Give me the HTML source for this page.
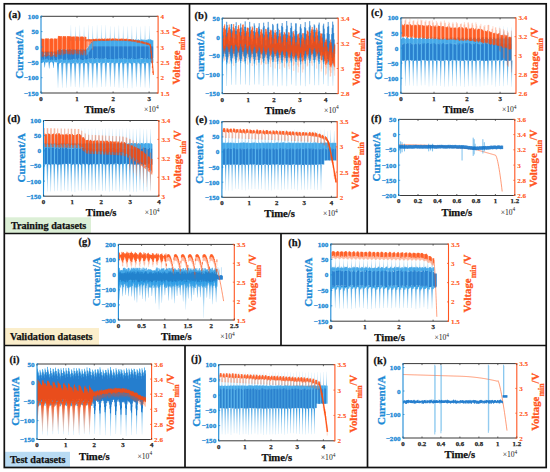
<!DOCTYPE html>
<html><head><meta charset="utf-8"><style>
html,body{margin:0;padding:0;background:#fff;width:550px;height:472px;overflow:hidden;position:relative}
svg text{font-family:'Liberation Serif', serif}
</style></head><body>
<svg width="550" height="472" viewBox="0 0 550 472" style="position:absolute;left:0;top:0;font-family:'Liberation Serif', serif"><rect width="550" height="472" fill="#fff"/><rect x="5" y="217.3" width="86" height="16.5" fill="#dcefd6"/><rect x="5" y="328" width="94" height="17" fill="#fbeecb"/><rect x="5" y="451.8" width="65" height="15.5" fill="#b9dbf3"/><text x="10.9" y="228.6" font-size="10.2" fill="#111" stroke="#111" stroke-width="0.25" text-anchor="start" font-weight="bold" >Training datasets</text><text x="10.0" y="339.6" font-size="10.2" fill="#111" stroke="#111" stroke-width="0.25" text-anchor="start" font-weight="bold" >Validation datasets</text><text x="10.0" y="462.9" font-size="10.2" fill="#111" stroke="#111" stroke-width="0.25" text-anchor="start" font-weight="bold" >Test datasets</text><linearGradient id="g1" gradientUnits="userSpaceOnUse" x1="0" y1="62.3" x2="0" y2="87.5"><stop offset="0" stop-color="#2f98e0" stop-opacity="0.95"/><stop offset="1" stop-color="#b0dcf6" stop-opacity="0.7"/></linearGradient><linearGradient id="g2" gradientUnits="userSpaceOnUse" x1="0" y1="40.8" x2="0" y2="26.1"><stop offset="0" stop-color="#6ab8ea" stop-opacity="0.8"/><stop offset="1" stop-color="#c5e5f8" stop-opacity="0.6"/></linearGradient><clipPath id="c1"><rect x="41.0" y="16.3" width="117.1" height="76.7"/></clipPath><g clip-path="url(#c1)" fill="none"><path d="M39.66,62.01L41.26,62.01L40.66,68.04L40.26,68.04ZM43.88,62.01L45.48,62.01L44.88,67.59L44.48,67.59ZM48.42,62.01L50.02,62.01L49.42,68.46L49.02,68.46ZM52.66,62.01L54.26,62.01L53.66,68.01L53.26,68.01ZM56.92,62.93L59.12,62.93L58.22,87.83L57.82,87.83ZM61.16,62.93L63.36,62.93L62.46,87.82L62.06,87.82ZM65.48,62.93L67.68,62.93L66.78,87.74L66.38,87.74ZM69.82,62.93L72.02,62.93L71.12,86.81L70.72,86.81ZM74.07,62.93L76.27,62.93L75.37,87.06L74.97,87.06ZM78.55,62.93L80.75,62.93L79.85,87.62L79.45,87.62ZM82.79,62.93L84.99,62.93L84.09,87.55L83.69,87.55ZM87.18,62.93L89.38,62.93L88.48,87.22L88.08,87.22ZM91.55,62.93L93.75,62.93L92.85,87.72L92.45,87.72ZM95.90,62.93L98.10,62.93L97.20,87.44L96.80,87.44ZM100.29,62.93L102.49,62.93L101.59,86.92L101.19,86.92ZM104.73,62.93L106.93,62.93L106.03,86.66L105.63,86.66ZM109.22,62.93L111.42,62.93L110.52,86.69L110.12,86.69ZM113.54,62.93L115.74,62.93L114.84,86.88L114.44,86.88ZM117.92,62.93L120.12,62.93L119.22,87.65L118.82,87.65ZM122.18,62.93L124.38,62.93L123.48,88.00L123.08,88.00ZM126.60,62.93L128.80,62.93L127.90,88.17L127.50,88.17ZM130.97,62.93L133.17,62.93L132.27,88.32L131.87,88.32ZM135.29,62.93L137.49,62.93L136.59,86.86L136.19,86.86ZM139.59,62.93L141.79,62.93L140.89,87.24L140.49,87.24ZM143.96,62.93L146.16,62.93L145.26,87.61L144.86,87.61ZM148.33,62.93L150.53,62.93L149.63,88.35L149.23,88.35Z" fill="url(#g1)"/><path d="M70.37,40.84L71.37,40.84L71.07,25.20L70.67,25.20ZM74.94,40.84L75.94,40.84L75.64,26.66L75.24,26.66ZM79.29,40.84L80.29,40.84L79.99,25.53L79.59,25.53ZM83.55,40.84L84.55,40.84L84.25,26.74L83.85,26.74ZM87.94,40.84L88.94,40.84L88.64,25.36L88.24,25.36ZM92.19,40.84L93.19,40.84L92.89,26.11L92.49,26.11ZM96.62,40.84L97.62,40.84L97.32,25.33L96.92,25.33ZM100.87,40.84L101.87,40.84L101.57,25.26L101.17,25.26ZM105.20,40.84L106.20,40.84L105.90,25.24L105.50,25.24ZM109.73,40.84L110.73,40.84L110.43,26.32L110.03,26.32ZM113.97,40.84L114.97,40.84L114.67,26.74L114.27,26.74ZM118.32,40.84L119.32,40.84L119.02,25.48L118.62,25.48ZM122.74,40.84L123.74,40.84L123.44,26.30L123.04,26.30ZM127.26,40.84L128.26,40.84L127.96,26.58L127.56,26.58ZM131.36,40.84L132.36,40.84L132.06,26.00L131.66,26.00ZM135.87,40.84L136.87,40.84L136.57,26.82L136.17,26.82ZM140.24,40.84L141.24,40.84L140.94,26.47L140.54,26.47ZM144.56,40.84L145.56,40.84L145.26,25.83L144.86,25.83ZM148.86,40.84L149.86,40.84L149.56,25.90L149.16,25.90Z" fill="url(#g2)"/><path d="M40.42,54.96V62.01M44.42,54.96V62.01M44.92,54.96V62.01M48.92,54.96V62.01M49.42,54.96V62.01M53.42,54.96V62.01M53.92,54.96V62.01M57.42,50.05V62.93M57.92,50.05V62.93M61.92,50.05V62.93M62.42,50.05V62.93M66.42,50.05V62.93M66.92,50.05V62.93M70.92,50.05V62.93M74.92,50.05V62.93M75.42,50.05V62.93M79.42,50.05V62.93M79.92,50.05V62.93M83.92,50.05V62.93M84.42,50.05V62.93M87.92,47.49V62.93M88.42,46.80V62.93M92.42,41.36V62.93M92.92,40.67V62.93M96.92,40.23V62.93M97.42,40.23V62.93M101.42,40.23V62.93M105.42,40.23V62.93M105.92,40.23V62.93M109.92,40.23V62.93M110.42,40.23V62.93M114.42,40.23V62.93M114.92,40.23V62.93M118.42,40.23V62.93M118.92,40.23V62.93M122.92,40.23V62.93M123.42,40.23V62.93M127.42,40.23V62.93M127.92,40.23V62.93M131.92,40.23V62.93M132.42,40.23V62.93M135.92,40.23V62.93M136.42,40.23V62.93M140.42,40.23V62.93M140.92,40.23V62.93M144.92,40.23V62.93M145.42,40.23V62.93M148.92,40.23V62.93M149.42,40.23V62.93" stroke="#4cb2ee" stroke-width="0.75"/><path d="M39.92,59.25V62.44M40.92,59.25V62.56M41.42,59.25V62.52M41.92,59.25V61.86M42.42,59.25V62.57M42.92,59.25V62.25M43.42,59.25V62.17M43.92,59.25V61.79M45.42,59.25V62.26M45.92,59.25V61.98M46.42,59.25V62.48M46.92,59.25V62.58M47.42,59.25V62.24M47.92,59.25V61.60M48.42,59.25V61.77M49.92,59.25V62.15M50.42,59.25V62.48M50.92,59.25V62.15M51.42,59.25V61.54M51.92,59.25V62.19M52.42,59.25V62.34M52.92,59.25V62.62M54.42,59.25V61.78M54.92,59.25V61.52M55.42,59.25V62.14M55.92,59.25V62.37M56.42,59.25V62.44M56.92,59.25V61.87M58.42,59.25V63.40M58.92,59.25V63.44M59.42,59.25V63.35M59.92,59.25V62.88M60.42,59.25V62.69M60.92,59.25V62.89M61.42,59.25V62.34M62.92,59.25V63.27M63.42,59.25V63.20M63.92,59.25V62.40M64.42,59.25V63.27M64.92,59.25V62.52M65.42,59.25V62.74M65.92,59.25V63.33M67.42,59.25V63.06M67.92,59.25V63.39M68.42,59.25V62.53M68.92,59.25V63.39M69.42,59.25V62.40M69.92,59.25V63.24M70.42,59.25V63.03M71.42,59.25V62.83M71.92,59.25V62.89M72.42,59.25V63.54M72.92,59.25V62.86M73.42,59.25V63.42M73.92,59.25V62.92M74.42,59.25V62.80M75.92,59.25V62.89M76.42,59.25V62.39M76.92,59.25V63.38M77.42,59.25V63.46M77.92,59.25V62.67M78.42,59.25V63.28M78.92,59.25V62.53M80.42,59.25V63.31M80.92,59.25V63.01M81.42,59.25V63.47M81.92,59.25V63.22M82.42,59.25V63.03M82.92,59.25V62.42M83.42,59.25V62.70M84.92,59.25V62.56M85.42,59.25V62.99M85.92,59.25V63.39M86.42,49.64V55.67M86.42,58.64V63.30M86.92,48.22V54.98M86.92,58.64V62.93M87.42,48.45V54.30M87.42,58.64V63.53M88.92,46.20V52.26M88.92,58.64V62.40M89.42,45.22V51.58M89.42,58.64V62.52M89.92,44.22V50.90M89.92,58.64V63.13M90.42,43.61V50.22M90.42,58.64V63.12M90.92,43.62V49.53M90.92,58.64V63.23M91.42,41.99V48.85M91.42,58.64V62.72M91.92,41.98V48.17M91.92,58.64V63.35M93.42,39.36V46.37M93.42,58.64V62.88M93.92,40.16V46.37M93.92,58.64V63.55M94.42,39.92V46.37M94.42,58.64V62.93M94.92,40.43V46.37M94.92,58.64V63.50M95.42,40.25V46.37M95.42,58.64V62.90M95.92,39.66V46.37M95.92,58.64V63.07M96.42,40.35V46.37M96.42,58.64V62.76M97.92,39.44V46.37M97.92,58.64V62.65M98.42,39.89V46.37M98.42,58.64V62.52M98.92,39.82V46.37M98.92,58.64V62.71M99.42,40.50V46.37M99.42,58.64V63.10M99.92,39.85V46.37M99.92,58.64V62.78M100.42,40.53V46.37M100.42,58.64V62.63M100.92,39.73V46.37M100.92,58.64V62.64M101.92,40.21V46.37M101.92,58.64V63.30M102.42,39.93V46.37M102.42,58.64V62.96M102.92,39.78V46.37M102.92,58.64V63.45M103.42,39.63V46.37M103.42,58.64V62.85M103.92,40.21V46.37M103.92,58.64V62.70M104.42,39.90V46.37M104.42,58.64V62.97M104.92,40.29V46.37M104.92,58.64V62.40M106.42,39.53V46.37M106.42,58.64V63.00M106.92,39.38V46.37M106.92,58.64V62.83M107.42,39.37V46.37M107.42,58.64V62.54M107.92,39.67V46.37M107.92,58.64V62.45M108.42,40.53V46.37M108.42,58.64V62.99M108.92,40.12V46.37M108.92,58.64V62.52M109.42,39.51V46.37M109.42,58.64V62.41M110.92,40.18V46.37M110.92,58.64V63.07M111.42,40.09V46.37M111.42,58.64V63.21M111.92,39.51V46.37M111.92,58.64V62.40M112.42,39.91V46.37M112.42,58.64V63.09M112.92,39.54V46.37M112.92,58.64V62.43M113.42,39.65V46.37M113.42,58.64V62.65M113.92,39.75V46.37M113.92,58.64V63.49M115.42,39.96V46.37M115.42,58.64V63.18M115.92,40.22V46.37M115.92,58.64V63.18M116.42,40.33V46.37M116.42,58.64V63.29M116.92,40.27V46.37M116.92,58.64V62.32M117.42,40.30V46.37M117.42,58.64V63.13M117.92,40.22V46.37M117.92,58.64V62.46M119.42,40.03V46.37M119.42,58.64V63.08M119.92,40.20V46.37M119.92,58.64V63.39M120.42,39.48V46.37M120.42,58.64V63.21M120.92,39.99V46.37M120.92,58.64V62.51M121.42,40.50V46.37M121.42,58.64V62.45M121.92,40.54V46.37M121.92,58.64V62.41M122.42,39.34V46.37M122.42,58.64V63.41M123.92,39.70V46.37M123.92,58.64V62.66M124.42,39.98V46.37M124.42,58.64V63.50M124.92,39.41V46.37M124.92,58.64V63.17M125.42,39.76V46.37M125.42,58.64V63.41M125.92,39.82V46.37M125.92,58.64V63.27M126.42,40.17V46.37M126.42,58.64V62.37M126.92,39.95V46.37M126.92,58.64V63.24M128.42,40.16V46.37M128.42,58.64V62.94M128.92,40.22V46.37M128.92,58.64V62.41M129.42,40.12V46.37M129.42,58.64V62.71M129.92,39.63V46.37M129.92,58.64V63.30M130.42,39.53V46.37M130.42,58.64V63.28M130.92,39.37V46.37M130.92,58.64V63.32M131.42,39.72V46.37M131.42,58.64V63.37M132.92,39.34V46.37M132.92,58.64V63.48M133.42,39.43V46.37M133.42,58.64V62.65M133.92,40.13V46.37M133.92,58.64V62.40M134.42,39.72V46.37M134.42,58.64V63.09M134.92,40.53V46.37M134.92,58.64V63.12M135.42,39.35V46.37M135.42,58.64V63.11M136.92,40.01V46.37M136.92,58.64V62.97M137.42,40.30V46.37M137.42,58.64V62.45M137.92,39.54V46.37M137.92,58.64V63.50M138.42,39.41V46.37M138.42,58.64V62.63M138.92,40.20V46.37M138.92,58.64V62.79M139.42,40.15V46.37M139.42,58.64V63.54M139.92,39.76V46.37M139.92,58.64V63.52M141.42,39.36V46.37M141.42,58.64V63.07M141.92,39.93V46.37M141.92,58.64V63.32M142.42,39.53V46.37M142.42,58.64V62.80M142.92,40.09V46.37M142.92,58.64V63.45M143.42,40.23V46.37M143.42,58.64V63.51M143.92,39.33V46.37M143.92,58.64V62.33M144.42,40.42V46.37M144.42,58.64V62.68M145.92,40.03V46.37M145.92,58.64V62.72M146.42,39.72V46.37M146.42,58.64V62.52M146.92,40.08V46.37M146.92,58.64V63.30M147.42,40.35V46.37M147.42,58.64V62.84M147.92,39.32V46.37M147.92,58.64V63.26M148.42,39.32V46.37M148.42,58.64V62.96M149.92,39.42V46.37M149.92,58.64V63.19M150.42,39.34V46.37M150.42,58.64V62.41M150.92,39.99V46.37M150.92,58.64V62.59M151.42,39.81V46.37M151.42,58.64V63.28M151.92,40.29V46.37M151.92,58.64V62.81M152.42,40.52V46.37M152.42,58.64V62.71M152.92,40.29V46.37M152.92,58.64V62.87" stroke="#2e9de6" stroke-width="0.75"/><path d="M39.92,51.58V59.47M40.92,51.58V59.42M41.42,51.58V59.78M41.92,51.58V59.59M42.42,51.58V58.67M42.92,51.58V59.72M43.42,51.58V59.08M43.92,51.58V59.61M45.42,51.58V59.31M45.92,51.58V59.16M46.42,51.58V58.66M46.92,51.58V59.27M47.42,51.58V58.79M47.92,51.58V59.31M48.42,51.58V59.79M49.92,51.58V59.52M50.42,51.58V59.66M50.92,51.58V59.56M51.42,51.58V59.19M51.92,51.58V59.36M52.42,51.58V59.65M52.92,51.58V59.54M54.42,51.58V58.70M54.92,51.58V59.80M55.42,51.58V59.38M55.92,51.58V59.78M56.42,51.58V59.87M56.92,51.58V58.79M58.42,49.43V59.42M58.92,49.43V59.27M59.42,49.43V58.85M59.92,49.43V59.69M60.42,49.43V58.81M60.92,49.43V58.92M61.42,49.43V58.87M62.92,49.43V58.96M63.42,49.43V59.83M63.92,49.43V59.32M64.42,49.43V59.60M64.92,49.43V58.76M65.42,49.43V59.76M65.92,49.43V59.28M67.42,49.43V58.67M67.92,49.43V59.66M68.42,49.43V59.69M68.92,49.43V59.19M69.42,49.43V59.22M69.92,49.43V59.61M70.42,49.43V59.55M71.42,49.43V59.30M71.92,49.43V59.25M72.42,49.43V59.64M72.92,49.43V58.98M73.42,49.43V58.90M73.92,49.43V58.92M74.42,49.43V59.32M75.92,49.43V59.31M76.42,49.43V58.79M76.92,49.43V58.83M77.42,49.43V59.57M77.92,49.43V59.68M78.42,49.43V58.68M78.92,49.43V58.65M80.42,49.43V59.45M80.92,49.43V59.19M81.42,49.43V59.24M81.92,49.43V59.74M82.42,49.43V59.71M82.92,49.43V59.68M83.42,49.43V59.80M84.92,49.43V59.09M85.42,49.43V58.81M85.92,49.43V59.54M86.42,55.67V59.19M86.92,54.98V58.90M87.42,54.30V58.94M88.92,52.26V58.67M89.42,51.58V58.64M89.92,50.90V58.05M90.42,50.22V58.76M90.92,49.53V58.34M91.42,48.85V58.18M91.92,48.17V58.69M93.42,46.37V58.06M93.92,46.37V58.81M94.42,46.37V59.01M94.92,46.37V58.76M95.42,46.37V58.53M95.92,46.37V58.17M96.42,46.37V58.36M97.92,46.37V58.48M98.42,46.37V58.63M98.92,46.37V58.16M99.42,46.37V59.09M99.92,46.37V58.48M100.42,46.37V58.27M100.92,46.37V59.17M101.92,46.37V58.36M102.42,46.37V58.78M102.92,46.37V58.46M103.42,46.37V58.88M103.92,46.37V58.43M104.42,46.37V58.68M104.92,46.37V58.05M106.42,46.37V58.06M106.92,46.37V58.99M107.42,46.37V59.09M107.92,46.37V58.97M108.42,46.37V58.65M108.92,46.37V58.86M109.42,46.37V59.10M110.92,46.37V58.80M111.42,46.37V58.73M111.92,46.37V58.90M112.42,46.37V59.02M112.92,46.37V58.48M113.42,46.37V59.19M113.92,46.37V58.90M115.42,46.37V58.83M115.92,46.37V58.45M116.42,46.37V59.05M116.92,46.37V58.14M117.42,46.37V59.14M117.92,46.37V58.55M119.42,46.37V58.61M119.92,46.37V58.06M120.42,46.37V58.99M120.92,46.37V58.08M121.42,46.37V58.38M121.92,46.37V58.77M122.42,46.37V58.95M123.92,46.37V58.10M124.42,46.37V58.58M124.92,46.37V58.46M125.42,46.37V58.39M125.92,46.37V58.78M126.42,46.37V58.69M126.92,46.37V58.96M128.42,46.37V59.23M128.92,46.37V58.43M129.42,46.37V58.74M129.92,46.37V58.63M130.42,46.37V58.97M130.92,46.37V58.64M131.42,46.37V58.09M132.92,46.37V59.08M133.42,46.37V58.17M133.92,46.37V59.02M134.42,46.37V58.79M134.92,46.37V58.91M135.42,46.37V59.00M136.92,46.37V59.19M137.42,46.37V58.80M137.92,46.37V58.31M138.42,46.37V58.94M138.92,46.37V58.08M139.42,46.37V58.91M139.92,46.37V58.09M141.42,46.37V58.08M141.92,46.37V58.11M142.42,46.37V58.30M142.92,46.37V58.29M143.42,46.37V59.17M143.92,46.37V58.17M144.42,46.37V58.64M145.92,46.37V58.49M146.42,46.37V59.10M146.92,46.37V58.35M147.42,46.37V58.17M147.92,46.37V58.63M148.42,46.37V59.13M149.92,46.37V59.20M150.42,46.37V58.54M150.92,46.37V58.93M151.42,46.37V58.49M151.92,46.37V58.94M152.42,46.37V58.85M152.92,46.37V58.28" stroke="#0f70c8" stroke-width="0.75"/><path d="M40.42,39.31V53.12M44.42,39.31V53.12M44.92,39.31V53.12M48.92,39.31V53.12M49.42,39.31V53.12M53.42,39.31V53.12M53.92,39.31V53.12M57.42,37.78V50.05M57.92,37.78V50.05M61.92,37.78V50.05M62.42,37.78V50.05M66.42,37.78V50.05M66.92,37.78V50.05M70.92,37.78V50.05M74.92,37.78V50.05M75.42,37.78V50.05M79.42,37.78V50.05M79.92,37.78V50.05M83.92,37.78V50.05M84.42,37.78V50.05M87.92,39.31V41.76M87.92,39.31V50.05M88.42,39.29V41.74M88.42,39.29V50.05M92.42,39.14V41.59M92.42,39.14V50.05M92.92,39.12V41.57M92.92,39.12V50.05M96.92,38.98V41.44M97.42,38.97V41.42M101.42,38.85V41.31M105.42,38.76V41.22M105.92,38.76V41.21M109.92,38.71V41.16M110.42,38.70V41.16M114.42,38.70V41.15M114.92,38.70V41.15M118.42,38.73V41.18M118.92,38.74V41.19M122.92,38.81V41.26M123.42,38.82V41.27M127.42,39.01V41.46M127.92,39.04V41.50M131.92,39.48V41.94M132.42,39.55V42.01M135.92,40.13V42.59M136.42,40.23V42.69M140.42,41.04V43.49M140.92,41.14V43.60M144.92,42.10V44.56M145.42,42.24V44.69M148.92,43.26V45.72M149.42,43.42V45.88" stroke="#ff4a0a" stroke-width="0.55" opacity="0.4"/><path d="M39.92,53.12V56.12M40.92,53.12V56.31M41.42,53.12V56.88M41.92,53.12V56.37M42.42,53.12V56.84M42.92,53.12V56.03M43.42,53.12V56.99M43.92,53.12V56.03M45.42,53.12V56.66M45.92,53.12V56.57M46.42,53.12V56.82M46.92,53.12V56.05M47.42,53.12V56.04M47.92,53.12V55.88M48.42,53.12V55.59M49.92,53.12V56.25M50.42,53.12V56.87M50.92,53.12V56.28M51.42,53.12V56.59M51.92,53.12V56.83M52.42,53.12V56.02M52.92,53.12V56.06M54.42,53.12V55.86M54.92,53.12V55.64M55.42,53.12V56.99M55.92,53.12V57.01M56.42,53.12V57.06M56.92,53.12V56.46M58.42,50.05V54.43M58.92,50.05V54.92M59.42,50.05V54.27M59.92,50.05V53.17M60.42,50.05V55.16M60.92,50.05V55.02M61.42,50.05V53.56M62.92,50.05V55.50M63.42,50.05V53.22M63.92,50.05V54.68M64.42,50.05V54.04M64.92,50.05V53.61M65.42,50.05V53.73M65.92,50.05V53.60M67.42,50.05V53.79M67.92,50.05V53.59M68.42,50.05V54.71M68.92,50.05V53.98M69.42,50.05V53.54M69.92,50.05V54.13M70.42,50.05V54.70M71.42,50.05V53.32M71.92,50.05V54.49M72.42,50.05V54.41M72.92,50.05V54.21M73.42,50.05V54.89M73.92,50.05V53.33M74.42,50.05V53.87M75.92,50.05V53.85M76.42,50.05V53.26M76.92,50.05V55.39M77.42,50.05V53.37M77.92,50.05V53.40M78.42,50.05V54.37M78.92,50.05V54.30M80.42,50.05V55.52M80.92,50.05V54.04M81.42,50.05V53.19M81.92,50.05V54.91M82.42,50.05V54.94M82.92,50.05V55.35M83.42,50.05V53.27M84.92,50.05V55.41M85.42,50.05V53.30M85.92,50.05V55.30M86.42,41.15V48.13M86.92,41.15V47.61M87.42,41.15V47.10M88.92,41.11V45.55M89.42,41.09V45.03M89.92,41.07V44.51M90.42,41.05V43.98M90.92,41.03V43.45M91.42,41.02V42.91M91.92,41.00V42.38" stroke="#ff4a0a" stroke-width="0.75" opacity="0.55"/><path d="M39.92,38.96V52.75M40.92,38.98V53.10M41.42,38.50V53.30M41.92,38.65V52.02M42.42,38.83V52.24M42.92,38.89V52.34M43.42,38.96V53.00M43.92,38.81V53.29M45.42,38.57V52.39M45.92,38.56V52.20M46.42,38.54V53.32M46.92,38.53V52.70M47.42,38.64V52.64M47.92,38.71V52.02M48.42,38.39V52.75M49.92,38.99V52.70M50.42,38.53V54.20M50.92,38.95V52.20M51.42,38.47V52.33M51.92,38.42V52.17M52.42,38.71V53.77M52.92,38.78V53.31M54.42,38.62V53.08M54.92,38.47V52.43M55.42,38.61V54.09M55.92,38.79V53.94M56.42,38.78V54.09M56.92,38.85V53.98M58.42,35.92V49.19M58.92,36.34V51.02M59.42,35.98V51.22M59.92,36.25V51.21M60.42,36.36V50.63M60.92,36.39V49.36M61.42,36.11V49.18M62.92,36.43V50.00M63.42,36.23V50.64M63.92,36.08V48.85M64.42,36.55V50.79M64.92,36.29V50.10M65.42,36.22V49.04M65.92,36.51V49.34M67.42,36.17V50.29M67.92,36.21V50.90M68.42,36.37V48.87M68.92,36.19V51.24M69.42,36.27V50.21M69.92,36.67V50.56M70.42,36.27V50.95M71.42,36.59V49.06M71.92,36.85V49.99M72.42,36.77V49.31M72.92,36.57V50.48M73.42,36.75V49.90M73.92,36.45V49.90M74.42,36.61V50.03M75.92,36.38V50.10M76.42,36.63V50.64M76.92,36.71V50.98M77.42,36.52V49.63M77.92,36.92V49.65M78.42,36.78V48.94M78.92,36.77V50.88M80.42,36.63V50.49M80.92,36.88V51.23M81.42,36.61V48.86M81.92,36.63V51.18M82.42,36.62V49.04M82.92,36.70V49.87M83.42,37.10V50.23M84.92,36.65V51.07M85.42,36.85V50.44M85.92,37.06V49.98M86.42,39.43V41.27M86.92,39.40V41.35M87.42,39.28V41.01M88.92,39.07V41.35M89.42,39.25V41.16M89.92,39.10V40.87M90.42,39.44V41.33M90.92,39.45V41.24M91.42,39.33V41.15M91.92,39.30V41.03M93.42,38.82V41.10M93.92,39.10V41.00M94.42,39.21V41.21M94.92,39.17V41.18M95.42,38.93V40.72M95.92,38.72V40.96M96.42,38.79V41.12M97.92,39.17V40.60M98.42,38.73V40.59M98.92,39.09V40.64M99.42,38.70V40.99M99.92,38.90V40.62M100.42,38.86V40.72M100.92,39.12V40.86M101.92,38.55V40.53M102.42,38.66V40.55M102.92,38.97V40.87M103.42,39.07V40.94M103.92,38.92V40.53M104.42,38.54V40.86M104.92,38.80V40.91M106.42,38.93V40.73M106.92,38.73V40.80M107.42,38.50V40.57M107.92,39.02V40.58M108.42,38.94V40.68M108.92,38.56V40.86M109.42,38.47V40.42M110.92,38.65V40.24M111.42,38.94V40.82M111.92,38.84V40.69M112.42,38.46V40.26M112.92,38.67V40.27M113.42,38.54V40.57M113.92,38.93V40.28M115.42,38.41V40.40M115.92,38.77V40.51M116.42,38.71V40.30M116.92,38.94V40.59M117.42,38.88V40.81M117.92,38.78V40.41M119.42,39.01V40.68M119.92,38.67V40.59M120.42,38.82V40.75M120.92,39.06V40.38M121.42,38.72V40.63M121.92,38.57V40.43M122.42,38.78V40.85M123.92,38.67V40.58M124.42,39.01V40.51M124.92,39.02V40.93M125.42,38.87V40.99M125.92,39.21V40.69M126.42,38.70V40.69M126.92,38.84V40.53M128.42,39.14V40.82M128.92,39.42V41.14M129.42,39.00V41.21M129.92,39.35V40.79M130.42,39.42V40.97M130.92,39.40V41.36M131.42,39.59V41.32M132.92,39.69V41.74M133.42,39.44V41.24M133.92,40.07V41.47M134.42,40.07V41.81M134.92,40.18V41.51M135.42,39.84V41.69M136.92,40.07V42.25M137.42,40.49V42.56M137.92,40.81V42.67M138.42,40.74V42.24M138.92,40.60V42.72M139.42,40.58V42.52M139.92,40.95V42.94M141.42,41.29V43.24M141.92,41.22V43.02M142.42,41.59V43.42M142.92,41.44V43.62M143.42,41.83V43.53M143.92,42.10V43.83M144.42,42.13V43.84M145.92,42.16V44.06M146.42,42.47V44.48M146.92,42.81V44.65M147.42,42.87V44.75M147.92,42.86V44.61M148.42,42.90V44.75M149.92,43.78V45.66M150.42,45.88V48.03M150.92,51.31V52.63M151.42,56.25V57.95M151.92,61.17V62.74M152.42,66.08V67.99M152.92,71.18V73.04" stroke="#ff4a0a" stroke-width="0.75"/><path d="M149.09,44.24L149.27,44.30L149.45,44.35L149.63,44.41L149.81,44.47L149.99,44.53L150.17,44.59L150.35,45.33L150.53,46.39L150.71,47.61L150.89,48.96L151.07,50.41L151.25,51.94L151.43,53.56L151.61,55.24L151.79,56.98L151.97,58.78L152.15,60.64L152.34,62.54L152.52,64.49L152.70,66.49L152.88,68.53L153.06,70.61L153.24,72.72L153.42,74.88" stroke="#ff4a0a" stroke-width="1.2" opacity="0.85"/></g><path d="M41.0,16.3H158.1M41.0,93.0H158.1" stroke="#3a3a3a" stroke-width="1" fill="none"/><path d="M41.0,15.8V93.5" stroke="#1c8ad6" stroke-width="1.1" fill="none"/><path d="M158.1,15.8V93.5" stroke="#ff5520" stroke-width="1.1" fill="none"/><path d="M41.0,93.0v-1.5M41.0,16.3v1.5M77.0,93.0v-1.5M77.0,16.3v1.5M113.1,93.0v-1.5M113.1,16.3v1.5M149.1,93.0v-1.5M149.1,16.3v1.5" stroke="#3a3a3a" stroke-width="0.8" fill="none"/><path d="M41.0,16.3h1.5M41.0,31.6h1.5M41.0,47.0h1.5M41.0,62.3h1.5M41.0,77.7h1.5M41.0,93.0h1.5" stroke="#1c8ad6" stroke-width="0.8" fill="none"/><path d="M158.1,16.3h-1.5M158.1,31.6h-1.5M158.1,47.0h-1.5M158.1,62.3h-1.5M158.1,77.7h-1.5M158.1,93.0h-1.5" stroke="#ff5520" stroke-width="0.8" fill="none"/><text x="41.0" y="100.9" font-size="6.8" fill="#222" stroke="#222" stroke-width="0.25" text-anchor="middle" font-weight="bold" >0</text><text x="77.0" y="100.9" font-size="6.8" fill="#222" stroke="#222" stroke-width="0.25" text-anchor="middle" font-weight="bold" >1</text><text x="113.1" y="100.9" font-size="6.8" fill="#222" stroke="#222" stroke-width="0.25" text-anchor="middle" font-weight="bold" >2</text><text x="149.1" y="100.9" font-size="6.8" fill="#222" stroke="#222" stroke-width="0.25" text-anchor="middle" font-weight="bold" >3</text><text x="38.5" y="18.8" font-size="7.1" fill="#1c8ad6" stroke="#1c8ad6" stroke-width="0.3" text-anchor="end" font-weight="bold" >100</text><text x="38.5" y="34.1" font-size="7.1" fill="#1c8ad6" stroke="#1c8ad6" stroke-width="0.3" text-anchor="end" font-weight="bold" >50</text><text x="38.5" y="49.5" font-size="7.1" fill="#1c8ad6" stroke="#1c8ad6" stroke-width="0.3" text-anchor="end" font-weight="bold" >0</text><text x="38.5" y="64.8" font-size="7.1" fill="#1c8ad6" stroke="#1c8ad6" stroke-width="0.3" text-anchor="end" font-weight="bold" >&#8722;50</text><text x="38.5" y="80.2" font-size="7.1" fill="#1c8ad6" stroke="#1c8ad6" stroke-width="0.3" text-anchor="end" font-weight="bold" >&#8722;100</text><text x="38.5" y="95.5" font-size="7.1" fill="#1c8ad6" stroke="#1c8ad6" stroke-width="0.3" text-anchor="end" font-weight="bold" >&#8722;150</text><text x="160.6" y="18.8" font-size="7.1" fill="#ff5520" stroke="#ff5520" stroke-width="0.1" text-anchor="start" font-weight="bold" >4</text><text x="160.6" y="34.1" font-size="7.1" fill="#ff5520" stroke="#ff5520" stroke-width="0.1" text-anchor="start" font-weight="bold" >3.5</text><text x="160.6" y="49.5" font-size="7.1" fill="#ff5520" stroke="#ff5520" stroke-width="0.1" text-anchor="start" font-weight="bold" >3</text><text x="160.6" y="64.8" font-size="7.1" fill="#ff5520" stroke="#ff5520" stroke-width="0.1" text-anchor="start" font-weight="bold" >2.5</text><text x="160.6" y="80.2" font-size="7.1" fill="#ff5520" stroke="#ff5520" stroke-width="0.1" text-anchor="start" font-weight="bold" >2</text><text x="160.6" y="95.5" font-size="7.1" fill="#ff5520" stroke="#ff5520" stroke-width="0.1" text-anchor="start" font-weight="bold" >1.5</text><text x="99.5" y="113.0" font-size="10.7" fill="#111" stroke="#111" stroke-width="0.25" text-anchor="middle" font-weight="bold" >Time/s</text><text x="158.6" y="112.0" font-size="7.6" fill="#222" text-anchor="end" font-weight="normal">&#215;10<tspan dy="-3.2" font-size="5.4">4</tspan></text><text transform="translate(22.5,54.1) rotate(-90)" font-size="11" fill="#1c8ad6" stroke="#1c8ad6" stroke-width="0.3" text-anchor="middle" font-weight="bold">Current/A</text><text transform="translate(180.1,55.6) rotate(-90)" font-size="10.7" fill="#ff5520" stroke="#ff5520" stroke-width="0.3" text-anchor="middle" font-weight="bold">Voltage<tspan dy="5" dx="0.5" font-size="7.6">min</tspan><tspan dy="-5">/V</tspan></text><text x="8.5" y="17.5" font-size="10.5" fill="#111" stroke="#111" stroke-width="0.25" text-anchor="start" font-weight="bold" >(a)</text><linearGradient id="g3" gradientUnits="userSpaceOnUse" x1="0" y1="59.7" x2="0" y2="85.3"><stop offset="0" stop-color="#4aaae8" stop-opacity="0.9"/><stop offset="1" stop-color="#a8d8f4" stop-opacity="0.8"/></linearGradient><clipPath id="c2"><rect x="222.2" y="18.2" width="116.0" height="75.4"/></clipPath><g clip-path="url(#c2)" fill="none"><path d="M221.62,59.67L222.82,59.67L222.52,84.60L221.92,84.60ZM226.08,59.67L227.28,59.67L226.98,85.98L226.38,85.98ZM230.79,59.67L231.99,59.67L231.69,84.78L231.09,84.78ZM235.29,59.67L236.49,59.67L236.19,84.80L235.59,84.80ZM239.99,59.67L241.19,59.67L240.89,84.60L240.29,84.60ZM244.75,59.67L245.95,59.67L245.65,84.53L245.05,84.53ZM249.11,59.67L250.31,59.67L250.01,85.32L249.41,85.32ZM253.86,59.67L255.06,59.67L254.76,84.38L254.16,84.38ZM258.40,59.67L259.60,59.67L259.30,84.46L258.70,84.46ZM263.18,59.67L264.38,59.67L264.08,86.02L263.48,86.02ZM267.59,59.67L268.79,59.67L268.49,85.61L267.89,85.61ZM272.33,59.67L273.53,59.67L273.23,85.60L272.63,85.60ZM276.91,59.67L278.11,59.67L277.81,86.43L277.21,86.43ZM281.52,59.67L282.72,59.67L282.42,85.43L281.82,85.43ZM286.19,59.67L287.39,59.67L287.09,86.16L286.49,86.16ZM290.84,59.67L292.04,59.67L291.74,84.59L291.14,84.59ZM295.41,59.67L296.61,59.67L296.31,85.71L295.71,85.71ZM300.03,59.67L301.23,59.67L300.93,85.57L300.33,85.57ZM304.67,59.67L305.87,59.67L305.57,86.30L304.97,86.30ZM309.17,59.67L310.37,59.67L310.07,84.28L309.47,84.28ZM313.79,59.67L314.99,59.67L314.69,85.28L314.09,85.28ZM318.24,59.67L319.44,59.67L319.14,85.22L318.54,85.22ZM322.91,59.67L324.11,59.67L323.81,84.25L323.21,84.25ZM327.49,59.67L328.69,59.67L328.39,86.02L327.79,86.02ZM332.31,59.67L333.51,59.67L333.21,85.87L332.61,85.87Z" fill="url(#g3)"/><path d="M222.20,61.30V63.56M222.70,59.88V62.14M223.20,56.17V58.44M223.70,54.04V56.30M224.20,51.16V53.42M224.70,50.33V52.60M225.20,51.74V54.01M225.70,54.37V56.63M226.20,57.37V59.63M226.70,62.06V64.32M227.20,60.44V62.70M227.70,57.22V59.48M228.20,54.46V56.72M228.70,49.90V52.16M229.20,48.80V51.06M229.70,51.69V53.95M230.20,53.64V55.91M230.70,58.24V60.50M231.20,60.05V62.31M231.70,61.29V63.55M232.20,56.23V58.49M232.70,55.51V57.77M233.20,51.59V53.85M233.70,49.11V51.37M234.20,51.50V53.76M234.70,53.93V56.19M235.20,57.12V59.38M235.70,60.80V63.06M236.20,60.27V62.54M236.70,57.64V59.90M237.20,55.15V57.41M237.70,51.16V53.43M238.20,49.73V51.99M238.70,50.42V52.68M239.20,53.23V55.49M239.70,57.16V59.42M240.20,58.49V60.75M240.70,60.77V63.04M241.20,58.72V60.98M241.70,56.71V58.97M242.20,51.94V54.20M242.70,49.92V52.18M243.20,49.57V51.83M243.70,53.93V56.19M244.20,54.77V57.04M244.70,59.11V61.37M245.20,61.23V63.49M245.70,58.48V60.74M246.20,55.80V58.06M246.70,53.08V55.35M247.20,51.49V53.75M247.70,50.06V52.32M248.20,51.89V54.15M248.70,54.93V57.20M249.20,57.20V59.46M249.70,60.02V62.28M250.20,60.94V63.21M250.70,56.21V58.47M251.20,54.91V57.17M251.70,51.23V53.49M252.20,48.12V50.38M252.70,51.54V53.81M253.20,54.69V56.96M253.70,56.98V59.24M254.20,61.31V63.57M254.70,61.21V63.47M255.20,57.61V59.87M255.70,54.66V56.92M256.20,50.70V52.96M256.70,48.76V51.02M257.20,50.26V52.52M257.70,54.18V56.44M258.20,57.74V60.00M258.70,60.28V62.54M259.20,60.31V62.57M259.70,57.65V59.92M260.20,55.68V57.94M260.70,51.79V54.06M261.20,49.22V51.48M261.70,50.86V53.12M262.20,52.44V54.70M262.70,56.55V58.81M263.20,59.81V62.07M263.70,60.77V63.03M264.20,58.20V60.47M264.70,55.61V57.88M265.20,54.04V56.30M265.70,50.04V52.30M266.20,49.39V51.65M266.70,52.73V54.99M267.20,56.13V58.39M267.70,58.01V60.27M268.20,61.51V63.77M268.70,59.70V61.96M269.20,57.13V59.40M269.70,53.83V56.09M270.20,50.33V52.59M270.70,47.91V50.17M271.20,51.29V53.56M271.70,54.71V56.97M272.20,57.50V59.77M272.70,59.75V62.01M273.20,59.56V61.82M273.70,58.21V60.47M274.20,54.45V56.71M274.70,51.85V54.11M275.20,48.31V50.58M275.70,51.94V54.20M276.20,53.93V56.19M276.70,56.13V58.39M277.20,59.41V61.67M277.70,61.64V63.91M278.20,58.38V60.64M278.70,55.62V57.88M279.20,52.54V54.80M279.70,48.71V50.97M280.20,49.85V52.11M280.70,52.95V55.21M281.20,57.63V59.90M281.70,60.05V62.31M282.20,60.81V63.07M282.70,57.83V60.10M283.20,54.91V57.17M283.70,51.84V54.10M284.20,49.11V51.37M284.70,50.54V52.80M285.20,53.95V56.21M285.70,55.90V58.16M286.20,58.07V60.33M286.70,61.01V63.28M287.20,60.09V62.36M287.70,55.94V58.20M288.20,52.16V54.42M288.70,51.35V53.62M289.20,48.55V50.81M289.70,51.70V53.96M290.20,55.13V57.39M290.70,58.42V60.68M291.20,60.07V62.33M291.70,60.19V62.45M292.20,56.19V58.45M292.70,53.78V56.05M293.20,51.64V53.91M293.70,48.07V50.33M294.20,51.38V53.64M294.70,55.26V57.52M295.20,58.46V60.72M295.70,59.57V61.83M296.20,59.77V62.03M296.70,57.65V59.91M297.20,53.55V55.81M297.70,52.45V54.71M298.20,48.76V51.02M298.70,50.04V52.30M299.20,54.87V57.13M299.70,58.01V60.27M300.20,58.81V61.07M300.70,62.15V64.41M301.20,58.82V61.08M301.70,54.37V56.63M302.20,51.75V54.01M302.70,48.23V50.49M303.20,50.04V52.31M303.70,52.81V55.07M304.20,57.27V59.53M304.70,58.82V61.08M305.20,61.37V63.63M305.70,58.11V60.37M306.20,56.28V58.54M306.70,52.13V54.39M307.20,49.17V51.43M307.70,48.87V51.13M308.20,51.79V54.05M308.70,56.17V58.43M309.20,57.70V59.96M309.70,60.69V62.95M310.20,58.70V60.96M310.70,57.39V59.65M311.20,52.94V55.20M311.70,50.16V52.42M312.20,48.53V50.80M312.70,51.35V53.61M313.20,54.09V56.36M313.70,57.73V60.00M314.20,60.43V62.69M314.70,60.00V62.26M315.20,57.38V59.64M315.70,54.93V57.19M316.20,52.29V54.55M316.70,48.49V50.75M317.20,51.57V53.83M317.70,53.30V55.56M318.20,58.02V60.28M318.70,59.40V61.66M319.20,61.67V63.93M319.70,56.70V58.96M320.20,53.76V56.02M320.70,52.62V54.88M321.20,49.95V52.21M321.70,49.85V52.11M322.20,53.23V55.50M322.70,57.46V59.72M323.20,60.05V62.31M323.70,61.72V63.98M324.20,59.13V61.39M324.70,56.54V58.80M325.20,51.52V53.78M325.70,48.66V50.93M326.20,49.15V51.41M326.70,53.43V55.69M327.20,56.82V59.08M327.70,58.83V61.10M328.20,62.10V64.36M328.70,59.39V61.66M329.20,55.16V57.42M329.70,52.24V54.50M330.20,50.67V52.93M330.70,48.37V50.63M331.20,52.90V55.16M331.70,55.84V58.10M332.20,58.67V60.94M332.70,61.20V63.46M333.20,60.30V62.56M333.70,56.10V58.37M334.20,54.70V56.97M334.70,51.49V53.75" stroke="#2e9de6" stroke-width="0.75"/><path d="M222.20,20.42V61.30M222.70,27.43V59.88M223.20,34.72V56.17M223.70,39.21V54.04M224.20,45.72V51.16M224.70,45.73V50.33M225.20,40.26V51.74M225.70,34.85V54.37M226.20,27.82V57.37M226.70,21.78V62.06M227.20,25.06V60.44M227.70,33.03V57.22M228.20,39.68V54.46M228.70,43.88V49.90M229.20,45.03V48.80M229.70,41.17V51.69M230.20,37.35V53.64M230.70,29.13V58.24M231.20,24.31V60.05M231.70,23.94V61.29M232.20,30.39V56.23M232.70,37.51V55.51M233.20,42.73V51.59M233.70,45.34V49.11M234.20,45.13V51.50M234.70,38.33V53.93M235.20,30.99V57.12M235.70,26.00V60.80M236.20,22.22V60.27M236.70,30.95V57.64M237.20,35.17V55.15M237.70,42.50V51.16M238.20,45.96V49.73M238.70,46.44V50.42M239.20,39.74V53.23M239.70,31.75V57.16M240.20,27.92V58.49M240.70,23.49V60.77M241.20,27.41V58.72M241.70,35.08V56.71M242.20,39.82V51.94M242.70,46.15V49.92M243.20,45.80V49.57M243.70,39.02V53.93M244.20,33.30V54.77M244.70,26.75V59.11M245.20,21.37V61.23M245.70,26.90V58.48M246.20,33.13V55.80M246.70,39.94V53.08M247.20,46.28V51.49M247.70,46.29V50.06M248.20,40.92V51.89M248.70,36.68V54.93M249.20,28.27V57.20M249.70,21.85V60.02M250.20,26.64V60.94M250.70,31.20V56.21M251.20,38.94V54.91M251.70,44.42V51.23M252.20,44.35V48.12M252.70,41.44V51.54M253.20,38.12V54.69M253.70,31.03V56.98M254.20,23.34V61.31M254.70,25.63V61.21M255.20,31.76V57.61M255.70,37.35V54.66M256.20,43.26V50.70M256.70,44.99V48.76M257.20,45.44V50.26M257.70,37.66V54.18M258.20,30.73V57.74M258.70,26.66V60.28M259.20,23.16V60.31M259.70,28.83V57.65M260.20,35.52V55.68M260.70,40.71V51.79M261.20,45.45V49.22M261.70,44.35V50.86M262.20,38.77V52.44M262.70,34.01V56.55M263.20,27.63V59.81M263.70,22.66V60.77M264.20,26.13V58.20M264.70,34.64V55.61M265.20,40.20V54.04M265.70,45.41V50.04M266.20,45.62V49.39M266.70,39.49V52.73M267.20,34.82V56.13M267.70,27.62V58.01M268.20,21.88V61.51M268.70,27.47V59.70M269.20,32.00V57.13M269.70,38.16V53.83M270.20,45.62V50.33M270.70,44.14V47.91M271.20,43.08V51.29M271.70,37.12V54.71M272.20,29.75V57.50M272.70,23.92V59.75M273.20,25.24V59.56M273.70,31.49V58.21M274.20,38.66V54.45M274.70,43.77V51.85M275.20,44.54V48.31M275.70,43.71V51.94M276.20,36.32V53.93M276.70,31.95V56.13M277.20,24.02V59.41M277.70,23.44V61.64M278.20,28.66V58.38M278.70,36.07V55.62M279.20,42.65V52.54M279.70,44.94V48.71M280.20,43.43V49.85M280.70,37.37V52.95M281.20,32.05V57.63M281.70,25.85V60.05M282.20,23.05V60.81M282.70,27.16V57.83M283.20,34.19V54.91M283.70,39.78V51.84M284.20,45.34V49.11M284.70,45.90V50.54M285.20,39.95V53.95M285.70,33.82V55.90M286.20,29.15V58.07M286.70,21.02V61.01M287.20,25.65V60.09M287.70,34.60V55.94M288.20,39.83V52.16M288.70,44.25V51.35M289.20,44.78V48.55M289.70,41.19V51.70M290.20,35.36V55.13M290.70,28.01V58.42M291.20,22.84V60.07M291.70,26.22V60.19M292.20,31.44V56.19M292.70,36.81V53.78M293.20,45.60V51.64M293.70,44.30V48.07M294.20,42.25V51.38M294.70,35.92V55.26M295.20,29.54V58.46M295.70,23.37V59.57M296.20,23.40V59.77M296.70,31.10V57.65M297.20,36.21V53.55M297.70,44.16V52.45M298.20,44.99V48.76M298.70,43.66V50.04M299.20,38.07V54.87M299.70,32.72V58.01M300.20,26.67V58.81M300.70,24.15V62.15M301.20,28.46V58.82M301.70,34.66V54.37M302.20,41.05V51.75M302.70,44.46V48.23M303.20,46.27V50.04M303.70,39.71V52.81M304.20,33.04V57.27M304.70,27.05V58.82M305.20,22.11V61.37M305.70,28.18V58.11M306.20,33.77V56.28M306.70,39.49V52.13M307.20,44.80V49.17M307.70,45.10V48.87M308.20,40.17V51.79M308.70,35.84V56.17M309.20,27.25V57.70M309.70,21.13V60.69M310.20,25.44V58.70M310.70,33.09V57.39M311.20,39.67V52.94M311.70,44.58V50.16M312.20,44.76V48.53M312.70,43.05V51.35M313.20,35.44V54.09M313.70,29.61V57.73M314.20,24.37V60.43M314.70,25.45V60.00M315.20,29.80V57.38M315.70,36.56V54.93M316.20,43.51V52.29M316.70,44.72V48.49M317.20,42.31V51.57M317.70,36.05V53.30M318.20,31.78V58.02M318.70,24.57V59.40M319.20,22.59V61.67M319.70,31.10V56.70M320.20,35.67V53.76M320.70,42.38V52.62M321.20,46.18V49.95M321.70,43.27V49.85M322.20,37.49V53.23M322.70,33.55V57.46M323.20,25.55V60.05M323.70,23.68V61.72M324.20,28.68V59.13M324.70,34.22V56.54M325.20,42.29V51.52M325.70,44.89V48.66M326.20,45.38V49.15M326.70,39.83V53.43M327.20,33.16V56.82M327.70,26.77V58.83M328.20,21.99V62.10M328.70,26.26V59.39M329.20,33.97V55.16M329.70,40.89V52.24M330.20,45.76V50.67M330.70,44.60V48.37M331.20,42.24V52.90M331.70,34.20V55.84M332.20,27.83V58.67M332.70,21.62V61.20M333.20,24.71V60.30M333.70,33.05V56.10M334.20,39.49V54.70M334.70,45.04V51.49" stroke="#0f70c8" stroke-width="0.75"/><path d="M222.20,43.46V44.30M222.70,36.92V45.45M223.20,31.88V48.54M223.70,28.06V48.22M224.20,26.01V51.34M224.70,24.38V49.89M225.20,29.06V48.02M225.70,29.92V48.58M226.20,36.16V46.11M226.70,39.12V44.43M227.20,36.82V43.56M227.70,32.66V47.28M228.20,30.43V47.33M228.70,27.59V49.69M229.20,24.50V52.22M229.70,27.29V48.74M230.20,30.09V48.30M230.70,32.49V45.84M231.20,38.93V45.14M231.70,37.02V45.15M232.20,33.22V45.83M232.70,31.48V49.29M233.20,27.14V48.94M233.70,24.13V53.49M234.20,28.12V50.74M234.70,29.53V49.29M235.20,34.24V45.17M235.70,38.71V44.16M236.20,39.64V44.71M236.70,34.14V46.35M237.20,29.44V47.11M237.70,29.15V49.63M238.20,26.47V50.79M238.70,25.03V51.80M239.20,29.12V48.39M239.70,32.93V47.51M240.20,35.54V44.35M240.70,40.39V43.68M241.20,36.06V46.68M241.70,31.97V46.64M242.20,27.75V50.01M242.70,24.82V51.14M243.20,24.43V52.03M243.70,29.34V50.14M244.20,31.05V48.03M244.70,36.45V44.45M245.20,41.40V42.40M245.70,36.02V44.40M246.20,32.49V48.05M246.70,30.86V48.21M247.20,28.07V50.14M247.70,27.36V53.64M248.20,28.07V49.71M248.70,32.15V47.63M249.20,36.72V45.65M249.70,41.81V45.81M250.20,37.31V44.79M250.70,33.75V48.36M251.20,30.13V50.59M251.70,29.57V52.41M252.20,26.46V53.88M252.70,27.67V51.15M253.20,31.91V48.85M253.70,35.10V48.69M254.20,38.92V47.00M254.70,39.46V44.54M255.20,35.66V47.07M255.70,32.70V48.94M256.20,30.04V52.79M256.70,28.03V53.50M257.20,28.21V51.72M257.70,32.01V51.07M258.20,33.90V50.35M258.70,38.15V47.08M259.20,43.21V46.35M259.70,36.40V47.77M260.20,34.64V49.16M260.70,31.65V52.36M261.20,29.19V54.27M261.70,29.83V54.27M262.20,32.77V52.87M262.70,34.90V51.02M263.20,37.54V47.47M263.70,46.52V46.83M264.20,38.06V48.66M264.70,36.18V51.33M265.20,32.25V51.55M265.70,28.88V54.52M266.20,29.29V54.02M266.70,31.54V52.16M267.20,34.23V49.93M267.70,37.61V48.70M268.20,44.95V47.02M268.70,39.59V48.07M269.20,36.65V50.83M269.70,32.72V51.38M270.20,29.68V54.99M270.70,30.51V55.70M271.20,30.49V53.94M271.70,34.73V51.50M272.20,37.46V50.26M272.70,44.28V47.93M273.20,43.38V47.50M273.70,38.56V51.24M274.20,34.81V52.33M274.70,32.60V54.18M275.20,30.11V55.98M275.70,33.00V54.24M276.20,34.93V53.05M276.70,38.72V50.99M277.20,42.87V50.19M277.70,43.21V49.65M278.20,39.75V51.93M278.70,37.42V52.50M279.20,33.63V55.22M279.70,29.99V57.55M280.20,33.30V55.17M280.70,35.93V53.32M281.20,39.62V51.12M281.70,43.51V51.73M282.20,47.02V50.50M282.70,41.94V50.26M283.20,36.79V52.23M283.70,35.22V54.82M284.20,31.87V56.23M284.70,32.86V58.32M285.20,34.96V56.47M285.70,37.94V52.47M286.20,42.06V51.54M286.70,48.93V50.14M287.20,42.15V51.28M287.70,38.15V52.37M288.20,35.57V55.70M288.70,32.25V57.26M289.20,32.57V58.39M289.70,35.78V56.68M290.20,37.02V55.27M290.70,41.69V53.50M291.20,46.58V50.10M291.70,44.89V51.68M292.20,41.52V53.25M292.70,38.27V56.50M293.20,32.88V57.56M293.70,31.05V59.06M294.20,34.38V57.27M294.70,37.46V55.85M295.20,42.46V55.29M295.70,45.77V52.45M296.20,45.96V52.92M296.70,42.16V54.38M297.20,39.59V55.95M297.70,34.47V57.91M298.20,34.35V60.46M298.70,33.59V58.72M299.20,37.52V57.68M299.70,42.84V54.42M300.20,46.93V52.02M300.70,47.57V53.21M301.20,44.49V53.59M301.70,38.91V57.65M302.20,36.79V57.08M302.70,33.21V61.61M303.20,33.44V60.26M303.70,37.76V55.58M304.20,39.92V54.12M304.70,44.16V51.13M305.20,47.84V50.27M305.70,40.25V50.68M306.20,38.74V51.64M306.70,34.45V54.29M307.20,30.57V56.75M307.70,30.76V55.40M308.20,31.85V54.39M308.70,35.79V51.27M309.20,40.41V48.35M309.70,44.40V47.88M310.20,39.26V47.10M310.70,35.40V49.16M311.20,30.87V52.59M311.70,29.33V54.43M312.20,26.95V54.49M312.70,29.55V53.17M313.20,32.13V50.33M313.70,37.74V49.37M314.20,42.20V46.33M314.70,41.14V48.47M315.20,36.95V48.65M315.70,32.32V51.63M316.20,31.48V51.92M316.70,27.83V56.25M317.20,29.65V53.20M317.70,35.04V53.89M318.20,39.38V52.38M318.70,43.19V48.22M319.20,44.15V50.08M319.70,40.87V51.98M320.20,36.65V54.93M320.70,33.34V55.58M321.20,33.43V59.98M321.70,33.87V60.27M322.20,37.85V56.12M322.70,41.39V54.96M323.20,46.64V54.21M323.70,51.90V55.63M324.20,47.09V58.12M324.70,42.60V60.51M325.20,41.70V60.83M325.70,39.91V64.86M326.20,38.58V64.22M326.70,41.60V62.99M327.20,46.78V62.57M327.70,51.11V58.43M328.20,58.39V58.56M328.70,51.58V59.98M329.20,48.07V60.65M329.70,43.47V65.09M330.20,42.18V67.25M330.70,39.56V65.75M331.20,42.77V66.68M331.70,45.78V65.12M332.20,52.19V63.48M332.70,57.70V60.49M333.20,53.42V62.64M333.70,49.05V64.60M334.20,46.31V65.83M334.70,43.70V67.32" stroke="#ff4a0a" stroke-width="0.75"/><path d="M222.20,44.30V44.30M222.70,45.45V46.04M223.20,48.54V50.90M223.70,48.22V53.55M224.20,51.34V60.80M224.70,49.89V60.41M225.20,48.02V54.15M225.70,48.58V51.49M226.20,46.11V46.98M226.70,44.43V44.46M227.20,43.56V43.92M227.70,47.28V49.16M228.20,47.33V51.91M228.70,49.69V58.16M229.20,52.22V63.86M229.70,48.74V55.72M230.20,48.30V51.81M230.70,45.84V47.06M231.20,45.14V45.25M231.70,45.15V45.34M232.20,45.83V47.27M232.70,49.29V53.18M233.20,48.94V56.46M233.70,53.49V65.81M234.20,50.74V58.63M234.70,49.29V53.46M235.20,45.17V46.79M235.70,44.16V44.42M236.20,44.71V44.78M236.70,46.35V47.43M237.20,47.11V50.36M237.70,49.63V56.25M238.20,50.79V61.96M238.70,51.80V60.67M239.20,48.39V53.26M239.70,47.51V49.58M240.20,44.35V44.80M240.70,43.68V43.69M241.20,46.68V47.43M241.70,46.64V49.32M242.20,50.01V55.80M242.70,51.14V61.23M243.20,52.03V61.93M243.70,50.14V55.79M244.20,48.03V50.62M244.70,44.45V45.15M245.20,42.40V42.40M245.70,44.40V44.90M246.20,48.05V50.21M246.70,48.21V53.22M247.20,50.14V59.18M247.70,53.64V64.62M248.20,49.71V56.18M248.70,47.63V50.78M249.20,45.65V46.66M249.70,45.81V45.87M250.20,44.79V45.07M250.70,48.36V50.05M251.20,50.59V54.88M251.70,52.41V60.48M252.20,53.88V65.99M252.70,51.15V58.50M253.20,48.85V52.62M253.70,48.69V50.07M254.20,47.00V47.16M254.70,44.54V44.67M255.20,47.07V48.36M255.70,48.94V52.57M256.20,52.79V59.93M256.70,53.50V65.35M257.20,51.72V60.01M257.70,51.07V55.52M258.20,50.35V52.15M258.70,47.08V47.41M259.20,46.35V46.39M259.70,47.77V48.71M260.20,49.16V52.17M260.70,52.36V58.64M261.20,54.27V65.00M261.70,54.27V63.55M262.20,52.87V58.06M262.70,51.02V53.30M263.20,47.47V48.02M263.70,46.83V46.83M264.20,48.66V49.30M264.70,51.33V53.79M265.20,51.55V57.01M265.70,54.52V64.17M266.20,54.02V64.35M266.70,52.16V58.14M267.20,49.93V52.74M267.70,48.70V49.52M268.20,47.02V47.04M268.70,48.07V48.47M269.20,50.83V52.79M269.70,51.38V56.09M270.20,54.99V63.63M270.70,55.70V67.13M271.20,53.94V60.76M271.70,51.50V54.90M272.20,50.26V51.41M272.70,47.93V48.03M273.20,47.50V47.71M273.70,51.24V52.77M274.20,52.33V56.34M274.70,54.18V61.86M275.20,55.98V68.52M275.70,54.24V61.97M276.20,53.05V57.10M276.70,50.99V52.53M277.20,50.19V50.41M277.70,49.65V49.73M278.20,51.93V53.07M278.70,52.50V55.87M279.20,55.22V62.00M279.70,57.55V68.93M280.20,55.17V63.85M280.70,53.32V58.07M281.20,51.12V53.11M281.70,51.73V52.14M282.20,50.50V50.52M282.70,50.26V51.07M283.20,52.23V55.01M283.70,54.82V60.76M284.20,56.23V66.51M284.70,58.32V68.03M285.20,56.47V61.98M285.70,52.47V54.96M286.20,51.54V52.19M286.70,50.14V50.14M287.20,51.28V51.81M287.70,52.37V54.62M288.20,55.70V60.85M288.70,57.26V66.49M289.20,58.39V69.17M289.70,56.68V62.99M290.20,55.27V58.31M290.70,53.50V54.45M291.20,50.10V50.14M291.70,51.68V51.99M292.20,53.25V55.02M292.70,56.50V60.92M293.20,57.56V65.80M293.70,59.06V70.96M294.20,57.27V64.46M294.70,55.85V59.51M295.20,55.29V56.59M295.70,52.45V52.59M296.20,52.92V53.07M296.70,54.38V55.73M297.20,55.95V59.69M297.70,57.91V65.21M298.20,60.46V72.51M298.70,58.72V66.83M299.20,57.68V62.00M299.70,54.42V56.14M300.20,52.02V52.32M300.70,53.21V53.26M301.20,53.59V54.58M301.70,57.65V60.77M302.20,57.08V63.51M302.70,61.61V72.53M303.20,60.26V69.36M303.70,55.58V60.63M304.20,54.12V56.30M304.70,51.13V51.63M305.20,50.27V50.27M305.70,50.68V51.37M306.20,51.64V54.19M306.70,54.29V59.90M307.20,56.75V66.59M307.70,55.40V65.54M308.20,54.39V60.22M308.70,51.27V53.98M309.20,48.35V49.12M309.70,47.88V47.89M310.20,47.10V47.54M310.70,49.16V51.21M311.20,52.59V57.43M311.70,54.43V63.25M312.20,54.49V65.72M312.70,53.17V59.84M313.20,50.33V53.61M313.70,49.37V50.46M314.20,46.33V46.41M314.70,48.47V48.71M315.20,48.65V50.25M315.70,51.63V55.76M316.20,51.92V59.77M316.70,56.25V68.63M317.20,53.20V60.76M317.70,53.89V57.82M318.20,52.38V53.85M318.70,48.22V48.42M319.20,50.08V50.18M319.70,51.98V53.18M320.20,54.93V58.41M320.70,55.58V62.52M321.20,59.98V71.56M321.70,60.27V68.78M322.20,56.12V60.73M322.70,54.96V56.86M323.20,54.21V54.58M323.70,55.63V55.66M324.20,58.12V58.98M324.70,60.51V63.39M325.20,60.83V66.92M325.70,64.86V75.33M326.20,64.22V73.74M326.70,62.99V68.35M327.20,62.57V64.96M327.70,58.43V59.04M328.20,58.56V58.56M328.70,59.98V60.56M329.20,60.65V62.99M329.70,65.09V70.38M330.20,67.25V76.67M330.70,65.75V76.33M331.20,66.68V72.85M331.70,65.12V68.06M332.20,63.48V64.37M332.70,60.49V60.52M333.20,62.64V63.00M333.70,64.60V66.46M334.20,65.83V70.37M334.70,67.32V75.74" stroke="#ff4a0a" stroke-width="0.55" opacity="0.4"/></g><path d="M222.2,18.2H338.2M222.2,93.6H338.2" stroke="#3a3a3a" stroke-width="1" fill="none"/><path d="M222.2,17.7V94.1" stroke="#1c8ad6" stroke-width="1.1" fill="none"/><path d="M338.2,17.7V94.1" stroke="#ff5520" stroke-width="1.1" fill="none"/><path d="M222.2,93.6v-1.5M222.2,18.2v1.5M248.1,93.6v-1.5M248.1,18.2v1.5M274.0,93.6v-1.5M274.0,18.2v1.5M299.9,93.6v-1.5M299.9,18.2v1.5M325.8,93.6v-1.5M325.8,18.2v1.5" stroke="#3a3a3a" stroke-width="0.8" fill="none"/><path d="M222.2,18.2h1.5M222.2,37.0h1.5M222.2,55.9h1.5M222.2,74.8h1.5M222.2,93.6h1.5" stroke="#1c8ad6" stroke-width="0.8" fill="none"/><path d="M338.2,18.2h-1.5M338.2,43.3h-1.5M338.2,68.5h-1.5M338.2,93.6h-1.5" stroke="#ff5520" stroke-width="0.8" fill="none"/><text x="222.2" y="101.5" font-size="6.8" fill="#222" stroke="#222" stroke-width="0.25" text-anchor="middle" font-weight="bold" >0</text><text x="248.1" y="101.5" font-size="6.8" fill="#222" stroke="#222" stroke-width="0.25" text-anchor="middle" font-weight="bold" >1</text><text x="274.0" y="101.5" font-size="6.8" fill="#222" stroke="#222" stroke-width="0.25" text-anchor="middle" font-weight="bold" >2</text><text x="299.9" y="101.5" font-size="6.8" fill="#222" stroke="#222" stroke-width="0.25" text-anchor="middle" font-weight="bold" >3</text><text x="325.8" y="101.5" font-size="6.8" fill="#222" stroke="#222" stroke-width="0.25" text-anchor="middle" font-weight="bold" >4</text><text x="219.7" y="20.7" font-size="7.1" fill="#1c8ad6" stroke="#1c8ad6" stroke-width="0.3" text-anchor="end" font-weight="bold" >50</text><text x="219.7" y="39.5" font-size="7.1" fill="#1c8ad6" stroke="#1c8ad6" stroke-width="0.3" text-anchor="end" font-weight="bold" >0</text><text x="219.7" y="58.4" font-size="7.1" fill="#1c8ad6" stroke="#1c8ad6" stroke-width="0.3" text-anchor="end" font-weight="bold" >&#8722;50</text><text x="219.7" y="77.2" font-size="7.1" fill="#1c8ad6" stroke="#1c8ad6" stroke-width="0.3" text-anchor="end" font-weight="bold" >&#8722;100</text><text x="219.7" y="96.1" font-size="7.1" fill="#1c8ad6" stroke="#1c8ad6" stroke-width="0.3" text-anchor="end" font-weight="bold" >&#8722;150</text><text x="340.7" y="20.7" font-size="7.1" fill="#ff5520" stroke="#ff5520" stroke-width="0.1" text-anchor="start" font-weight="bold" >3.4</text><text x="340.7" y="45.8" font-size="7.1" fill="#ff5520" stroke="#ff5520" stroke-width="0.1" text-anchor="start" font-weight="bold" >3.2</text><text x="340.7" y="71.0" font-size="7.1" fill="#ff5520" stroke="#ff5520" stroke-width="0.1" text-anchor="start" font-weight="bold" >3</text><text x="340.7" y="96.1" font-size="7.1" fill="#ff5520" stroke="#ff5520" stroke-width="0.1" text-anchor="start" font-weight="bold" >2.8</text><text x="280.2" y="113.6" font-size="10.7" fill="#111" stroke="#111" stroke-width="0.25" text-anchor="middle" font-weight="bold" >Time/s</text><text x="338.7" y="112.6" font-size="7.6" fill="#222" text-anchor="end" font-weight="normal">&#215;10<tspan dy="-3.2" font-size="5.4">4</tspan></text><text transform="translate(203.7,55.4) rotate(-90)" font-size="11" fill="#1c8ad6" stroke="#1c8ad6" stroke-width="0.3" text-anchor="middle" font-weight="bold">Current/A</text><text transform="translate(360.2,56.9) rotate(-90)" font-size="10.7" fill="#ff5520" stroke="#ff5520" stroke-width="0.3" text-anchor="middle" font-weight="bold">Voltage<tspan dy="5" dx="0.5" font-size="7.6">min</tspan><tspan dy="-5">/V</tspan></text><text x="194.6" y="19.2" font-size="10.5" fill="#111" stroke="#111" stroke-width="0.25" text-anchor="start" font-weight="bold" >(b)</text><linearGradient id="g4" gradientUnits="userSpaceOnUse" x1="0" y1="60.4" x2="0" y2="86.1"><stop offset="0" stop-color="#2f98e0" stop-opacity="0.95"/><stop offset="1" stop-color="#b0dcf6" stop-opacity="0.7"/></linearGradient><linearGradient id="g5" gradientUnits="userSpaceOnUse" x1="0" y1="39.0" x2="0" y2="26.9"><stop offset="0" stop-color="#6ab8ea" stop-opacity="0.8"/><stop offset="1" stop-color="#c5e5f8" stop-opacity="0.6"/></linearGradient><clipPath id="c3"><rect x="400.9" y="17.9" width="115.1" height="75.4"/></clipPath><g clip-path="url(#c3)" fill="none"><path d="M400.43,60.43L402.03,60.43L401.43,85.17L401.03,85.17ZM404.59,60.43L406.19,60.43L405.59,85.95L405.19,85.95ZM408.53,60.43L410.13,60.43L409.53,85.39L409.13,85.39ZM412.42,60.43L414.02,60.43L413.42,85.82L413.02,85.82ZM416.25,60.43L417.85,60.43L417.25,86.31L416.85,86.31ZM420.36,60.43L421.96,60.43L421.36,85.53L420.96,85.53ZM424.24,60.43L425.84,60.43L425.24,85.27L424.84,85.27ZM428.20,60.43L429.80,60.43L429.20,86.42L428.80,86.42ZM432.06,60.43L433.66,60.43L433.06,85.63L432.66,85.63ZM435.95,60.43L437.55,60.43L436.95,85.82L436.55,85.82ZM439.90,60.43L441.50,60.43L440.90,85.97L440.50,85.97ZM443.82,60.43L445.42,60.43L444.82,86.86L444.42,86.86ZM447.95,60.43L449.55,60.43L448.95,86.38L448.55,86.38ZM451.70,60.43L453.30,60.43L452.70,86.10L452.30,86.10ZM455.60,60.43L457.20,60.43L456.60,86.53L456.20,86.53ZM459.50,60.43L461.10,60.43L460.50,86.33L460.10,86.33ZM463.66,60.43L465.26,60.43L464.66,86.95L464.26,86.95ZM467.47,60.43L469.07,60.43L468.47,86.15L468.07,86.15ZM471.36,60.43L472.96,60.43L472.36,85.94L471.96,85.94ZM475.22,60.43L476.82,60.43L476.22,86.66L475.82,86.66ZM479.23,60.43L480.83,60.43L480.23,86.42L479.83,86.42ZM483.24,60.43L484.84,60.43L484.24,85.65L483.84,85.65ZM487.11,60.43L488.71,60.43L488.11,85.27L487.71,85.27ZM491.12,60.43L492.72,60.43L492.12,85.30L491.72,85.30ZM494.94,60.43L496.54,60.43L495.94,86.82L495.54,86.82ZM498.93,60.43L500.53,60.43L499.93,85.92L499.53,85.92ZM502.78,60.43L504.38,60.43L503.78,86.19L503.38,86.19ZM506.77,60.43L508.37,60.43L507.77,85.34L507.37,85.34ZM510.84,60.43L512.44,60.43L511.84,86.67L511.44,86.67Z" fill="url(#g4)"/><path d="M499.35,39.01L500.35,39.01L500.05,26.07L499.65,26.07ZM503.20,39.01L504.20,39.01L503.90,26.28L503.50,26.28ZM507.00,39.01L508.00,39.01L507.70,27.35L507.30,27.35ZM510.99,39.01L511.99,39.01L511.69,27.37L511.29,27.37Z" fill="url(#g5)"/><path d="M400.90,39.01V60.43M401.40,39.01V60.43M401.90,39.01V60.43M404.90,39.01V60.43M405.40,39.01V60.43M405.90,39.01V60.43M408.90,39.01V60.43M409.40,39.01V60.43M409.90,39.01V60.43M412.90,39.01V60.43M413.40,39.01V60.43M413.90,39.01V60.43M416.90,39.01V60.43M417.40,39.01V60.43M417.90,39.01V60.43M420.90,39.01V60.43M421.40,39.01V60.43M421.90,39.01V60.43M424.90,39.01V60.43M425.40,39.01V60.43M425.90,39.01V60.43M428.90,39.01V60.43M429.40,39.01V60.43M429.90,39.01V60.43M432.40,39.01V60.43M432.90,39.01V60.43M433.40,39.01V60.43M436.40,39.01V60.43M436.90,39.01V60.43M437.40,39.01V60.43M440.40,39.01V60.43M440.90,39.01V60.43M441.40,39.01V60.43M444.40,39.01V60.43M444.90,39.01V60.43M445.40,39.01V60.43M448.40,39.01V60.43M448.90,39.01V60.43M449.40,39.01V60.43M452.40,39.01V60.43M452.90,39.01V60.43M453.40,39.01V60.43M456.40,39.01V60.43M456.90,39.01V60.43M457.40,39.01V60.43M460.40,39.01V60.43M460.90,39.01V60.43M461.40,39.01V60.43M463.90,39.01V60.43M464.40,39.01V60.43M464.90,39.01V60.43M467.90,39.01V60.43M468.40,39.01V60.43M468.90,39.01V60.43M471.90,39.01V60.43M472.40,39.01V60.43M472.90,39.01V60.43M475.90,39.01V60.43M476.40,39.01V60.43M476.90,39.01V60.43M479.90,39.01V60.43M480.40,39.01V60.43M480.90,39.01V60.43M483.90,39.01V60.43M484.40,39.01V60.43M484.90,39.01V60.43M487.90,39.01V60.43M488.40,39.01V60.43M488.90,39.01V60.43M491.90,39.01V60.43M492.40,39.01V60.43M492.90,39.01V60.43M495.40,39.01V60.43M495.90,39.01V60.43M496.40,39.01V60.43M499.40,39.01V60.43M499.90,39.01V60.43M500.40,39.01V60.43M503.40,39.01V60.43M503.90,39.01V60.43M504.40,39.01V60.43M507.40,39.01V60.43M507.90,39.01V60.43M508.40,39.01V60.43M511.40,39.01V60.43" stroke="#4cb2ee" stroke-width="0.75"/><path d="M402.40,37.69V43.84M402.90,37.36V43.84M403.40,37.80V43.84M403.90,37.69V43.84M404.40,38.21V43.84M406.40,37.27V43.84M406.90,37.88V43.84M407.40,37.39V43.84M407.90,38.11V43.84M408.40,38.33V43.84M410.40,37.64V43.84M410.90,37.63V43.84M411.40,37.29V43.84M411.90,37.26V43.84M412.40,37.69V43.84M414.40,38.25V43.84M414.90,38.30V43.84M415.40,37.62V43.84M415.90,37.67V43.84M416.40,37.79V43.84M418.40,37.82V43.84M418.90,38.22V43.84M419.40,37.94V43.84M419.90,37.25V43.84M420.40,37.59V43.84M422.40,37.84V43.84M422.90,37.36V43.84M423.40,37.25V43.84M423.90,37.68V43.84M424.40,38.06V43.84M426.40,37.87V43.84M426.90,37.71V43.84M427.40,37.40V43.84M427.90,38.40V43.84M428.40,37.48V43.84M430.40,37.69V43.84M430.90,38.29V43.84M431.40,37.35V43.84M431.90,37.21V43.84M433.90,37.79V43.84M434.40,37.21V43.84M434.90,37.79V43.84M435.40,37.68V43.84M435.90,37.91V43.84M437.90,37.60V43.84M438.40,37.63V43.84M438.90,38.26V43.84M439.40,38.20V43.84M439.90,38.33V43.84M441.90,38.29V43.84M442.40,37.94V43.84M442.90,37.88V43.84M443.40,37.38V43.84M443.90,37.68V43.84M445.90,38.04V43.84M446.40,38.20V43.84M446.90,37.73V43.84M447.40,38.33V43.84M447.90,38.18V43.84M449.90,38.30V43.84M450.40,37.40V43.84M450.90,37.95V43.84M451.40,38.13V43.84M451.90,37.32V43.84M453.90,37.79V43.84M454.40,37.62V43.84M454.90,38.20V43.84M455.40,37.73V43.84M455.90,38.03V43.84M457.90,37.34V43.84M458.40,37.59V43.84M458.90,37.57V43.84M459.40,38.19V43.84M459.90,38.36V43.84M461.90,37.64V43.84M462.40,38.10V43.84M462.90,37.40V43.84M463.40,37.68V43.84M465.40,38.30V43.84M465.90,38.07V43.84M466.40,37.57V43.84M466.90,38.34V43.84M467.40,38.25V43.84M469.40,37.64V43.84M469.90,37.91V43.84M470.40,37.60V43.84M470.90,37.28V43.84M471.40,37.73V43.84M473.40,37.85V43.84M473.90,37.97V43.84M474.40,37.56V43.84M474.90,37.97V43.84M475.40,37.50V43.84M477.40,38.18V43.84M477.90,37.65V43.84M478.40,38.24V43.84M478.90,38.18V43.84M479.40,37.46V43.84M481.40,37.74V43.84M481.90,37.72V43.84M482.40,37.27V43.84M482.90,37.71V43.84M483.40,37.24V43.84M485.40,37.38V43.84M485.90,37.79V43.84M486.40,37.41V43.84M486.90,37.73V43.84M487.40,37.85V43.84M489.40,38.34V43.84M489.90,37.26V43.84M490.40,37.34V43.84M490.90,38.31V43.84M491.40,37.77V43.84M493.40,37.37V43.84M493.90,37.82V43.84M494.40,37.79V43.84M494.90,37.88V43.84M496.90,38.29V43.84M497.40,37.73V43.84M497.90,38.12V43.84M498.40,38.05V43.84M498.90,37.36V43.84M500.90,37.59V43.84M501.40,37.27V43.84M501.90,37.75V43.84M502.40,38.10V43.84M502.90,38.27V43.84M504.90,37.95V43.84M505.40,37.43V43.84M505.90,37.80V43.84M506.40,37.42V43.84M506.90,37.39V43.84M508.90,37.70V43.84M509.40,37.71V43.84M509.90,38.01V43.84M510.40,38.23V43.84M510.90,38.09V43.84" stroke="#2e9de6" stroke-width="0.75"/><path d="M402.40,44.42V60.79M402.90,44.32V60.18M403.40,43.85V60.88M403.90,44.28V60.54M404.40,43.54V60.34M406.40,43.96V60.39M406.90,44.04V60.74M407.40,43.46V59.93M407.90,43.31V59.87M408.40,43.80V60.59M410.40,43.31V60.09M410.90,44.40V59.96M411.40,43.79V60.70M411.90,43.92V60.40M412.40,44.30V60.25M414.40,44.29V60.85M414.90,44.15V60.68M415.40,43.75V60.29M415.90,43.78V60.47M416.40,44.17V60.74M418.40,43.77V60.74M418.90,43.51V60.67M419.40,44.37V60.50M419.90,44.17V60.90M420.40,44.02V60.62M422.40,43.52V60.13M422.90,44.29V59.93M423.40,43.84V60.32M423.90,43.39V60.08M424.40,43.57V60.48M426.40,43.84V60.00M426.90,43.75V60.85M427.40,43.42V60.64M427.90,43.34V60.51M428.40,43.33V60.43M430.40,44.01V60.56M430.90,43.81V60.21M431.40,43.75V60.35M431.90,43.69V60.50M433.90,43.44V59.85M434.40,43.45V60.20M434.90,44.09V60.84M435.40,43.68V60.81M435.90,44.39V60.26M437.90,43.73V60.01M438.40,44.12V60.36M438.90,43.94V60.34M439.40,44.32V60.90M439.90,43.47V60.29M441.90,44.12V60.82M442.40,43.90V60.61M442.90,43.28V60.33M443.40,43.32V60.98M443.90,44.07V60.04M445.90,44.17V60.16M446.40,44.15V60.07M446.90,44.09V59.86M447.40,43.95V60.56M447.90,44.15V60.61M449.90,43.59V60.84M450.40,43.91V60.87M450.90,43.57V60.60M451.40,43.83V59.88M451.90,44.13V60.18M453.90,44.29V59.98M454.40,43.98V60.10M454.90,44.34V60.56M455.40,44.31V60.23M455.90,44.36V60.67M457.90,43.51V59.93M458.40,44.41V60.70M458.90,43.65V60.53M459.40,43.68V60.60M459.90,43.58V60.14M461.90,44.07V60.98M462.40,43.58V60.34M462.90,44.44V60.61M463.40,43.41V60.98M465.40,43.54V59.93M465.90,43.44V60.13M466.40,43.32V60.52M466.90,43.89V60.27M467.40,43.32V60.41M469.40,43.27V60.37M469.90,44.01V60.96M470.40,43.59V60.86M470.90,43.90V60.41M471.40,44.27V59.96M473.40,43.72V60.22M473.90,44.09V60.89M474.40,44.20V60.69M474.90,43.88V60.64M475.40,43.24V61.02M477.40,43.92V60.44M477.90,43.66V59.92M478.40,44.14V60.73M478.90,44.08V60.02M479.40,44.24V59.91M481.40,44.00V60.64M481.90,44.39V60.74M482.40,43.35V60.18M482.90,44.08V60.84M483.40,43.91V60.83M485.40,43.43V61.03M485.90,43.64V60.69M486.40,43.64V60.50M486.90,43.91V60.67M487.40,44.05V60.93M489.40,43.46V60.28M489.90,43.75V60.67M490.40,44.03V60.67M490.90,43.90V60.21M491.40,43.94V60.33M493.40,44.31V60.37M493.90,44.14V60.39M494.40,44.30V60.34M494.90,44.35V60.54M496.90,43.57V59.83M497.40,43.28V60.82M497.90,44.37V60.09M498.40,44.18V60.31M498.90,43.69V59.96M500.90,43.52V60.62M501.40,43.55V60.58M501.90,44.32V60.30M502.40,43.63V59.91M502.90,43.74V60.02M504.90,43.61V60.68M505.40,43.61V60.38M505.90,44.26V60.62M506.40,44.22V60.99M506.90,44.25V60.45M508.90,43.36V60.77M509.40,43.88V60.59M509.90,43.74V61.02M510.40,44.39V59.84M510.90,43.84V60.70" stroke="#0f70c8" stroke-width="0.75"/><path d="M400.90,21.56V36.75M401.40,21.33V36.78M401.90,19.09V36.80M404.90,20.42V36.97M405.40,20.33V36.99M405.90,18.78V37.02M408.90,22.03V37.18M409.40,21.61V37.21M409.90,18.50V37.24M412.90,21.31V37.40M413.40,20.59V37.43M413.90,20.36V37.46M416.90,22.49V37.62M417.40,21.24V37.65M417.90,19.34V37.67M420.90,19.66V37.84M421.40,20.83V37.86M421.90,20.02V37.89M424.90,21.52V38.05M425.40,21.79V38.08M425.90,20.06V38.11M428.90,21.24V38.27M429.40,21.27V38.30M429.90,20.66V38.32M432.40,20.30V38.46M432.90,22.76V38.49M433.40,22.23V38.51M436.40,20.99V38.68M436.90,23.61V38.70M437.40,22.50V38.73M440.40,22.60V38.89M440.90,21.14V38.92M441.40,22.53V38.95M444.40,20.45V39.11M444.90,23.14V39.14M445.40,22.62V39.17M448.40,24.12V39.33M448.90,21.77V39.36M449.40,23.02V39.38M452.40,23.54V39.55M452.90,22.20V39.57M453.40,23.72V39.60M456.40,21.98V39.76M456.90,23.65V39.79M457.40,23.22V39.82M460.40,24.15V39.98M460.90,23.78V40.01M461.40,23.52V40.03M463.90,24.67V40.17M464.40,22.13V40.20M464.90,24.35V40.22M467.90,22.66V40.39M468.40,22.30V40.41M468.90,24.38V40.44M471.90,23.50V40.64M472.40,22.75V40.70M472.90,25.04V40.76M475.90,22.40V41.18M476.40,24.05V41.25M476.90,25.84V41.33M479.90,25.54V41.85M480.40,26.17V41.94M480.90,23.84V42.03M483.90,25.88V42.62M484.40,26.92V42.72M484.90,25.01V42.82M487.90,25.11V43.45M488.40,24.81V43.56M488.90,24.97V43.67M491.90,28.84V44.35M492.40,28.71V44.47M492.90,26.15V44.59M495.40,27.41V45.18M495.90,27.37V45.30M496.40,29.91V45.43M499.40,27.81V50.26M499.90,30.59V51.18M500.40,28.54V52.10M503.40,29.11V57.63M503.90,31.56V58.55M504.40,30.30V59.47M507.40,30.89V65.03M507.90,33.04V65.96M508.40,32.23V66.89M511.40,30.69V72.47" stroke="#ff4a0a" stroke-width="0.55" opacity="0.4"/><path d="M402.40,24.54V36.69M402.90,25.46V36.45M403.40,25.35V37.30M403.90,25.33V36.23M404.40,23.86V36.33M406.40,25.10V36.53M406.90,24.25V36.17M407.40,24.82V37.94M407.90,24.63V37.28M408.40,24.90V37.28M410.40,24.29V36.68M410.90,24.70V37.73M411.40,25.54V37.09M411.90,25.46V37.75M412.40,25.10V36.51M414.40,25.41V37.87M414.90,24.62V37.42M415.40,24.89V38.10M415.90,25.67V37.62M416.40,25.18V37.81M418.40,24.53V38.11M418.90,24.77V38.54M419.40,25.06V37.87M419.90,26.18V37.33M420.40,24.90V37.59M422.40,25.27V37.38M422.90,25.19V38.88M423.40,25.87V37.84M423.90,25.84V38.23M424.40,25.67V38.23M426.40,26.25V38.73M426.90,25.12V38.94M427.40,26.49V37.32M427.90,25.84V39.07M428.40,25.05V38.17M430.40,25.25V38.63M430.90,26.31V38.62M431.40,26.18V37.53M431.90,26.12V38.73M433.90,25.55V39.28M434.40,26.46V37.84M434.90,26.93V38.59M435.40,25.44V38.90M435.90,26.76V38.11M437.90,26.51V39.33M438.40,25.60V38.73M438.90,26.07V39.46M439.40,25.98V38.80M439.90,26.10V39.79M441.90,26.57V38.21M442.40,26.01V39.84M442.90,27.25V38.80M443.40,26.05V39.41M443.90,26.84V38.22M445.90,26.97V38.49M446.40,27.56V39.49M446.90,26.93V39.97M447.40,26.41V39.98M447.90,27.54V39.71M449.90,26.53V39.84M450.40,27.83V38.86M450.90,27.76V38.60M451.40,27.93V39.58M451.90,27.51V39.35M453.90,27.81V39.55M454.40,27.76V39.53M454.90,27.77V39.02M455.40,27.45V39.97M455.90,28.19V40.25M457.90,28.28V39.16M458.40,27.90V39.56M458.90,26.99V40.37M459.40,26.89V40.65M459.90,28.34V40.82M461.90,27.17V40.66M462.40,27.49V40.21M462.90,28.27V39.59M463.40,28.37V41.00M465.40,28.20V39.88M465.90,27.18V41.05M466.40,27.43V39.86M466.90,28.21V39.96M467.40,28.97V39.87M469.40,28.69V40.39M469.90,28.60V41.06M470.40,28.76V41.02M470.90,28.68V40.83M471.40,27.75V40.91M473.40,27.94V40.32M473.90,29.46V41.44M474.40,29.43V41.05M474.90,29.58V41.65M475.40,28.44V41.88M477.40,30.09V41.33M477.90,28.96V40.68M478.40,28.82V42.48M478.90,28.77V41.41M479.40,29.05V41.14M481.40,29.25V42.37M481.90,29.37V41.98M482.40,30.07V42.33M482.90,29.81V43.21M483.40,31.13V43.29M485.40,30.81V42.38M485.90,31.08V43.18M486.40,31.51V42.37M486.90,31.56V43.53M487.40,30.32V42.46M489.40,31.33V43.45M489.90,31.37V43.93M490.40,32.34V44.90M490.90,32.11V43.82M491.40,32.18V44.12M493.40,33.21V45.17M493.90,33.08V44.72M494.40,33.48V44.77M494.90,32.71V44.38M496.90,33.50V44.93M497.40,34.10V45.15M497.90,34.46V46.04M498.40,33.81V45.53M498.90,33.01V45.93M500.90,35.01V45.94M501.40,35.29V46.27M501.90,35.29V46.24M502.40,34.79V47.52M502.90,35.55V47.98M504.90,34.64V48.27M505.40,36.40V46.89M505.90,35.05V47.17M506.40,35.95V47.67M506.90,35.18V48.34M508.90,37.06V49.55M509.40,36.85V49.03M509.90,36.79V49.87M510.40,37.28V48.78M510.90,36.93V49.11" stroke="#ff4a0a" stroke-width="0.75"/></g><path d="M400.9,17.9H516.0M400.9,93.3H516.0" stroke="#3a3a3a" stroke-width="1" fill="none"/><path d="M400.9,17.4V93.8" stroke="#1c8ad6" stroke-width="1.1" fill="none"/><path d="M516.0,17.4V93.8" stroke="#ff5520" stroke-width="1.1" fill="none"/><path d="M400.9,93.3v-1.5M400.9,17.9v1.5M434.0,93.3v-1.5M434.0,17.9v1.5M467.0,93.3v-1.5M467.0,17.9v1.5M500.1,93.3v-1.5M500.1,17.9v1.5" stroke="#3a3a3a" stroke-width="0.8" fill="none"/><path d="M400.9,17.9h1.5M400.9,33.0h1.5M400.9,48.1h1.5M400.9,63.1h1.5M400.9,78.2h1.5M400.9,93.3h1.5" stroke="#1c8ad6" stroke-width="0.8" fill="none"/><path d="M516.0,17.9h-1.5M516.0,36.7h-1.5M516.0,55.6h-1.5M516.0,74.5h-1.5M516.0,93.3h-1.5" stroke="#ff5520" stroke-width="0.8" fill="none"/><text x="400.9" y="101.2" font-size="6.8" fill="#222" stroke="#222" stroke-width="0.25" text-anchor="middle" font-weight="bold" >0</text><text x="434.0" y="101.2" font-size="6.8" fill="#222" stroke="#222" stroke-width="0.25" text-anchor="middle" font-weight="bold" >1</text><text x="467.0" y="101.2" font-size="6.8" fill="#222" stroke="#222" stroke-width="0.25" text-anchor="middle" font-weight="bold" >2</text><text x="500.1" y="101.2" font-size="6.8" fill="#222" stroke="#222" stroke-width="0.25" text-anchor="middle" font-weight="bold" >3</text><text x="398.4" y="20.4" font-size="7.1" fill="#1c8ad6" stroke="#1c8ad6" stroke-width="0.3" text-anchor="end" font-weight="bold" >100</text><text x="398.4" y="35.5" font-size="7.1" fill="#1c8ad6" stroke="#1c8ad6" stroke-width="0.3" text-anchor="end" font-weight="bold" >50</text><text x="398.4" y="50.6" font-size="7.1" fill="#1c8ad6" stroke="#1c8ad6" stroke-width="0.3" text-anchor="end" font-weight="bold" >0</text><text x="398.4" y="65.6" font-size="7.1" fill="#1c8ad6" stroke="#1c8ad6" stroke-width="0.3" text-anchor="end" font-weight="bold" >&#8722;50</text><text x="398.4" y="80.7" font-size="7.1" fill="#1c8ad6" stroke="#1c8ad6" stroke-width="0.3" text-anchor="end" font-weight="bold" >&#8722;100</text><text x="398.4" y="95.8" font-size="7.1" fill="#1c8ad6" stroke="#1c8ad6" stroke-width="0.3" text-anchor="end" font-weight="bold" >&#8722;150</text><text x="518.5" y="20.4" font-size="7.1" fill="#ff5520" stroke="#ff5520" stroke-width="0.1" text-anchor="start" font-weight="bold" >3.4</text><text x="518.5" y="39.2" font-size="7.1" fill="#ff5520" stroke="#ff5520" stroke-width="0.1" text-anchor="start" font-weight="bold" >3.2</text><text x="518.5" y="58.1" font-size="7.1" fill="#ff5520" stroke="#ff5520" stroke-width="0.1" text-anchor="start" font-weight="bold" >3</text><text x="518.5" y="77.0" font-size="7.1" fill="#ff5520" stroke="#ff5520" stroke-width="0.1" text-anchor="start" font-weight="bold" >2.8</text><text x="518.5" y="95.8" font-size="7.1" fill="#ff5520" stroke="#ff5520" stroke-width="0.1" text-anchor="start" font-weight="bold" >2.6</text><text x="458.4" y="113.3" font-size="10.7" fill="#111" stroke="#111" stroke-width="0.25" text-anchor="middle" font-weight="bold" >Time/s</text><text x="516.5" y="112.3" font-size="7.6" fill="#222" text-anchor="end" font-weight="normal">&#215;10<tspan dy="-3.2" font-size="5.4">4</tspan></text><text transform="translate(382.4,55.1) rotate(-90)" font-size="11" fill="#1c8ad6" stroke="#1c8ad6" stroke-width="0.3" text-anchor="middle" font-weight="bold">Current/A</text><text transform="translate(538.0,56.6) rotate(-90)" font-size="10.7" fill="#ff5520" stroke="#ff5520" stroke-width="0.3" text-anchor="middle" font-weight="bold">Voltage<tspan dy="5" dx="0.5" font-size="7.6">min</tspan><tspan dy="-5">/V</tspan></text><text x="371.0" y="16.1" font-size="10.5" fill="#111" stroke="#111" stroke-width="0.25" text-anchor="start" font-weight="bold" >(c)</text><linearGradient id="g6" gradientUnits="userSpaceOnUse" x1="0" y1="164.1" x2="0" y2="191.1"><stop offset="0" stop-color="#2f98e0" stop-opacity="0.95"/><stop offset="1" stop-color="#b0dcf6" stop-opacity="0.7"/></linearGradient><linearGradient id="g7" gradientUnits="userSpaceOnUse" x1="0" y1="143.5" x2="0" y2="129.0"><stop offset="0" stop-color="#6ab8ea" stop-opacity="0.8"/><stop offset="1" stop-color="#c5e5f8" stop-opacity="0.6"/></linearGradient><linearGradient id="g8" gradientUnits="userSpaceOnUse" x1="0" y1="158.3" x2="0" y2="186.7"><stop offset="0" stop-color="#ff5a20" stop-opacity="0.8"/><stop offset="1" stop-color="#ffc0a8" stop-opacity="0.5"/></linearGradient><clipPath id="c4"><rect x="43.5" y="120.5" width="115.4" height="75.7"/></clipPath><g clip-path="url(#c4)" fill="none"><path d="M43.05,164.10L44.75,164.10L44.15,191.20L43.65,191.20ZM46.60,164.10L48.30,164.10L47.70,191.57L47.20,191.57ZM49.86,164.10L51.56,164.10L50.96,191.43L50.46,191.43ZM53.45,164.10L55.15,164.10L54.55,191.16L54.05,191.16ZM56.89,164.10L58.59,164.10L57.99,190.72L57.49,190.72ZM60.19,164.10L61.89,164.10L61.29,191.47L60.79,191.47ZM63.78,164.10L65.48,164.10L64.88,190.34L64.38,190.34ZM67.10,164.10L68.80,164.10L68.20,191.05L67.70,191.05ZM70.43,164.10L72.13,164.10L71.53,191.62L71.03,191.62ZM74.09,164.10L75.79,164.10L75.19,191.96L74.69,191.96ZM77.35,164.10L79.05,164.10L78.45,190.49L77.95,190.49ZM80.83,164.10L82.53,164.10L81.93,190.96L81.43,190.96ZM84.31,164.10L86.01,164.10L85.41,190.27L84.91,190.27ZM87.83,164.10L89.53,164.10L88.93,190.83L88.43,190.83ZM91.09,164.10L92.79,164.10L92.19,190.76L91.69,190.76ZM94.56,164.10L96.26,164.10L95.66,190.73L95.16,190.73ZM98.09,164.10L99.79,164.10L99.19,190.19L98.69,190.19ZM101.50,164.10L103.20,164.10L102.60,190.95L102.10,190.95ZM104.72,164.10L106.42,164.10L105.82,190.64L105.32,190.64ZM108.41,164.10L110.11,164.10L109.51,191.71L109.01,191.71ZM111.59,164.10L113.29,164.10L112.69,190.89L112.19,190.89ZM115.09,164.10L116.79,164.10L116.19,190.60L115.69,190.60ZM118.57,164.10L120.27,164.10L119.67,191.43L119.17,191.43ZM122.08,164.10L123.78,164.10L123.18,190.78L122.68,190.78ZM125.51,164.10L127.21,164.10L126.61,190.21L126.11,190.21ZM128.99,164.10L130.69,164.10L130.09,191.67L129.59,191.67ZM132.44,164.10L134.14,164.10L133.54,191.71L133.04,191.71ZM135.62,164.10L137.32,164.10L136.72,191.65L136.22,191.65ZM139.10,164.10L140.80,164.10L140.20,190.20L139.70,190.20ZM142.60,164.10L144.30,164.10L143.70,191.60L143.20,191.60ZM146.20,164.10L147.90,164.10L147.30,191.25L146.80,191.25ZM149.59,164.10L151.29,164.10L150.69,190.31L150.19,190.31Z" fill="url(#g6)"/><path d="M43.36,143.51L44.36,143.51L44.06,128.79L43.66,128.79ZM46.88,143.51L47.88,143.51L47.58,129.24L47.18,129.24ZM50.34,143.51L51.34,143.51L51.04,129.73L50.64,129.73ZM53.60,143.51L54.60,143.51L54.30,128.69L53.90,128.69ZM57.05,143.51L58.05,143.51L57.75,129.81L57.35,129.81ZM60.49,143.51L61.49,143.51L61.19,128.15L60.79,128.15ZM63.98,143.51L64.98,143.51L64.68,128.78L64.28,128.78ZM67.59,143.51L68.59,143.51L68.29,128.15L67.89,128.15ZM70.89,143.51L71.89,143.51L71.59,128.38L71.19,128.38ZM74.30,143.51L75.30,143.51L75.00,129.57L74.60,129.57ZM77.62,143.51L78.62,143.51L78.32,129.43L77.92,129.43ZM81.14,143.51L82.14,143.51L81.84,128.32L81.44,128.32ZM84.48,143.51L85.48,143.51L85.18,128.26L84.78,128.26ZM88.00,143.51L89.00,143.51L88.70,129.08L88.30,129.08ZM91.48,143.51L92.48,143.51L92.18,128.74L91.78,128.74ZM94.87,143.51L95.87,143.51L95.57,128.24L95.17,128.24ZM98.40,143.51L99.40,143.51L99.10,129.78L98.70,129.78ZM101.89,143.51L102.89,143.51L102.59,129.07L102.19,129.07ZM105.16,143.51L106.16,143.51L105.86,128.52L105.46,128.52ZM108.54,143.51L109.54,143.51L109.24,128.16L108.84,128.16ZM112.04,143.51L113.04,143.51L112.74,128.84L112.34,128.84ZM115.59,143.51L116.59,143.51L116.29,128.72L115.89,128.72ZM119.08,143.51L120.08,143.51L119.78,128.90L119.38,128.90ZM122.34,143.51L123.34,143.51L123.04,128.42L122.64,128.42ZM125.74,143.51L126.74,143.51L126.44,128.60L126.04,128.60ZM129.33,143.51L130.33,143.51L130.03,128.84L129.63,128.84ZM132.57,143.51L133.57,143.51L133.27,128.95L132.87,128.95ZM136.05,143.51L137.05,143.51L136.75,129.32L136.35,129.32ZM139.48,143.51L140.48,143.51L140.18,128.14L139.78,128.14ZM142.86,143.51L143.86,143.51L143.56,129.30L143.16,129.30ZM146.34,143.51L147.34,143.51L147.04,129.19L146.64,129.19ZM149.88,143.51L150.88,143.51L150.58,129.07L150.18,129.07Z" fill="url(#g7)"/><path d="M43.50,143.51V164.10M44.00,143.51V164.10M44.50,143.51V164.10M47.00,143.51V164.10M47.50,143.51V164.10M48.00,143.51V164.10M50.50,143.51V164.10M51.00,143.51V164.10M51.50,143.51V164.10M54.00,143.51V164.10M54.50,143.51V164.10M55.00,143.51V164.10M57.50,143.51V164.10M58.00,143.51V164.10M61.00,143.51V164.10M61.50,143.51V164.10M64.50,143.51V164.10M65.00,143.51V164.10M68.00,143.51V164.10M68.50,143.51V164.10M71.00,143.51V164.10M71.50,143.51V164.10M72.00,143.51V164.10M74.50,143.51V164.10M75.00,143.51V164.10M75.50,143.51V164.10M78.00,143.51V164.10M78.50,143.51V164.10M79.00,143.51V164.10M81.50,143.51V164.10M82.00,143.51V164.10M85.00,143.51V164.10M85.50,143.51V164.10M88.50,143.51V164.10M89.00,143.51V164.10M92.00,143.51V164.10M92.50,143.51V164.10M95.00,143.51V164.10M95.50,143.51V164.10M96.00,143.51V164.10M98.50,143.51V164.10M99.00,143.51V164.10M99.50,143.51V164.10M102.00,143.51V164.10M102.50,143.51V164.10M103.00,143.51V164.10M105.50,143.51V164.10M106.00,143.51V164.10M109.00,143.51V164.10M109.50,143.51V164.10M112.50,143.51V164.10M113.00,143.51V164.10M116.00,143.51V164.10M116.50,143.51V164.10M119.50,143.51V164.10M120.00,143.51V164.10M122.50,143.51V164.10M123.00,143.51V164.10M123.50,143.51V164.10M126.00,143.51V164.10M126.50,143.51V164.10M127.00,143.51V164.10M129.50,143.51V164.10M130.00,143.51V164.10M130.50,143.51V164.10M133.00,143.51V164.10M133.50,143.51V164.10M136.50,143.51V164.10M137.00,143.51V164.10M140.00,143.51V164.10M140.50,143.51V164.10M143.50,143.51V164.10M144.00,143.51V164.10M146.50,143.51V164.10M147.00,143.51V164.10M147.50,143.51V164.10M150.00,143.51V164.10M150.50,143.51V164.10M151.00,143.51V164.10" stroke="#4cb2ee" stroke-width="0.75"/><path d="M45.00,143.39V148.36M45.50,142.95V148.36M46.00,143.71V148.36M46.50,143.34V148.36M48.50,143.33V148.36M49.00,143.62V148.36M49.50,143.39V148.36M50.00,143.44V148.36M52.00,143.72V148.36M52.50,144.01V148.36M53.00,143.45V148.36M53.50,143.81V148.36M55.50,143.18V148.36M56.00,142.98V148.36M56.50,143.18V148.36M57.00,144.01V148.36M58.50,143.45V148.36M59.00,143.90V148.36M59.50,143.18V148.36M60.00,143.70V148.36M60.50,143.99V148.36M62.00,143.07V148.36M62.50,142.97V148.36M63.00,143.59V148.36M63.50,143.76V148.36M64.00,143.07V148.36M65.50,143.78V148.36M66.00,143.29V148.36M66.50,143.86V148.36M67.00,143.90V148.36M67.50,143.98V148.36M69.00,143.23V148.36M69.50,143.71V148.36M70.00,144.08V148.36M70.50,143.51V148.36M72.50,142.92V148.36M73.00,143.95V148.36M73.50,143.22V148.36M74.00,143.01V148.36M76.00,143.23V148.36M76.50,144.07V148.36M77.00,144.11V148.36M77.50,143.28V148.36M79.50,143.73V148.36M80.00,143.62V148.36M80.50,143.00V148.36M81.00,143.88V148.36M82.50,144.06V148.36M83.00,143.74V148.36M83.50,143.50V148.36M84.00,143.22V148.36M84.50,143.38V148.36M86.00,143.85V148.36M86.50,143.24V148.36M87.00,143.00V148.36M87.50,143.83V148.36M88.00,143.12V148.36M89.50,143.11V148.36M90.00,143.99V148.36M90.50,144.01V148.36M91.00,143.54V148.36M91.50,143.67V148.36M93.00,143.66V148.36M93.50,143.90V148.36M94.00,143.11V148.36M94.50,143.61V148.36M96.50,143.58V148.36M97.00,143.33V148.36M97.50,143.00V148.36M98.00,143.31V148.36M100.00,143.48V148.36M100.50,143.40V148.36M101.00,143.54V148.36M101.50,143.12V148.36M103.50,143.29V148.36M104.00,143.85V148.36M104.50,143.21V148.36M105.00,143.53V148.36M106.50,142.91V148.36M107.00,143.49V148.36M107.50,143.74V148.36M108.00,143.61V148.36M108.50,143.08V148.36M110.00,143.67V148.36M110.50,143.15V148.36M111.00,143.74V148.36M111.50,143.79V148.36M112.00,143.40V148.36M113.50,144.05V148.36M114.00,144.03V148.36M114.50,143.15V148.36M115.00,143.86V148.36M115.50,144.00V148.36M117.00,143.32V148.36M117.50,144.05V148.36M118.00,143.84V148.36M118.50,143.01V148.36M119.00,142.93V148.36M120.50,143.85V148.36M121.00,143.60V148.36M121.50,143.00V148.36M122.00,143.70V148.36M124.00,143.53V148.36M124.50,143.95V148.36M125.00,143.00V148.36M125.50,142.97V148.36M127.50,143.82V148.36M128.00,144.03V148.36M128.50,143.40V148.36M129.00,143.33V148.36M131.00,143.32V148.36M131.50,143.10V148.36M132.00,143.05V148.36M132.50,143.55V148.36M134.00,143.88V148.36M134.50,143.06V148.36M135.00,143.53V148.36M135.50,143.21V148.36M136.00,143.49V148.36M137.50,143.84V148.36M138.00,143.82V148.36M138.50,143.28V148.36M139.00,143.00V148.36M139.50,144.01V148.36M141.00,143.70V148.36M141.50,142.94V148.36M142.00,143.17V148.36M142.50,143.36V148.36M143.00,143.70V148.36M144.50,143.95V148.36M145.00,143.11V148.36M145.50,143.17V148.36M146.00,142.97V148.36M148.00,143.10V148.36M148.50,143.52V148.36M149.00,143.17V148.36M149.50,143.63V148.36M151.50,143.40V148.36M152.00,144.10V148.36" stroke="#2e9de6" stroke-width="0.75"/><path d="M45.00,148.72V164.22M45.50,148.07V164.47M46.00,147.90V163.73M46.50,147.90V164.06M48.50,148.06V164.31M49.00,148.89V164.30M49.50,148.36V164.30M50.00,147.84V164.69M52.00,148.09V163.97M52.50,148.03V164.54M53.00,148.25V164.06M53.50,148.07V164.31M55.50,148.59V163.77M56.00,148.33V164.37M56.50,148.17V164.13M57.00,148.05V164.43M58.50,148.36V164.64M59.00,148.78V164.27M59.50,148.93V164.51M60.00,148.19V164.10M60.50,147.87V164.32M62.00,148.48V163.93M62.50,147.85V164.21M63.00,148.65V164.40M63.50,148.18V163.79M64.00,148.77V164.02M65.50,147.97V163.80M66.00,148.77V163.63M66.50,147.89V164.01M67.00,147.92V163.76M67.50,148.93V164.35M69.00,148.78V163.60M69.50,148.85V163.88M70.00,147.78V163.64M70.50,148.92V163.87M72.50,148.94V164.58M73.00,148.37V164.56M73.50,148.78V163.88M74.00,148.36V164.28M76.00,147.89V163.54M76.50,148.88V164.39M77.00,148.52V164.03M77.50,148.30V164.05M79.50,148.48V163.84M80.00,148.50V164.24M80.50,148.23V164.70M81.00,148.67V164.25M82.50,147.86V163.76M83.00,148.30V163.93M83.50,147.93V163.80M84.00,148.20V164.42M84.50,148.33V164.23M86.00,148.31V163.95M86.50,148.39V163.61M87.00,148.79V164.44M87.50,147.98V164.07M88.00,148.19V164.15M89.50,148.50V164.66M90.00,148.66V164.52M90.50,148.41V164.08M91.00,148.42V163.87M91.50,148.14V164.53M93.00,148.55V164.26M93.50,148.89V164.02M94.00,148.67V164.32M94.50,148.72V163.67M96.50,148.91V164.26M97.00,148.47V164.35M97.50,148.26V164.24M98.00,148.51V163.85M100.00,148.50V163.79M100.50,148.93V163.79M101.00,148.46V163.69M101.50,148.34V164.11M103.50,148.91V164.22M104.00,148.82V163.78M104.50,148.86V164.59M105.00,148.10V163.88M106.50,148.26V164.20M107.00,148.56V164.53M107.50,148.65V164.38M108.00,148.34V164.04M108.50,147.99V163.66M110.00,148.31V164.65M110.50,148.52V164.00M111.00,148.90V164.04M111.50,148.57V164.02M112.00,147.99V163.85M113.50,147.90V164.17M114.00,147.92V164.65M114.50,148.28V163.59M115.00,148.61V163.89M115.50,148.71V163.60M117.00,148.46V163.56M117.50,148.78V163.88M118.00,148.61V163.70M118.50,148.78V164.03M119.00,148.00V164.52M120.50,148.19V164.25M121.00,148.08V164.15M121.50,148.82V163.71M122.00,148.61V164.07M124.00,148.85V163.58M124.50,148.86V164.05M125.00,148.69V163.68M125.50,148.55V163.54M127.50,148.42V164.31M128.00,148.60V163.75M128.50,148.01V164.04M129.00,148.85V164.09M131.00,148.51V164.28M131.50,148.56V163.57M132.00,148.85V164.53M132.50,148.82V164.06M134.00,148.52V164.09M134.50,148.67V164.55M135.00,147.82V164.69M135.50,148.69V163.87M136.00,148.49V164.67M137.50,148.26V164.61M138.00,148.89V163.85M138.50,148.21V164.66M139.00,148.40V163.73M139.50,148.47V164.21M141.00,148.78V163.89M141.50,148.56V164.44M142.00,148.36V164.13M142.50,148.72V163.94M143.00,148.09V164.60M144.50,148.06V163.89M145.00,148.06V163.61M145.50,147.96V164.18M146.00,148.32V163.54M148.00,148.66V163.76M148.50,148.68V164.15M149.00,148.49V163.85M149.50,147.96V163.57M151.50,148.55V163.70M152.00,148.37V164.70" stroke="#0f70c8" stroke-width="0.75"/><path d="M43.50,128.07V144.16M44.00,128.08V144.17M44.50,128.10V144.18M47.00,128.16V144.25M47.50,128.17V144.26M48.00,128.19V144.27M50.50,128.25V144.34M51.00,128.27V144.35M51.50,128.28V144.37M54.00,128.35V144.43M54.50,128.36V144.44M55.00,128.37V144.46M57.50,128.44V144.52M58.00,128.45V144.54M61.00,128.53V144.62M61.50,128.54V144.63M64.50,128.62V144.71M65.00,128.63V144.72M68.00,128.71V144.80M68.50,128.73V144.81M71.00,128.79V144.88M71.50,128.80V144.89M72.00,128.82V144.90M74.50,128.88V144.97M75.00,128.90V144.98M75.50,128.91V145.00M78.00,128.98V145.06M78.50,128.99V145.07M79.00,129.00V145.09M81.50,130.54V146.63M82.00,130.93V147.02M85.00,133.30V149.38M85.50,133.69V149.78M88.50,134.78V150.87M89.00,134.81V150.89M92.00,134.96V151.04M92.50,134.98V151.07M95.00,135.11V151.20M95.50,135.13V151.22M96.00,135.16V151.25M98.50,135.29V151.37M99.00,135.31V151.40M99.50,135.34V151.42M102.00,135.46V151.55M102.50,135.49V151.57M103.00,135.51V151.60M105.50,135.64V151.72M106.00,135.66V151.75M109.00,135.82V151.90M109.50,135.84V151.93M112.50,135.99V152.08M113.00,136.02V152.10M116.00,136.17V152.25M116.50,136.19V152.28M119.50,136.35V152.43M120.00,136.37V152.46M122.50,136.57V152.73M123.00,136.66V152.85M123.50,136.77V152.98M126.00,137.44V153.80M126.50,137.60V153.99M127.00,137.77V154.19M129.50,138.74V155.31M130.00,138.96V155.56M130.50,139.18V155.81M133.00,140.39V157.17M133.50,140.65V157.46M136.50,142.33V159.32M137.00,142.63V159.65M140.00,144.53V161.73M140.50,144.87V162.10M143.50,146.98V164.39M144.00,147.35V164.79M146.50,149.26V166.85M147.00,149.66V167.27M147.50,150.06V167.70M150.00,152.12V169.92M150.50,152.55V170.37M151.00,152.98V170.83" stroke="#ff4a0a" stroke-width="0.55" opacity="0.4"/><path d="M45.00,144.20V147.03M45.50,144.21V147.05M46.00,144.22V147.06M46.50,144.23V147.07M48.50,144.29V147.13M49.00,144.30V147.14M49.50,144.31V147.15M50.00,144.33V147.17M52.00,144.38V147.22M52.50,144.39V147.23M53.00,144.41V147.24M53.50,144.42V147.26M55.50,144.47V147.31M56.00,144.48V147.32M56.50,144.50V147.34M57.00,144.51V147.35M58.50,144.55V147.39M59.00,144.56V147.40M59.50,144.58V147.41M60.00,144.59V147.43M60.50,144.60V147.44M62.00,144.64V147.48M62.50,144.65V147.49M63.00,144.67V147.51M63.50,144.68V147.52M64.00,144.69V147.53M65.50,144.73V147.57M66.00,144.75V147.59M66.50,144.76V147.60M67.00,144.77V147.61M67.50,144.79V147.62M69.00,144.83V147.66M69.50,144.84V147.68M70.00,144.85V147.69M70.50,144.86V147.70M72.50,144.92V147.76M73.00,144.93V147.77M73.50,144.94V147.78M74.00,144.96V147.80M76.00,145.01V147.85M76.50,145.02V147.86M77.00,145.04V147.87M77.50,145.05V147.89M79.50,145.10V147.94M80.00,145.45V148.29M80.50,145.84V148.68M81.00,146.23V149.07M82.50,147.41V150.25M83.00,147.81V150.65M83.50,148.20V151.04M84.00,148.60V151.43M84.50,148.99V151.83M86.00,150.17V153.01M86.50,150.56V153.40M87.00,150.79V153.63M87.50,150.82V153.66M88.00,150.84V153.68M89.50,150.92V153.76M90.00,150.94V153.78M90.50,150.97V153.81M91.00,150.99V153.83M91.50,151.02V153.86M93.00,151.09V153.93M93.50,151.12V153.96M94.00,151.14V153.98M94.50,151.17V154.01M96.50,151.27V154.11M97.00,151.30V154.13M97.50,151.32V154.16M98.00,151.35V154.19M100.00,151.45V154.29M100.50,151.47V154.31M101.00,151.50V154.34M101.50,151.52V154.36M103.50,151.62V154.46M104.00,151.65V154.49M104.50,151.67V154.51M105.00,151.70V154.54M106.50,151.78V154.61M107.00,151.80V154.64M107.50,151.83V154.66M108.00,151.85V154.69M108.50,151.88V154.71M110.00,151.95V154.79M110.50,151.98V154.82M111.00,152.00V154.84M111.50,152.03V154.87M112.00,152.05V154.89M113.50,152.13V154.97M114.00,152.15V154.99M114.50,152.18V155.02M115.00,152.20V155.04M115.50,152.23V155.07M117.00,152.31V155.14M117.50,152.33V155.17M118.00,152.36V155.19M118.50,152.38V155.22M119.00,152.41V155.24M120.50,152.48V155.32M121.00,152.51V155.35M121.50,152.54V155.38M122.00,152.62V155.46M124.00,153.12V155.96M124.50,153.28V156.12M125.00,153.44V156.28M125.50,153.62V156.46M127.50,154.40V157.24M128.00,154.62V157.46M128.50,154.84V157.68M129.00,155.07V157.91M131.00,156.07V158.91M131.50,156.33V159.17M132.00,156.61V159.44M132.50,156.88V159.72M134.00,157.75V160.59M134.50,158.05V160.89M135.00,158.36V161.20M135.50,158.67V161.51M136.00,158.99V161.83M137.50,159.98V162.82M138.00,160.32V163.16M138.50,160.66V163.50M139.00,161.01V163.85M139.50,161.37V164.21M141.00,162.47V165.30M141.50,162.84V165.68M142.00,163.22V166.06M142.50,163.60V166.44M143.00,163.99V166.83M144.50,165.19V168.03M145.00,165.60V168.44M145.50,166.01V168.85M146.00,166.43V169.26M148.00,168.14V170.98M148.50,168.58V171.41M149.00,169.02V171.86M149.50,169.47V172.30M151.50,171.29V174.13M152.00,171.76V174.60" stroke="#ff4a0a" stroke-width="0.75" opacity="0.55"/><path d="M45.00,133.56V143.64M45.50,134.44V144.06M46.00,134.29V144.77M46.50,134.26V143.59M48.50,133.61V144.43M49.00,133.70V144.99M49.50,133.96V144.68M50.00,134.59V143.59M52.00,134.49V144.99M52.50,134.10V143.92M53.00,133.84V144.17M53.50,133.61V144.10M55.50,134.13V143.75M56.00,134.82V145.04M56.50,133.35V144.71M57.00,134.66V145.23M58.50,133.48V145.03M59.00,133.52V144.20M59.50,133.44V144.97M60.00,134.24V144.13M60.50,134.85V144.25M62.00,134.14V145.31M62.50,134.66V144.46M63.00,134.71V145.07M63.50,134.70V143.93M64.00,134.64V144.14M65.50,134.35V144.99M66.00,134.41V144.60M66.50,134.56V144.18M67.00,133.61V144.22M67.50,135.12V144.07M69.00,134.92V145.43M69.50,134.10V144.20M70.00,134.00V145.25M70.50,134.56V145.27M72.50,133.94V145.20M73.00,135.01V145.04M73.50,135.12V144.94M74.00,134.98V145.18M76.00,135.09V145.35M76.50,134.75V145.01M77.00,134.39V144.75M77.50,134.07V144.32M79.50,133.98V145.22M80.00,134.28V145.99M80.50,135.26V146.21M81.00,135.31V146.82M82.50,137.27V147.12M83.00,138.16V147.09M83.50,137.04V148.06M84.00,137.87V148.78M84.50,138.85V148.72M86.00,140.12V150.00M86.50,140.19V150.53M87.00,140.35V150.75M87.50,139.92V151.31M88.00,139.88V150.25M89.50,141.08V150.44M90.00,140.07V151.16M90.50,139.81V151.13M91.00,140.19V150.54M91.50,141.01V150.99M93.00,141.14V151.82M93.50,141.05V150.79M94.00,140.53V151.76M94.50,140.58V150.73M96.50,140.54V151.47M97.00,141.11V150.83M97.50,140.20V151.79M98.00,141.59V151.60M100.00,140.43V151.45M100.50,141.12V151.53M101.00,141.18V150.91M101.50,140.75V151.27M103.50,140.81V151.54M104.00,140.76V152.29M104.50,141.94V151.58M105.00,141.00V152.37M106.50,140.80V151.30M107.00,140.65V152.55M107.50,140.87V152.20M108.00,141.74V152.53M108.50,141.92V152.24M110.00,141.56V152.01M110.50,140.93V152.43M111.00,141.73V151.95M111.50,141.93V151.58M112.00,140.99V152.12M113.50,141.51V152.23M114.00,142.23V152.01M114.50,141.51V152.18M115.00,142.33V151.69M115.50,141.39V152.84M117.00,141.28V152.67M117.50,142.62V152.03M118.00,142.22V152.23M118.50,141.46V152.65M119.00,142.70V152.57M120.50,142.69V152.41M121.00,142.68V152.24M121.50,141.46V151.79M122.00,142.18V152.24M124.00,142.41V152.57M124.50,142.09V153.62M125.00,142.67V154.15M125.50,143.64V153.38M127.50,144.12V154.04M128.00,144.43V154.53M128.50,144.72V154.90M129.00,144.09V155.63M131.00,145.59V156.58M131.50,145.35V155.77M132.00,145.57V157.19M132.50,145.76V157.39M134.00,147.04V157.90M134.50,146.27V158.05M135.00,147.03V157.92M135.50,147.78V159.20M136.00,147.12V159.31M137.50,148.18V159.84M138.00,148.19V160.17M138.50,149.48V160.19M139.00,148.89V161.76M139.50,149.53V161.76M141.00,151.34V163.01M141.50,150.79V162.09M142.00,151.20V162.60M142.50,151.50V163.08M143.00,151.59V164.51M144.50,152.74V164.69M145.00,153.64V165.14M145.50,154.47V165.45M146.00,153.84V167.01M148.00,156.60V168.54M148.50,156.27V167.96M149.00,156.69V168.57M149.50,157.15V170.09M151.50,158.65V170.79M152.00,159.06V172.35" stroke="#ff4a0a" stroke-width="0.75"/><path d="M129.09,157.77L130.29,157.77L129.89,170.06L129.49,170.06ZM132.65,159.40L133.85,159.40L133.45,172.95L133.05,172.95ZM135.97,161.32L137.17,161.32L136.77,176.11L136.37,176.11ZM139.57,163.49L140.77,163.49L140.37,179.53L139.97,179.53ZM142.80,165.89L144.00,165.89L143.60,183.19L143.20,183.19ZM146.22,168.51L147.42,168.51L147.02,187.06L146.62,187.06ZM149.82,171.34L151.02,171.34L150.62,191.14L150.22,191.14Z" fill="url(#g8)"/></g><path d="M43.5,120.5H158.9M43.5,196.2H158.9" stroke="#3a3a3a" stroke-width="1" fill="none"/><path d="M43.5,120.0V196.7" stroke="#1c8ad6" stroke-width="1.1" fill="none"/><path d="M158.9,120.0V196.7" stroke="#ff5520" stroke-width="1.1" fill="none"/><path d="M43.5,196.2v-1.5M43.5,120.5v1.5M72.3,196.2v-1.5M72.3,120.5v1.5M101.2,196.2v-1.5M101.2,120.5v1.5M130.1,196.2v-1.5M130.1,120.5v1.5M158.9,196.2v-1.5M158.9,120.5v1.5" stroke="#3a3a3a" stroke-width="0.8" fill="none"/><path d="M43.5,120.5h1.5M43.5,135.6h1.5M43.5,150.8h1.5M43.5,165.9h1.5M43.5,181.1h1.5M43.5,196.2h1.5" stroke="#1c8ad6" stroke-width="0.8" fill="none"/><path d="M158.9,120.5h-1.5M158.9,139.4h-1.5M158.9,158.3h-1.5M158.9,177.3h-1.5M158.9,196.2h-1.5" stroke="#ff5520" stroke-width="0.8" fill="none"/><text x="43.5" y="204.1" font-size="6.8" fill="#222" stroke="#222" stroke-width="0.25" text-anchor="middle" font-weight="bold" >0</text><text x="72.3" y="204.1" font-size="6.8" fill="#222" stroke="#222" stroke-width="0.25" text-anchor="middle" font-weight="bold" >1</text><text x="101.2" y="204.1" font-size="6.8" fill="#222" stroke="#222" stroke-width="0.25" text-anchor="middle" font-weight="bold" >2</text><text x="130.1" y="204.1" font-size="6.8" fill="#222" stroke="#222" stroke-width="0.25" text-anchor="middle" font-weight="bold" >3</text><text x="158.9" y="204.1" font-size="6.8" fill="#222" stroke="#222" stroke-width="0.25" text-anchor="middle" font-weight="bold" >4</text><text x="41.0" y="123.0" font-size="7.1" fill="#1c8ad6" stroke="#1c8ad6" stroke-width="0.3" text-anchor="end" font-weight="bold" >100</text><text x="41.0" y="138.1" font-size="7.1" fill="#1c8ad6" stroke="#1c8ad6" stroke-width="0.3" text-anchor="end" font-weight="bold" >50</text><text x="41.0" y="153.3" font-size="7.1" fill="#1c8ad6" stroke="#1c8ad6" stroke-width="0.3" text-anchor="end" font-weight="bold" >0</text><text x="41.0" y="168.4" font-size="7.1" fill="#1c8ad6" stroke="#1c8ad6" stroke-width="0.3" text-anchor="end" font-weight="bold" >&#8722;50</text><text x="41.0" y="183.6" font-size="7.1" fill="#1c8ad6" stroke="#1c8ad6" stroke-width="0.3" text-anchor="end" font-weight="bold" >&#8722;100</text><text x="41.0" y="198.7" font-size="7.1" fill="#1c8ad6" stroke="#1c8ad6" stroke-width="0.3" text-anchor="end" font-weight="bold" >&#8722;150</text><text x="161.4" y="123.0" font-size="7.1" fill="#ff5520" stroke="#ff5520" stroke-width="0.1" text-anchor="start" font-weight="bold" >3.4</text><text x="161.4" y="141.9" font-size="7.1" fill="#ff5520" stroke="#ff5520" stroke-width="0.1" text-anchor="start" font-weight="bold" >3.3</text><text x="161.4" y="160.8" font-size="7.1" fill="#ff5520" stroke="#ff5520" stroke-width="0.1" text-anchor="start" font-weight="bold" >3.2</text><text x="161.4" y="179.8" font-size="7.1" fill="#ff5520" stroke="#ff5520" stroke-width="0.1" text-anchor="start" font-weight="bold" >3.1</text><text x="161.4" y="198.7" font-size="7.1" fill="#ff5520" stroke="#ff5520" stroke-width="0.1" text-anchor="start" font-weight="bold" >3</text><text x="101.2" y="216.2" font-size="10.7" fill="#111" stroke="#111" stroke-width="0.25" text-anchor="middle" font-weight="bold" >Time/s</text><text x="159.4" y="215.2" font-size="7.6" fill="#222" text-anchor="end" font-weight="normal">&#215;10<tspan dy="-3.2" font-size="5.4">4</tspan></text><text transform="translate(25.0,157.8) rotate(-90)" font-size="11" fill="#1c8ad6" stroke="#1c8ad6" stroke-width="0.3" text-anchor="middle" font-weight="bold">Current/A</text><text transform="translate(180.9,159.3) rotate(-90)" font-size="10.7" fill="#ff5520" stroke="#ff5520" stroke-width="0.3" text-anchor="middle" font-weight="bold">Voltage<tspan dy="5" dx="0.5" font-size="7.6">min</tspan><tspan dy="-5">/V</tspan></text><text x="7.4" y="122.3" font-size="10.5" fill="#111" stroke="#111" stroke-width="0.25" text-anchor="start" font-weight="bold" >(d)</text><linearGradient id="g9" gradientUnits="userSpaceOnUse" x1="0" y1="164.6" x2="0" y2="189.7"><stop offset="0" stop-color="#2f98e0" stop-opacity="0.95"/><stop offset="1" stop-color="#b0dcf6" stop-opacity="0.7"/></linearGradient><linearGradient id="g10" gradientUnits="userSpaceOnUse" x1="0" y1="142.9" x2="0" y2="130.2"><stop offset="0" stop-color="#6ab8ea" stop-opacity="0.8"/><stop offset="1" stop-color="#c5e5f8" stop-opacity="0.6"/></linearGradient><clipPath id="c5"><rect x="221.9" y="121.7" width="115.3" height="75.6"/></clipPath><g clip-path="url(#c5)" fill="none"><path d="M221.67,164.64L222.97,164.64L222.52,189.11L222.12,189.11ZM225.00,164.64L226.30,164.64L225.85,190.62L225.45,190.62ZM228.12,164.64L229.42,164.64L228.97,190.52L228.57,190.52ZM231.43,164.64L232.73,164.64L232.28,190.64L231.88,190.64ZM234.67,164.64L235.97,164.64L235.52,188.86L235.12,188.86ZM238.03,164.64L239.33,164.64L238.88,188.89L238.48,188.89ZM241.36,164.64L242.66,164.64L242.21,190.07L241.81,190.07ZM244.55,164.64L245.85,164.64L245.40,190.55L245.00,190.55ZM247.86,164.64L249.16,164.64L248.71,189.51L248.31,189.51ZM251.22,164.64L252.52,164.64L252.07,189.32L251.67,189.32ZM254.37,164.64L255.67,164.64L255.22,188.96L254.82,188.96ZM257.86,164.64L259.16,164.64L258.71,189.39L258.31,189.39ZM260.96,164.64L262.26,164.64L261.81,189.20L261.41,189.20ZM264.46,164.64L265.76,164.64L265.31,190.30L264.91,190.30ZM267.70,164.64L269.00,164.64L268.55,190.23L268.15,190.23ZM270.97,164.64L272.27,164.64L271.82,190.40L271.42,190.40ZM274.16,164.64L275.46,164.64L275.01,189.50L274.61,189.50ZM277.37,164.64L278.67,164.64L278.22,189.68L277.82,189.68ZM280.84,164.64L282.14,164.64L281.69,190.25L281.29,190.25ZM284.00,164.64L285.30,164.64L284.85,189.53L284.45,189.53ZM287.27,164.64L288.57,164.64L288.12,189.45L287.72,189.45ZM290.72,164.64L292.02,164.64L291.57,189.25L291.17,189.25ZM293.89,164.64L295.19,164.64L294.74,189.21L294.34,189.21ZM297.11,164.64L298.41,164.64L297.96,190.55L297.56,190.55ZM300.65,164.64L301.95,164.64L301.50,189.72L301.10,189.72ZM303.69,164.64L304.99,164.64L304.54,189.81L304.14,189.81ZM307.16,164.64L308.46,164.64L308.01,189.70L307.61,189.70ZM310.25,164.64L311.55,164.64L311.10,189.24L310.70,189.24ZM313.72,164.64L315.02,164.64L314.57,189.77L314.17,189.77ZM317.02,164.64L318.32,164.64L317.87,190.07L317.47,190.07ZM320.37,164.64L321.67,164.64L321.22,189.97L320.82,189.97Z" fill="url(#g9)"/><path d="M221.96,142.87L222.86,142.87L222.61,129.98L222.21,129.98ZM225.14,142.87L226.04,142.87L225.79,130.71L225.39,130.71ZM228.27,142.87L229.17,142.87L228.92,130.58L228.52,130.58ZM231.62,142.87L232.52,142.87L232.27,129.81L231.87,129.81ZM234.85,142.87L235.75,142.87L235.50,129.78L235.10,129.78ZM238.17,142.87L239.07,142.87L238.82,129.38L238.42,129.38ZM241.54,142.87L242.44,142.87L242.19,130.13L241.79,130.13ZM244.72,142.87L245.62,142.87L245.37,130.61L244.97,130.61ZM248.20,142.87L249.10,142.87L248.85,130.91L248.45,130.91ZM251.38,142.87L252.28,142.87L252.03,129.64L251.63,129.64ZM254.73,142.87L255.63,142.87L255.38,130.73L254.98,130.73ZM257.96,142.87L258.86,142.87L258.61,130.80L258.21,130.80ZM261.37,142.87L262.27,142.87L262.02,130.66L261.62,130.66ZM264.63,142.87L265.53,142.87L265.28,130.01L264.88,130.01ZM267.73,142.87L268.63,142.87L268.38,129.64L267.98,129.64ZM271.05,142.87L271.95,142.87L271.70,130.05L271.30,130.05ZM274.35,142.87L275.25,142.87L275.00,130.88L274.60,130.88ZM277.78,142.87L278.68,142.87L278.43,130.31L278.03,130.31ZM280.94,142.87L281.84,142.87L281.59,129.76L281.19,129.76ZM284.41,142.87L285.31,142.87L285.06,129.82L284.66,129.82ZM287.50,142.87L288.40,142.87L288.15,130.51L287.75,130.51ZM290.96,142.87L291.86,142.87L291.61,130.66L291.21,130.66ZM294.09,142.87L294.99,142.87L294.74,129.33L294.34,129.33ZM297.47,142.87L298.37,142.87L298.12,129.77L297.72,129.77ZM300.61,142.87L301.51,142.87L301.26,130.99L300.86,130.99ZM303.92,142.87L304.82,142.87L304.57,129.48L304.17,129.48ZM307.25,142.87L308.15,142.87L307.90,130.15L307.50,130.15ZM310.46,142.87L311.36,142.87L311.11,130.11L310.71,130.11ZM313.79,142.87L314.69,142.87L314.44,130.37L314.04,130.37ZM317.14,142.87L318.04,142.87L317.79,130.67L317.39,130.67ZM320.42,142.87L321.32,142.87L321.07,129.68L320.67,129.68ZM323.76,142.87L324.66,142.87L324.41,129.38L324.01,129.38ZM327.00,142.87L327.90,142.87L327.65,130.88L327.25,130.88ZM330.23,142.87L331.13,142.87L330.88,129.92L330.48,129.92ZM333.73,142.87L334.63,142.87L334.38,131.01L333.98,131.01Z" fill="url(#g10)"/><path d="M221.90,142.87V164.64M222.40,142.87V164.64M222.90,142.87V164.64M225.40,142.87V164.64M225.90,142.87V164.64M226.40,142.87V164.64M228.90,142.87V164.64M229.40,142.87V164.64M231.90,142.87V164.64M232.40,142.87V164.64M232.90,142.87V164.64M235.40,142.87V164.64M235.90,142.87V164.64M238.40,142.87V164.64M238.90,142.87V164.64M239.40,142.87V164.64M241.90,142.87V164.64M242.40,142.87V164.64M245.40,142.87V164.64M245.90,142.87V164.64M248.40,142.87V164.64M248.90,142.87V164.64M249.40,142.87V164.64M251.90,142.87V164.64M252.40,142.87V164.64M254.90,142.87V164.64M255.40,142.87V164.64M255.90,142.87V164.64M258.40,142.87V164.64M258.90,142.87V164.64M261.40,142.87V164.64M261.90,142.87V164.64M262.40,142.87V164.64M264.90,142.87V164.64M265.40,142.87V164.64M268.40,142.87V164.64M268.90,142.87V164.64M271.40,142.87V164.64M271.90,142.87V164.64M272.40,142.87V164.64M274.90,142.87V164.64M275.40,142.87V164.64M277.90,142.87V164.64M278.40,142.87V164.64M278.90,142.87V164.64M281.40,142.87V164.64M281.90,142.87V164.64M284.40,142.87V164.64M284.90,142.87V164.64M285.40,142.87V164.64M287.90,142.87V164.64M288.40,142.87V164.64M291.40,142.87V164.64M291.90,142.87V164.64M294.40,142.87V164.64M294.90,142.87V164.64M295.40,142.87V164.64M297.90,142.87V164.64M298.40,142.87V164.64M300.90,142.87V164.64M301.40,142.87V164.64M301.90,142.87V164.64M304.40,142.87V164.64M304.90,142.87V164.64M307.40,142.87V164.64M307.90,142.87V164.64M308.40,142.87V164.64M310.90,142.87V164.64M311.40,142.87V164.64M314.40,142.87V164.64M314.90,142.87V164.64M317.40,142.87V164.64M317.90,142.87V164.64M318.40,142.87V164.64M320.90,142.87V164.64M321.40,142.87V164.64M323.90,142.87V164.64M324.40,142.87V160.41M324.90,142.87V160.41M327.40,142.87V160.41M327.90,142.87V160.41M330.40,142.87V160.41M330.90,142.87V160.41M331.40,142.87V160.41M333.90,142.87V160.41M334.40,142.87V160.41" stroke="#4cb2ee" stroke-width="0.75"/><path d="M223.40,142.63V148.92M223.90,143.07V148.92M224.40,142.75V148.92M224.90,142.81V148.92M226.90,143.26V148.92M227.40,142.59V148.92M227.90,142.75V148.92M228.40,142.65V148.92M229.90,143.15V148.92M230.40,142.50V148.92M230.90,142.87V148.92M231.40,142.80V148.92M233.40,143.18V148.92M233.90,142.51V148.92M234.40,143.20V148.92M234.90,143.26V148.92M236.40,143.12V148.92M236.90,143.00V148.92M237.40,143.32V148.92M237.90,142.92V148.92M239.90,143.22V148.92M240.40,142.81V148.92M240.90,142.59V148.92M241.40,142.86V148.92M242.90,142.79V148.92M243.40,142.53V148.92M243.90,142.43V148.92M244.40,142.70V148.92M244.90,142.96V148.92M246.40,142.92V148.92M246.90,142.81V148.92M247.40,142.49V148.92M247.90,143.31V148.92M249.90,143.00V148.92M250.40,143.28V148.92M250.90,142.91V148.92M251.40,142.89V148.92M252.90,142.58V148.92M253.40,143.13V148.92M253.90,142.46V148.92M254.40,142.59V148.92M256.40,142.79V148.92M256.90,142.90V148.92M257.40,143.03V148.92M257.90,143.13V148.92M259.40,142.79V148.92M259.90,142.74V148.92M260.40,143.27V148.92M260.90,143.10V148.92M262.90,142.50V148.92M263.40,143.11V148.92M263.90,142.65V148.92M264.40,143.29V148.92M265.90,142.71V148.92M266.40,143.18V148.92M266.90,142.68V148.92M267.40,143.23V148.92M267.90,142.55V148.92M269.40,142.78V148.92M269.90,143.06V148.92M270.40,142.57V148.92M270.90,143.13V148.92M272.90,143.00V148.92M273.40,143.23V148.92M273.90,142.77V148.92M274.40,143.22V148.92M275.90,142.95V148.92M276.40,142.60V148.92M276.90,142.70V148.92M277.40,142.47V148.92M279.40,143.01V148.92M279.90,142.73V148.92M280.40,142.64V148.92M280.90,143.11V148.92M282.40,142.62V148.92M282.90,142.57V148.92M283.40,142.45V148.92M283.90,142.47V148.92M285.90,143.24V148.92M286.40,143.09V148.92M286.90,142.70V148.92M287.40,143.09V148.92M288.90,142.45V148.92M289.40,142.69V148.92M289.90,142.99V148.92M290.40,142.70V148.92M290.90,143.05V148.92M292.40,143.24V148.92M292.90,142.57V148.92M293.40,143.07V148.92M293.90,142.72V148.92M295.90,143.23V148.92M296.40,143.12V148.92M296.90,142.45V148.92M297.40,143.09V148.92M298.90,142.60V148.92M299.40,143.15V148.92M299.90,142.89V148.92M300.40,143.11V148.92M302.40,142.68V148.92M302.90,143.11V148.92M303.40,142.90V148.92M303.90,142.65V148.92M305.40,143.22V148.92M305.90,142.54V148.92M306.40,142.90V148.92M306.90,143.14V148.92M308.90,142.88V148.92M309.40,143.30V148.92M309.90,142.87V148.92M310.40,142.46V148.92M311.90,143.16V148.92M312.40,143.12V148.92M312.90,142.64V148.92M313.40,143.31V148.92M313.90,142.46V148.92M315.40,142.57V148.92M315.90,142.45V148.92M316.40,143.30V148.92M316.90,142.77V148.92M318.90,143.20V148.92M319.40,143.20V148.92M319.90,143.11V148.92M320.40,142.52V148.92M321.90,142.47V148.92M322.40,143.31V148.92M322.90,142.94V148.92M323.40,142.86V148.92M325.40,142.59V148.92M325.90,142.51V148.92M326.40,143.11V148.92M326.90,142.65V148.92M328.40,143.31V148.92M328.90,143.16V148.92M329.40,142.45V148.92M329.90,143.11V148.92M331.90,143.21V148.92M332.40,143.20V148.92M332.90,142.47V148.92M333.40,143.16V148.92M334.90,142.99V148.92M335.40,142.75V148.92M335.90,143.05V148.92" stroke="#2e9de6" stroke-width="0.75"/><path d="M223.40,149.23V164.81M223.90,148.69V164.49M224.40,149.11V164.61M224.90,148.62V165.06M226.90,149.15V164.85M227.40,149.00V164.48M227.90,148.49V164.51M228.40,148.52V164.74M229.90,149.05V164.36M230.40,148.76V164.62M230.90,148.99V165.03M231.40,149.00V164.57M233.40,148.61V164.38M233.90,148.55V164.64M234.40,148.57V164.51M234.90,149.12V164.54M236.40,149.18V164.85M236.90,148.64V164.21M237.40,149.07V164.33M237.90,149.32V164.84M239.90,148.62V165.06M240.40,149.07V164.79M240.90,148.61V164.90M241.40,149.34V164.39M242.90,148.71V164.52M243.40,149.16V164.56M243.90,149.07V164.22M244.40,148.96V164.97M244.90,149.20V164.78M246.40,148.90V164.43M246.90,149.13V164.92M247.40,148.51V164.42M247.90,149.18V165.04M249.90,149.13V164.52M250.40,149.09V164.19M250.90,148.64V164.28M251.40,148.66V164.95M252.90,148.94V164.37M253.40,148.91V164.58M253.90,148.73V164.27M254.40,149.02V164.43M256.40,149.18V165.08M256.90,148.66V164.34M257.40,149.31V164.61M257.90,148.79V164.65M259.40,149.28V164.75M259.90,148.84V164.68M260.40,148.71V165.03M260.90,148.72V164.48M262.90,149.24V164.67M263.40,148.47V164.88M263.90,148.79V164.35M264.40,148.64V164.21M265.90,149.17V164.25M266.40,149.13V164.26M266.90,148.49V165.00M267.40,148.90V164.95M267.90,149.37V164.26M269.40,148.81V164.64M269.90,148.87V165.05M270.40,149.35V164.42M270.90,148.78V164.98M272.90,148.87V164.21M273.40,148.60V164.32M273.90,149.24V164.40M274.40,149.30V165.09M275.90,148.96V164.62M276.40,148.70V164.26M276.90,149.34V164.44M277.40,149.21V164.30M279.40,149.10V164.87M279.90,148.48V164.69M280.40,148.47V164.34M280.90,149.35V164.72M282.40,148.67V164.80M282.90,149.27V164.61M283.40,148.88V164.76M283.90,148.88V164.50M285.90,148.49V164.47M286.40,149.36V164.27M286.90,148.97V164.93M287.40,149.14V164.41M288.90,149.13V164.90M289.40,148.83V164.50M289.90,149.36V165.03M290.40,148.49V164.65M290.90,149.28V164.93M292.40,148.71V164.69M292.90,149.34V164.34M293.40,148.76V164.37M293.90,149.23V164.27M295.90,149.24V164.93M296.40,148.85V164.50M296.90,149.25V164.32M297.40,148.65V164.97M298.90,149.14V164.99M299.40,149.17V164.40M299.90,148.79V164.76M300.40,148.61V164.49M302.40,148.95V164.99M302.90,149.21V164.66M303.40,149.04V165.03M303.90,149.17V165.03M305.40,148.59V164.22M305.90,149.21V164.88M306.40,148.53V164.85M306.90,149.08V164.68M308.90,148.48V164.99M309.40,148.90V164.50M309.90,149.16V164.61M310.40,148.64V164.96M311.90,148.55V164.76M312.40,149.30V164.28M312.90,149.20V164.97M313.40,148.75V164.73M313.90,148.91V164.66M315.40,149.17V164.53M315.90,149.16V164.68M316.40,148.76V164.78M316.90,149.37V164.34M318.90,148.72V164.58M319.40,149.23V164.22M319.90,149.32V164.29M320.40,149.00V164.68M321.90,149.13V164.23M322.40,149.28V164.26M322.90,148.58V164.22M323.40,148.78V164.36M325.40,148.84V160.26M325.90,149.30V160.69M326.40,149.14V160.23M326.90,149.30V160.25M328.40,148.64V160.25M328.90,148.78V160.22M329.40,148.98V160.65M329.90,148.55V159.99M331.90,148.67V160.26M332.40,149.34V160.62M332.90,148.84V160.79M333.40,148.97V160.22M334.90,149.22V160.25M335.40,148.79V160.10M335.90,148.67V160.68" stroke="#0f70c8" stroke-width="0.75"/><path d="M221.90,129.76V137.83M222.40,129.79V137.85M222.90,129.81V137.87M225.40,129.92V137.98M225.90,129.94V138.01M226.40,129.96V138.03M228.90,130.08V138.14M229.40,130.10V138.16M231.90,130.21V138.27M232.40,130.23V138.30M232.90,130.25V138.32M235.40,130.37V138.43M235.90,130.39V138.45M238.40,130.50V138.56M238.90,130.52V138.59M239.40,130.54V138.61M241.90,130.66V138.72M242.40,130.68V138.74M245.40,130.81V138.88M245.90,130.83V138.90M248.40,130.95V139.01M248.90,130.97V139.03M249.40,130.99V139.05M251.90,131.10V139.17M252.40,131.12V139.19M254.90,131.24V139.30M255.40,131.26V139.32M255.90,131.28V139.34M258.40,131.39V139.46M258.90,131.41V139.48M261.40,131.53V139.59M261.90,131.55V139.61M262.40,131.57V139.63M264.90,131.68V139.75M265.40,131.70V139.77M268.40,131.84V139.90M268.90,131.86V139.92M271.40,131.97V140.04M271.90,131.99V140.06M272.40,132.02V140.08M274.90,132.13V140.19M275.40,132.15V140.21M277.90,132.26V140.33M278.40,132.28V140.35M278.90,132.31V140.37M281.40,132.42V140.48M281.90,132.44V140.50M284.40,132.55V140.62M284.90,132.57V140.64M285.40,132.60V140.66M287.90,132.71V140.77M288.40,132.73V140.79M291.40,132.86V140.93M291.90,132.89V140.95M294.40,133.00V141.06M294.90,133.02V141.08M295.40,133.04V141.11M297.90,133.15V141.22M298.40,133.18V141.24M300.90,133.29V141.35M301.40,133.31V141.37M301.90,133.33V141.40M304.40,133.44V141.51M304.90,133.47V141.53M307.40,133.58V141.64M307.90,133.60V141.66M308.40,133.62V141.69M310.90,133.73V141.80M311.40,133.76V141.82M314.40,133.98V142.04M314.90,134.05V142.11M317.40,134.55V142.61M317.90,134.68V142.74M318.40,134.82V142.88M320.90,135.67V143.73M321.40,135.87V143.93M323.90,137.01V145.08M324.40,137.27V145.34M324.90,137.54V145.61M327.40,139.10V147.16M327.90,140.36V148.42M330.40,150.15V158.22M330.90,152.49V160.56M331.40,154.93V163.00M333.90,168.31V176.38M334.40,171.20V179.26" stroke="#ff4a0a" stroke-width="0.55" opacity="0.4"/><path d="M223.40,128.62V131.98M223.90,127.94V131.77M224.40,128.21V132.00M224.90,128.57V132.43M226.90,128.38V131.87M227.40,128.70V132.17M227.90,128.54V131.90M228.40,129.56V132.89M229.90,129.01V131.95M230.40,128.83V132.32M230.90,128.56V131.65M231.40,128.86V132.71M233.40,128.73V132.09M233.90,128.46V131.82M234.40,128.83V132.11M234.90,129.31V132.81M236.40,129.24V133.11M236.90,129.43V132.07M237.40,129.35V132.13M237.90,129.10V132.63M239.90,129.21V132.90M240.40,128.79V132.64M240.90,129.74V132.51M241.40,130.27V133.19M242.90,129.79V133.18M243.40,129.02V132.10M243.90,129.28V132.96M244.40,129.67V132.69M244.90,130.59V133.77M246.40,129.50V133.29M246.90,128.91V132.46M247.40,129.29V132.56M247.90,129.81V132.94M249.90,129.54V133.28M250.40,129.67V133.13M250.90,130.23V133.52M251.40,130.05V133.25M252.90,130.47V133.73M253.40,130.18V133.23M253.90,129.82V132.55M254.40,130.60V133.16M256.40,130.51V133.42M256.90,129.42V133.55M257.40,129.67V133.21M257.90,130.25V134.19M259.40,130.76V134.11M259.90,130.08V133.09M260.40,130.11V133.32M260.90,130.24V133.56M262.90,130.82V133.55M263.40,129.82V133.49M263.90,130.70V134.03M264.40,131.11V134.58M265.90,130.69V133.68M266.40,130.10V134.12M266.90,129.97V133.87M267.40,130.25V133.63M267.90,130.97V134.52M269.40,131.17V133.71M269.90,130.91V133.79M270.40,130.57V133.49M270.90,131.44V134.40M272.90,130.47V134.38M273.40,130.75V133.96M273.90,130.59V133.65M274.40,131.39V134.57M275.90,130.96V134.27M276.40,130.39V133.59M276.90,130.85V133.70M277.40,131.04V134.58M279.40,131.46V134.50M279.90,130.58V133.68M280.40,131.33V134.59M280.90,131.25V134.57M282.40,131.19V134.37M282.90,130.92V134.52M283.40,131.00V134.65M283.90,131.04V134.82M285.90,131.62V134.97M286.40,130.64V134.19M286.90,131.07V134.40M287.40,131.68V135.62M288.90,131.77V135.00M289.40,131.83V134.86M289.90,131.69V134.94M290.40,131.39V135.17M290.90,132.13V135.68M292.40,131.93V134.61M292.90,131.08V134.99M293.40,131.87V135.32M293.90,131.91V135.26M295.90,131.85V134.52M296.40,132.07V135.29M296.90,131.66V135.29M297.40,132.48V135.92M298.90,132.26V135.63M299.40,131.87V135.32M299.90,132.26V134.71M300.40,132.33V136.02M302.40,132.46V135.76M302.90,132.25V135.20M303.40,132.05V134.94M303.90,132.32V135.91M305.40,132.49V135.35M305.90,132.50V135.65M306.40,132.49V135.10M306.90,132.61V135.58M308.90,132.93V136.04M309.40,131.92V135.47M309.90,132.18V135.51M310.40,132.53V135.92M311.90,132.80V136.45M312.40,132.48V136.16M312.90,131.89V135.53M313.40,132.98V135.53M313.90,132.89V136.67M315.40,132.49V136.57M315.90,132.82V136.19M316.40,133.26V136.32M316.90,133.56V137.03M318.90,134.02V137.17M319.40,133.54V136.87M319.90,133.98V137.67M320.40,134.48V137.96M321.90,135.48V138.39M322.40,135.05V138.32M322.90,134.73V138.33M323.40,136.02V139.42M325.40,136.09V139.43M325.90,136.92V139.81M326.40,137.09V140.52M326.90,138.02V141.14M328.40,140.83V144.31M328.90,142.09V145.19M329.40,144.41V147.89M329.90,146.97V149.86M331.90,156.54V159.81M332.40,158.64V161.93M332.90,161.53V164.58M333.40,165.15V167.96M334.90,173.01V176.08M335.40,175.30V178.84M335.90,178.40V182.24" stroke="#ff4a0a" stroke-width="0.75"/><path d="M326.79,139.66L326.90,139.73L327.01,139.80L327.12,139.87L327.23,139.94L327.34,140.01L327.45,140.20L327.56,140.45L327.67,140.72L327.78,141.02L327.89,141.33L328.00,141.66L328.11,142.01L328.22,142.36L328.33,142.73L328.44,143.11L328.55,143.50L328.66,143.89L328.76,144.30L328.87,144.71L328.98,145.13L329.09,145.56L329.20,146.00L329.31,146.44L329.42,146.89L329.53,147.34L329.64,147.81L329.75,148.27L329.86,148.75L329.97,149.23L330.08,149.71L330.19,150.20L330.30,150.70L330.41,151.20L330.52,151.70L330.63,152.21L330.74,152.73L330.85,153.25L330.96,153.77L331.07,154.30L331.17,154.83L331.28,155.37L331.39,155.91L331.50,156.46L331.61,157.00L331.72,157.56L331.83,158.12L331.94,158.68L332.05,159.24L332.16,159.81L332.27,160.39L332.38,160.96L332.49,161.54L332.60,162.13L332.71,162.71L332.82,163.31L332.93,163.90L333.04,164.50L333.15,165.10L333.26,165.70L333.37,166.31L333.48,166.92L333.58,167.54L333.69,168.15L333.80,168.78L333.91,169.40L334.02,170.03L334.13,170.66L334.24,171.29L334.35,171.93L334.46,172.57L334.57,173.21L334.68,173.85L334.79,174.50L334.90,175.15L335.01,175.81L335.12,176.46L335.23,177.12L335.34,177.78L335.45,178.45L335.56,179.12L335.67,179.79L335.78,180.46L335.89,181.14L335.99,181.82L336.10,182.50" stroke="#ff4a0a" stroke-width="1.4" opacity="0.9"/></g><path d="M221.9,121.7H337.2M221.9,197.3H337.2" stroke="#3a3a3a" stroke-width="1" fill="none"/><path d="M221.9,121.2V197.8" stroke="#1c8ad6" stroke-width="1.1" fill="none"/><path d="M337.2,121.2V197.8" stroke="#ff5520" stroke-width="1.1" fill="none"/><path d="M221.9,197.3v-1.5M221.9,121.7v1.5M249.3,197.3v-1.5M249.3,121.7v1.5M276.7,197.3v-1.5M276.7,121.7v1.5M304.1,197.3v-1.5M304.1,121.7v1.5M331.4,197.3v-1.5M331.4,121.7v1.5" stroke="#3a3a3a" stroke-width="0.8" fill="none"/><path d="M221.9,121.7h1.5M221.9,136.8h1.5M221.9,151.9h1.5M221.9,167.1h1.5M221.9,182.2h1.5M221.9,197.3h1.5" stroke="#1c8ad6" stroke-width="0.8" fill="none"/><path d="M337.2,121.7h-1.5M337.2,146.9h-1.5M337.2,172.1h-1.5M337.2,197.3h-1.5" stroke="#ff5520" stroke-width="0.8" fill="none"/><text x="221.9" y="205.2" font-size="6.8" fill="#222" stroke="#222" stroke-width="0.25" text-anchor="middle" font-weight="bold" >0</text><text x="249.3" y="205.2" font-size="6.8" fill="#222" stroke="#222" stroke-width="0.25" text-anchor="middle" font-weight="bold" >1</text><text x="276.7" y="205.2" font-size="6.8" fill="#222" stroke="#222" stroke-width="0.25" text-anchor="middle" font-weight="bold" >2</text><text x="304.1" y="205.2" font-size="6.8" fill="#222" stroke="#222" stroke-width="0.25" text-anchor="middle" font-weight="bold" >3</text><text x="331.4" y="205.2" font-size="6.8" fill="#222" stroke="#222" stroke-width="0.25" text-anchor="middle" font-weight="bold" >4</text><text x="219.4" y="124.2" font-size="7.1" fill="#1c8ad6" stroke="#1c8ad6" stroke-width="0.3" text-anchor="end" font-weight="bold" >100</text><text x="219.4" y="139.3" font-size="7.1" fill="#1c8ad6" stroke="#1c8ad6" stroke-width="0.3" text-anchor="end" font-weight="bold" >50</text><text x="219.4" y="154.4" font-size="7.1" fill="#1c8ad6" stroke="#1c8ad6" stroke-width="0.3" text-anchor="end" font-weight="bold" >0</text><text x="219.4" y="169.6" font-size="7.1" fill="#1c8ad6" stroke="#1c8ad6" stroke-width="0.3" text-anchor="end" font-weight="bold" >&#8722;50</text><text x="219.4" y="184.7" font-size="7.1" fill="#1c8ad6" stroke="#1c8ad6" stroke-width="0.3" text-anchor="end" font-weight="bold" >&#8722;100</text><text x="219.4" y="199.8" font-size="7.1" fill="#1c8ad6" stroke="#1c8ad6" stroke-width="0.3" text-anchor="end" font-weight="bold" >&#8722;150</text><text x="339.7" y="124.2" font-size="7.1" fill="#ff5520" stroke="#ff5520" stroke-width="0.1" text-anchor="start" font-weight="bold" >3.5</text><text x="339.7" y="149.4" font-size="7.1" fill="#ff5520" stroke="#ff5520" stroke-width="0.1" text-anchor="start" font-weight="bold" >3</text><text x="339.7" y="174.6" font-size="7.1" fill="#ff5520" stroke="#ff5520" stroke-width="0.1" text-anchor="start" font-weight="bold" >2.5</text><text x="339.7" y="199.8" font-size="7.1" fill="#ff5520" stroke="#ff5520" stroke-width="0.1" text-anchor="start" font-weight="bold" >2</text><text x="279.6" y="217.3" font-size="10.7" fill="#111" stroke="#111" stroke-width="0.25" text-anchor="middle" font-weight="bold" >Time/s</text><text x="337.7" y="216.3" font-size="7.6" fill="#222" text-anchor="end" font-weight="normal">&#215;10<tspan dy="-3.2" font-size="5.4">4</tspan></text><text transform="translate(203.4,159.0) rotate(-90)" font-size="11" fill="#1c8ad6" stroke="#1c8ad6" stroke-width="0.3" text-anchor="middle" font-weight="bold">Current/A</text><text transform="translate(359.2,160.5) rotate(-90)" font-size="10.7" fill="#ff5520" stroke="#ff5520" stroke-width="0.3" text-anchor="middle" font-weight="bold">Voltage<tspan dy="5" dx="0.5" font-size="7.6">min</tspan><tspan dy="-5">/V</tspan></text><text x="195.6" y="122.7" font-size="10.5" fill="#111" stroke="#111" stroke-width="0.25" text-anchor="start" font-weight="bold" >(e)</text><clipPath id="c6"><rect x="398.7" y="119.4" width="116.1" height="76.1"/></clipPath><g clip-path="url(#c6)" fill="none"><path d="M398.70,144.51L399.20,144.53L399.70,144.54L400.20,144.55L400.70,144.57L401.20,144.58L401.70,144.59L402.20,144.60L402.70,144.62L403.20,144.63L403.70,144.64L404.20,144.66L404.70,144.67L405.20,144.68L405.70,144.70L406.20,144.71L406.70,144.72L407.20,144.74L407.70,144.75L408.20,144.76L408.70,144.78L409.20,144.79L409.70,144.80L410.20,144.81L410.70,144.83L411.20,144.84L411.70,144.85L412.20,144.87L412.70,144.88L413.20,144.89L413.70,144.91L414.20,144.92L414.70,144.93L415.20,144.95L415.70,144.96L416.20,144.97L416.70,144.98L417.20,145.00L417.70,145.01L418.20,145.02L418.70,145.04L419.20,145.05L419.70,145.06L420.20,145.08L420.70,145.09L421.20,145.10L421.70,145.12L422.20,145.13L422.70,145.14L423.20,145.16L423.70,145.17L424.20,145.18L424.70,145.19L425.20,145.21L425.70,145.22L426.20,145.23L426.70,145.25L427.20,145.26L427.70,145.27L428.20,145.31L428.70,145.35L429.20,145.39L429.70,145.44L430.20,145.48L430.70,145.52L431.20,145.56L431.70,145.60L432.20,145.64L432.70,145.68L433.20,145.72L433.70,145.76L434.20,145.80L434.70,145.85L435.20,145.89L435.70,145.93L436.20,145.97L436.70,146.01L437.20,146.05L437.70,146.09L438.20,146.13L438.70,146.17L439.20,146.21L439.70,146.26L440.20,146.30L440.70,146.34L441.20,146.38L441.70,146.42L442.20,146.46L442.70,146.50L443.20,146.54L443.70,146.58L444.20,146.62L444.70,146.66L445.20,146.71L445.70,146.75L446.20,146.79L446.70,146.83L447.20,146.87L447.70,146.91L448.20,146.95L448.70,146.99L449.20,147.03L449.70,147.07L450.20,147.12L450.70,147.16L451.20,147.20L451.70,147.24L452.20,147.28L452.70,147.32L453.20,147.36L453.70,147.40L454.20,147.44L454.70,147.48L455.20,147.53L455.70,147.57L456.20,147.61L456.70,147.65L457.20,147.69L457.70,147.73L458.20,147.77L458.70,147.81L459.20,147.85L459.70,147.89L460.20,147.93L460.70,147.98L461.20,148.02L461.70,148.06L462.20,148.10L462.70,148.14L463.20,148.18L463.70,148.22L464.20,148.26L464.70,148.30L465.20,148.34L465.70,148.39L466.20,148.43L466.70,148.47L467.20,148.51L467.70,148.55L468.20,148.59L468.70,148.63L469.20,148.67L469.70,148.71L470.20,148.75L470.70,148.80L471.20,148.84L471.70,148.88L472.20,148.92L472.70,148.96L473.20,149.00L473.70,149.04L474.20,149.09L474.70,149.23L475.20,149.38L475.70,149.52L476.20,149.66L476.70,149.80L477.20,149.95L477.70,150.09L478.20,150.23L478.70,150.38L479.20,150.52L479.70,150.66L480.20,150.81L480.70,150.95L481.20,151.09L481.70,151.23L482.20,151.38L482.70,151.52L483.20,151.66L483.70,151.81L484.20,151.95L484.70,152.09L485.20,152.24L485.70,152.38L486.20,152.52L486.70,152.66L487.20,152.81L487.70,152.95L488.20,153.09L488.70,153.24L489.20,153.38L489.70,153.52L490.20,153.67L490.70,153.81L491.20,153.95L491.70,154.09L492.20,154.24L492.70,154.38L493.20,154.52L493.70,154.67L494.20,154.81L494.70,154.95L495.20,155.10L495.70,155.35L496.20,156.25L496.70,157.61L497.20,159.36L497.70,161.43L498.20,163.80L498.70,166.45L499.20,169.35L499.70,172.50L500.20,175.87L500.70,179.47L501.20,183.28L501.70,187.29L502.20,191.50" stroke="#ff6a35" stroke-width="0.9" opacity="0.75"/><path d="M400.63,141.32V153.49M402.09,142.23V152.28M404.50,143.75V151.36M428.69,143.75V151.36M430.63,144.67V150.45M432.56,143.75V151.36M462.07,145.27V160.49M473.20,137.66V155.93M474.16,139.19V154.41M475.13,143.75V149.84M482.87,139.19V153.49M484.32,142.23V151.36" stroke="#4aa8e6" stroke-width="0.9" opacity="0.8"/><path d="M398.70,144.87V148.22M399.20,145.35V148.70M399.70,145.14V148.49M400.20,145.05V148.40M400.70,145.24V148.59M401.20,145.38V148.73M401.70,144.97V148.32M402.20,144.96V148.31M402.70,145.16V148.51M403.20,145.37V148.72M403.70,145.19V148.53M404.20,145.37V148.72M404.70,144.84V148.19M405.20,145.40V148.74M405.70,145.25V148.60M406.20,144.96V148.31M406.70,145.34V148.69M407.20,145.36V148.71M407.70,145.38V148.73M408.20,145.33V148.67M408.70,145.10V148.45M409.20,144.92V148.27M409.70,145.32V148.67M410.20,145.32V148.67M410.70,144.96V148.31M411.20,145.17V148.52M411.70,145.22V148.57M412.20,145.35V148.70M412.70,145.28V148.63M413.20,144.83V148.18M413.70,145.35V148.70M414.20,145.27V148.62M414.70,144.98V148.32M415.20,144.88V148.23M415.70,144.88V148.22M416.20,145.14V148.49M416.70,144.84V148.19M417.20,145.06V148.41M417.70,145.25V148.60M418.20,145.14V148.49M418.70,144.99V148.34M419.20,144.98V148.33M419.70,145.35V148.70M420.20,145.31V148.66M420.70,144.84V148.19M421.20,145.36V148.71M421.70,144.93V148.28M422.20,145.22V148.57M422.70,145.28V148.62M423.20,145.27V148.62M423.70,145.14V148.49M424.20,144.82V148.17M424.70,145.34V148.68M425.20,144.91V148.25M425.70,145.23V148.58M426.20,145.32V148.67M426.70,144.97V148.32M427.20,145.22V148.57M427.70,145.31V148.66M428.20,145.17V148.52M428.70,144.93V148.27M429.20,144.90V148.25M429.70,145.08V148.42M430.20,145.42V148.77M430.70,144.96V148.31M431.20,145.06V148.41M431.70,144.88V148.23M432.20,144.85V148.20M432.70,145.23V148.58M433.20,144.91V148.26M433.70,144.93V148.28M434.20,145.26V148.61M434.70,145.20V148.55M435.20,145.20V148.55M435.70,145.21V148.56M436.20,145.20V148.54M436.70,145.36V148.71M437.20,145.29V148.64M437.70,144.87V148.22M438.20,145.18V148.52M438.70,145.04V148.39M439.20,144.89V148.23M439.70,144.97V148.31M440.20,145.28V148.63M440.70,144.87V148.21M441.20,144.94V148.29M441.70,144.82V148.17M442.20,144.98V148.33M442.70,144.97V148.32M443.20,144.93V148.28M443.70,145.27V148.62M444.20,145.03V148.38M444.70,145.19V148.54M445.20,144.91V148.26M445.70,145.34V148.69M446.20,145.10V148.45M446.70,145.22V148.57M447.20,144.93V148.28M447.70,145.22V148.56M448.20,144.91V148.26M448.70,144.91V148.26M449.20,144.89V148.24M449.70,145.34V148.69M450.20,144.85V148.20M450.70,144.97V148.32M451.20,145.01V148.36M451.70,145.03V148.38M452.20,145.40V148.75M452.70,144.90V148.24M453.20,145.09V148.44M453.70,145.15V148.50M454.20,145.22V148.57M454.70,144.95V148.30M455.20,144.95V148.30M455.70,144.90V148.25M456.20,145.30V148.64M456.70,145.22V148.57M457.20,145.27V148.62M457.70,145.37V148.71M458.20,145.23V148.58M458.70,145.41V148.76M459.20,144.94V148.29M459.70,145.29V148.64M460.20,145.38V148.73M460.70,145.39V148.74M461.20,145.04V148.39M461.70,145.43V148.78M462.20,145.32V148.67M462.70,145.42V148.76M463.20,145.23V148.58M463.70,145.19V148.54M464.20,145.64V148.99M464.70,145.50V148.85M465.20,145.40V148.74M465.70,145.71V149.06M466.20,145.51V148.85M466.70,145.66V149.01M467.20,145.98V149.32M467.70,145.69V149.04M468.20,145.93V149.28M468.70,146.27V149.62M469.20,146.03V149.38M469.70,145.94V149.29M470.20,146.19V149.54M470.70,146.26V149.61M471.20,146.36V149.71M471.70,146.14V149.48M472.20,146.32V149.67M472.70,146.66V150.01M473.20,146.62V149.97M473.70,146.67V150.02M474.20,146.36V149.71M474.70,146.52V149.87M475.20,146.87V150.22M475.70,146.39V149.74M476.20,146.92V150.27M476.70,146.56V149.91M477.20,146.63V149.98M477.70,146.44V149.78M478.20,146.59V149.94M478.70,146.77V150.12M479.20,146.48V149.83M479.70,146.28V149.63M480.20,146.27V149.62M480.70,146.51V149.86M481.20,146.57V149.92M481.70,146.23V149.58M482.20,146.17V149.52M482.70,146.50V149.85M483.20,146.08V149.42M483.70,145.99V149.33M484.20,146.30V149.65M484.70,146.31V149.66M485.20,146.09V149.43M485.70,145.93V149.28M486.20,146.35V149.70M486.70,146.26V149.61M487.20,146.22V149.57M487.70,145.95V149.30M488.20,146.26V149.61M488.70,146.02V149.37M489.20,146.03V149.37M489.70,145.90V149.25M490.20,146.20V149.54M490.70,145.68V149.03M491.20,145.63V148.98M491.70,145.87V149.22M492.20,145.70V149.05M492.70,146.05V149.40M493.20,145.59V148.94M493.70,145.78V149.13M494.20,145.63V148.98M494.70,145.54V148.89M495.20,145.83V149.17M495.70,145.47V148.82M496.20,145.91V149.26M496.70,146.02V149.37M497.20,145.73V149.08M497.70,145.49V148.84M498.20,145.49V148.84M498.70,145.45V148.80M499.20,145.72V149.07M499.70,145.47V148.82M500.20,145.69V149.04M500.70,145.95V149.30M501.20,145.65V149.00M501.70,145.55V148.89M502.20,145.78V149.13M502.70,145.67V149.02" stroke="#0f70c8" stroke-width="0.75"/></g><path d="M398.7,119.4H514.8M398.7,195.5H514.8" stroke="#3a3a3a" stroke-width="1" fill="none"/><path d="M398.7,118.9V196.0" stroke="#1c8ad6" stroke-width="1.1" fill="none"/><path d="M514.8,118.9V196.0" stroke="#ff5520" stroke-width="1.1" fill="none"/><path d="M398.7,195.5v-1.5M398.7,119.4v1.5M418.0,195.5v-1.5M418.0,119.4v1.5M437.4,195.5v-1.5M437.4,119.4v1.5M456.8,195.5v-1.5M456.8,119.4v1.5M476.1,195.5v-1.5M476.1,119.4v1.5M495.4,195.5v-1.5M495.4,119.4v1.5M514.8,195.5v-1.5M514.8,119.4v1.5" stroke="#3a3a3a" stroke-width="0.8" fill="none"/><path d="M398.7,119.4h1.5M398.7,134.6h1.5M398.7,149.8h1.5M398.7,165.1h1.5M398.7,180.3h1.5M398.7,195.5h1.5" stroke="#1c8ad6" stroke-width="0.8" fill="none"/><path d="M514.8,119.4h-1.5M514.8,134.6h-1.5M514.8,149.8h-1.5M514.8,165.1h-1.5M514.8,180.3h-1.5M514.8,195.5h-1.5" stroke="#ff5520" stroke-width="0.8" fill="none"/><text x="398.7" y="203.4" font-size="6.8" fill="#222" stroke="#222" stroke-width="0.25" text-anchor="middle" font-weight="bold" >0</text><text x="418.0" y="203.4" font-size="6.8" fill="#222" stroke="#222" stroke-width="0.25" text-anchor="middle" font-weight="bold" >0.2</text><text x="437.4" y="203.4" font-size="6.8" fill="#222" stroke="#222" stroke-width="0.25" text-anchor="middle" font-weight="bold" >0.4</text><text x="456.8" y="203.4" font-size="6.8" fill="#222" stroke="#222" stroke-width="0.25" text-anchor="middle" font-weight="bold" >0.6</text><text x="476.1" y="203.4" font-size="6.8" fill="#222" stroke="#222" stroke-width="0.25" text-anchor="middle" font-weight="bold" >0.8</text><text x="495.4" y="203.4" font-size="6.8" fill="#222" stroke="#222" stroke-width="0.25" text-anchor="middle" font-weight="bold" >1</text><text x="514.8" y="203.4" font-size="6.8" fill="#222" stroke="#222" stroke-width="0.25" text-anchor="middle" font-weight="bold" >1.2</text><text x="396.2" y="121.9" font-size="7.1" fill="#1c8ad6" stroke="#1c8ad6" stroke-width="0.3" text-anchor="end" font-weight="bold" >50</text><text x="396.2" y="137.1" font-size="7.1" fill="#1c8ad6" stroke="#1c8ad6" stroke-width="0.3" text-anchor="end" font-weight="bold" >0</text><text x="396.2" y="152.3" font-size="7.1" fill="#1c8ad6" stroke="#1c8ad6" stroke-width="0.3" text-anchor="end" font-weight="bold" >&#8722;50</text><text x="396.2" y="167.6" font-size="7.1" fill="#1c8ad6" stroke="#1c8ad6" stroke-width="0.3" text-anchor="end" font-weight="bold" >&#8722;100</text><text x="396.2" y="182.8" font-size="7.1" fill="#1c8ad6" stroke="#1c8ad6" stroke-width="0.3" text-anchor="end" font-weight="bold" >&#8722;150</text><text x="396.2" y="198.0" font-size="7.1" fill="#1c8ad6" stroke="#1c8ad6" stroke-width="0.3" text-anchor="end" font-weight="bold" >&#8722;200</text><text x="517.3" y="121.9" font-size="7.1" fill="#ff5520" stroke="#ff5520" stroke-width="0.1" text-anchor="start" font-weight="bold" >3.6</text><text x="517.3" y="137.1" font-size="7.1" fill="#ff5520" stroke="#ff5520" stroke-width="0.1" text-anchor="start" font-weight="bold" >3.4</text><text x="517.3" y="152.3" font-size="7.1" fill="#ff5520" stroke="#ff5520" stroke-width="0.1" text-anchor="start" font-weight="bold" >3.2</text><text x="517.3" y="167.6" font-size="7.1" fill="#ff5520" stroke="#ff5520" stroke-width="0.1" text-anchor="start" font-weight="bold" >3</text><text x="517.3" y="182.8" font-size="7.1" fill="#ff5520" stroke="#ff5520" stroke-width="0.1" text-anchor="start" font-weight="bold" >2.8</text><text x="517.3" y="198.0" font-size="7.1" fill="#ff5520" stroke="#ff5520" stroke-width="0.1" text-anchor="start" font-weight="bold" >2.6</text><text x="456.8" y="215.5" font-size="10.7" fill="#111" stroke="#111" stroke-width="0.25" text-anchor="middle" font-weight="bold" >Time/s</text><text x="515.3" y="214.5" font-size="7.6" fill="#222" text-anchor="end" font-weight="normal">&#215;10<tspan dy="-3.2" font-size="5.4">4</tspan></text><text transform="translate(380.2,156.9) rotate(-90)" font-size="11" fill="#1c8ad6" stroke="#1c8ad6" stroke-width="0.3" text-anchor="middle" font-weight="bold">Current/A</text><text transform="translate(536.8,158.4) rotate(-90)" font-size="10.7" fill="#ff5520" stroke="#ff5520" stroke-width="0.3" text-anchor="middle" font-weight="bold">Voltage<tspan dy="5" dx="0.5" font-size="7.6">min</tspan><tspan dy="-5">/V</tspan></text><text x="371.0" y="122.0" font-size="10.5" fill="#111" stroke="#111" stroke-width="0.25" text-anchor="start" font-weight="bold" >(f)</text><linearGradient id="g11" gradientUnits="userSpaceOnUse" x1="0" y1="280.7" x2="0" y2="307.9"><stop offset="0" stop-color="#2f98e0" stop-opacity="0.95"/><stop offset="1" stop-color="#b0dcf6" stop-opacity="0.7"/></linearGradient><clipPath id="c7"><rect x="118.4" y="244.4" width="115.9" height="75.6"/></clipPath><g clip-path="url(#c7)" fill="none"><path d="M118.13,280.69L120.53,280.69L119.53,299.89L119.13,299.89ZM121.41,280.69L123.81,280.69L122.81,296.14L122.41,296.14ZM124.42,280.69L126.82,280.69L125.82,295.04L125.42,295.04ZM127.35,280.69L129.75,280.69L128.75,296.19L128.35,296.19ZM130.47,280.69L132.87,280.69L131.87,296.40L131.47,296.40ZM133.21,280.69L135.61,280.69L134.61,300.56L134.21,300.56ZM135.73,280.69L138.13,280.69L137.13,302.48L136.73,302.48ZM138.74,280.69L141.14,280.69L140.14,295.55L139.74,295.55ZM141.28,280.69L143.68,280.69L142.68,298.94L142.28,298.94ZM144.30,280.69L146.70,280.69L145.70,301.49L145.30,301.49ZM147.16,280.69L149.56,280.69L148.56,297.77L148.16,297.77ZM150.65,280.69L153.05,280.69L152.05,296.10L151.65,296.10ZM154.24,280.69L156.64,280.69L155.64,303.58L155.24,303.58ZM157.85,280.69L160.25,280.69L159.25,309.42L158.85,309.42ZM160.57,280.69L162.97,280.69L161.97,302.63L161.57,302.63ZM163.72,280.69L166.12,280.69L165.12,295.25L164.72,295.25ZM167.33,280.69L169.73,280.69L168.73,300.62L168.33,300.62ZM170.72,280.69L173.12,280.69L172.12,299.53L171.72,299.53ZM173.22,280.69L175.62,280.69L174.62,303.23L174.22,303.23ZM175.85,280.69L178.25,280.69L177.25,295.92L176.85,295.92ZM179.00,280.69L181.40,280.69L180.40,295.13L180.00,295.13ZM181.97,280.69L184.37,280.69L183.37,301.42L182.97,301.42ZM184.49,280.69L186.89,280.69L185.89,309.42L185.49,309.42ZM187.03,280.69L189.43,280.69L188.43,298.54L188.03,298.54ZM190.22,280.69L192.62,280.69L191.62,301.10L191.22,301.10ZM192.69,280.69L195.09,280.69L194.09,295.10L193.69,295.10ZM196.25,280.69L198.65,280.69L197.65,297.51L197.25,297.51ZM199.18,280.69L201.58,280.69L200.58,297.32L200.18,297.32ZM202.43,280.69L204.83,280.69L203.83,317.73L203.43,317.73ZM205.62,280.69L208.02,280.69L207.02,297.65L206.62,297.65ZM208.72,280.69L211.12,280.69L210.12,299.02L209.72,299.02ZM211.36,280.69L213.76,280.69L212.76,304.27L212.36,304.27ZM214.93,280.69L217.33,280.69L216.33,302.19L215.93,302.19Z" fill="url(#g11)"/><path d="M217.90,267.31V275.40M218.90,268.67V275.40M219.40,269.86V275.40M221.40,267.25V275.40" stroke="#4aa8e6" stroke-width="0.6" opacity="0.55"/><path d="M118.40,270.16V286.54M118.90,268.56V286.09M119.40,267.88V284.66M119.90,270.17V284.08M120.40,270.91V287.48M120.90,269.94V282.52M121.40,270.06V284.58M121.90,270.50V285.20M122.40,270.44V285.38M122.90,269.70V282.68M123.40,268.03V287.12M123.90,267.82V284.52M124.40,267.72V283.94M124.90,269.93V284.26M125.40,268.26V283.06M125.90,269.89V283.07M126.40,268.95V285.84M126.90,269.21V282.98M127.40,270.46V287.83M127.90,268.50V286.51M128.40,267.81V287.46M128.90,267.99V287.44M129.40,271.08V287.27M129.90,268.72V284.63M130.40,270.32V286.57M130.90,269.89V287.12M131.40,268.29V285.55M131.90,267.74V285.79M132.40,268.66V285.86M132.90,269.66V283.60M133.40,267.79V282.74M133.90,268.30V283.63M134.40,268.95V286.52M134.90,267.79V287.49M135.40,269.61V284.75M135.90,268.00V287.33M136.40,269.37V287.41M136.90,267.74V282.94M137.40,268.03V285.46M137.90,268.70V287.16M138.40,269.80V284.48M138.90,267.92V283.31M139.40,267.78V286.08M139.90,269.94V285.22M140.40,270.36V282.98M140.90,268.06V285.04M141.40,270.32V283.89M141.90,269.15V284.22M142.40,269.83V286.49M142.90,267.68V285.94M143.40,270.02V284.97M143.90,267.72V284.88M144.40,268.73V283.25M144.90,270.93V282.65M145.40,268.73V283.39M145.90,270.98V287.94M146.40,267.89V285.68M146.90,270.79V283.42M147.40,269.69V282.69M147.90,270.18V283.88M148.40,268.90V282.54M148.90,270.24V283.05M149.40,269.34V287.07M149.90,269.63V287.63M150.40,269.43V287.44M150.90,269.52V283.40M151.40,269.96V287.50M151.90,270.28V282.85M152.40,270.56V285.61M152.90,270.95V284.54M153.40,270.55V285.17M153.90,270.35V287.93M154.40,270.20V286.12M154.90,270.91V287.10M155.40,270.46V285.29M155.90,269.44V283.51M156.40,267.62V284.80M156.90,269.05V287.65M157.40,267.61V286.44M157.90,270.60V284.48M158.40,271.01V287.93M158.90,268.02V283.67M159.40,269.28V286.88M159.90,270.16V286.73M160.40,270.16V285.05M160.90,269.31V282.91M161.40,268.51V285.32M161.90,268.50V283.84M162.40,268.65V284.49M162.90,268.73V285.09M163.40,268.49V283.61M163.90,268.08V283.07M164.40,270.59V286.95M164.90,269.61V283.10M165.40,269.72V285.55M165.90,269.81V287.89M166.40,268.72V287.83M166.90,268.06V286.86M167.40,269.08V284.76M167.90,268.82V286.17M168.40,270.39V287.28M168.90,267.89V285.97M169.40,268.05V286.64M169.90,271.02V285.89M170.40,268.35V286.48M170.90,269.78V287.65M171.40,268.11V283.71M171.90,270.78V283.59M172.40,267.56V285.55M172.90,271.15V286.79M173.40,269.59V285.94M173.90,269.29V284.12M174.40,269.37V285.17M174.90,267.98V286.81M175.40,269.12V284.60M175.90,269.82V282.75M176.40,269.97V285.05M176.90,269.65V286.10M177.40,270.57V285.76M177.90,269.69V285.52M178.40,268.14V285.46M178.90,270.37V287.79M179.40,269.36V284.27M179.90,268.82V287.00M180.40,270.67V284.44M180.90,270.02V285.17M181.40,268.92V285.31M181.90,269.18V284.25M182.40,270.36V284.83M182.90,268.43V284.86M183.40,268.18V282.67M183.90,271.04V284.62M184.40,270.19V283.98M184.90,269.27V283.44M185.40,268.15V285.55M185.90,270.43V283.25M186.40,269.94V287.80M186.90,270.72V284.55M187.40,267.82V286.43M187.90,269.57V282.56M188.40,268.22V282.90M188.90,267.81V287.45M189.40,270.64V283.25M189.90,269.51V283.67M190.40,268.46V286.42M190.90,269.73V284.16M191.40,269.83V282.75M191.90,268.43V287.80M192.40,270.40V286.00M192.90,269.69V284.36M193.40,269.45V282.95M193.90,268.54V286.87M194.40,270.16V287.43M194.90,269.06V285.89M195.40,268.26V287.94M195.90,268.98V284.94M196.40,270.10V283.71M196.90,268.20V284.25M197.40,270.48V282.76M197.90,270.62V285.17M198.40,270.62V285.83M198.90,269.44V286.91M199.40,268.13V285.20M199.90,271.02V286.86M200.40,270.37V285.02M200.90,270.33V283.99M201.40,269.42V285.92M201.90,270.61V284.18M202.40,268.12V287.40M202.90,270.86V286.59M203.40,270.25V285.28M203.90,268.30V285.92M204.40,271.13V286.73M204.90,268.33V284.15M205.40,268.42V287.75M205.90,270.03V285.81M206.40,269.56V285.16M206.90,269.44V283.42M207.40,269.68V283.09M207.90,269.08V285.43M208.40,270.87V283.24M208.90,271.11V282.62M209.40,269.46V283.36M209.90,268.52V284.07M210.40,268.78V284.37M210.90,269.00V286.18M211.40,270.12V284.30M211.90,268.23V284.97M212.40,267.76V287.57M212.90,270.51V285.94M213.40,270.72V285.69M213.90,269.77V282.68M214.40,269.99V282.67M214.90,268.42V285.81M215.40,269.53V287.72M215.90,268.39V285.55M216.40,269.62V285.12M216.90,269.13V286.65" stroke="#2e9de6" stroke-width="0.75"/><path d="M118.40,272.79V280.93M118.90,273.62V279.94M119.40,272.57V281.59M119.90,271.54V279.66M120.40,272.29V279.79M120.90,273.60V279.88M121.40,273.68V281.71M121.90,273.01V280.75M122.40,273.90V280.41M122.90,273.05V281.13M123.40,274.32V280.47M123.90,273.03V280.99M124.40,273.23V281.76M124.90,272.68V279.34M125.40,273.36V282.12M125.90,271.53V280.59M126.40,273.55V279.82M126.90,273.33V281.37M127.40,271.90V282.02M127.90,271.58V280.02M128.40,273.75V280.89M128.90,272.53V279.92M129.40,272.43V280.06M129.90,273.25V279.27M130.40,271.33V279.25M130.90,274.16V279.97M131.40,272.97V280.46M131.90,271.57V279.60M132.40,271.91V282.19M132.90,272.61V280.18M133.40,273.38V280.34M133.90,271.34V279.72M134.40,271.74V281.72M134.90,273.89V279.91M135.40,274.07V279.38M135.90,272.14V280.86M136.40,273.69V280.02M136.90,273.05V279.18M137.40,271.46V280.99M137.90,271.35V282.04M138.40,271.87V281.45M138.90,272.93V282.10M139.40,273.92V281.64M139.90,271.53V281.70M140.40,272.48V279.46M140.90,274.04V280.86M141.40,271.85V280.80M141.90,273.83V280.97M142.40,272.03V280.52M142.90,273.91V279.23M143.40,273.72V282.11M143.90,273.24V280.13M144.40,272.51V281.11M144.90,272.66V282.17M145.40,271.54V280.13M145.90,271.41V280.91M146.40,271.84V280.42M146.90,273.53V279.38M147.40,274.13V280.09M147.90,273.24V281.75M148.40,273.85V280.22M148.90,273.86V281.77M149.40,272.64V280.46M149.90,272.05V281.48M150.40,273.32V281.03M150.90,271.54V280.68M151.40,272.38V281.93M151.90,273.41V281.73M152.40,273.97V282.06M152.90,273.32V280.67M153.40,273.03V280.18M153.90,273.74V281.00M154.40,273.66V280.17M154.90,271.34V280.56M155.40,272.84V280.17M155.90,272.87V281.77M156.40,272.17V282.06M156.90,273.29V280.01M157.40,274.33V280.88M157.90,272.17V279.56M158.40,271.69V281.13M158.90,271.41V280.42M159.40,273.32V280.74M159.90,272.81V280.68M160.40,272.21V279.87M160.90,273.46V281.07M161.40,272.97V281.56M161.90,273.63V281.57M162.40,274.15V281.38M162.90,271.91V279.28M163.40,273.22V280.73M163.90,273.01V279.58M164.40,271.55V281.35M164.90,272.00V281.62M165.40,273.57V280.40M165.90,273.33V279.90M166.40,273.45V280.35M166.90,273.63V279.45M167.40,274.23V281.23M167.90,272.80V280.38M168.40,273.08V281.26M168.90,271.35V281.85M169.40,272.56V281.46M169.90,271.89V279.79M170.40,271.35V280.75M170.90,272.45V281.51M171.40,273.17V280.54M171.90,272.06V281.41M172.40,272.94V281.92M172.90,274.06V281.92M173.40,273.46V280.66M173.90,273.83V279.23M174.40,271.73V281.08M174.90,273.32V281.12M175.40,274.08V281.34M175.90,272.35V281.85M176.40,271.78V281.21M176.90,273.25V279.31M177.40,272.33V280.20M177.90,271.95V281.50M178.40,272.12V281.07M178.90,272.27V279.30M179.40,273.74V280.77M179.90,273.56V280.10M180.40,273.82V280.35M180.90,273.93V280.53M181.40,273.40V281.79M181.90,271.98V280.34M182.40,271.83V280.86M182.90,272.98V281.10M183.40,274.02V280.23M183.90,271.40V279.38M184.40,273.80V279.64M184.90,271.65V282.15M185.40,272.73V280.12M185.90,273.31V279.48M186.40,274.12V282.00M186.90,273.45V281.72M187.40,271.71V279.46M187.90,273.49V279.79M188.40,273.65V279.99M188.90,272.49V280.53M189.40,272.93V280.09M189.90,271.45V281.61M190.40,273.59V279.69M190.90,273.68V281.52M191.40,272.82V280.66M191.90,271.69V279.95M192.40,272.12V281.15M192.90,273.87V280.61M193.40,271.96V280.67M193.90,271.88V281.13M194.40,272.88V280.28M194.90,273.01V281.54M195.40,271.83V281.43M195.90,273.96V280.31M196.40,271.96V279.59M196.90,272.30V280.88M197.40,273.09V281.90M197.90,271.72V281.53M198.40,272.59V281.65M198.90,273.01V280.57M199.40,271.53V282.15M199.90,272.61V279.88M200.40,273.41V279.84M200.90,272.38V280.47M201.40,272.39V282.00M201.90,272.12V280.53M202.40,274.18V279.57M202.90,274.08V281.44M203.40,272.94V281.29M203.90,273.99V280.01M204.40,274.01V281.20M204.90,273.71V279.19M205.40,271.52V280.95M205.90,271.47V281.98M206.40,272.01V280.88M206.90,273.11V281.66M207.40,272.65V280.20M207.90,272.65V281.46M208.40,271.67V281.08M208.90,272.43V280.30M209.40,273.43V281.80M209.90,272.39V281.58M210.40,273.00V282.13M210.90,273.95V281.18M211.40,273.41V279.81M211.90,272.13V281.85M212.40,272.15V282.12M212.90,272.82V281.01M213.40,273.43V280.62M213.90,273.65V280.88M214.40,271.82V280.25M214.90,274.01V281.36M215.40,273.72V279.56M215.90,273.88V281.36M216.40,271.62V279.36M216.90,274.24V280.94" stroke="#1f7fca" stroke-width="0.75"/><path d="M217.40,274.89V279.24M217.90,275.14V279.07M218.40,275.64V279.65M218.90,275.55V279.76M219.40,275.82V279.76M219.90,275.77V279.67M220.40,275.01V279.62M220.90,275.71V279.48M221.40,275.10V279.72M221.90,275.28V279.29M222.40,275.92V279.66" stroke="#0f70c8" stroke-width="0.75"/><path d="M118.40,263.09V269.88M118.90,261.04V265.13M119.40,259.33V260.48M119.90,257.53V258.18M120.40,256.57V256.85M120.90,258.29V258.64M121.40,259.77V261.06M121.90,260.39V261.58M122.40,262.47V266.16M122.90,261.33V266.30M123.40,260.13V263.09M123.90,259.28V260.06M124.40,257.28V257.35M124.90,256.80V257.68M125.40,258.17V258.82M125.90,259.63V261.31M126.40,261.06V264.23M126.90,262.68V267.29M127.40,261.97V266.84M127.90,260.08V261.12M128.40,258.08V259.08M128.90,258.32V259.42M129.40,257.81V258.60M129.90,258.87V259.76M130.40,260.79V263.34M130.90,260.82V265.49M131.40,261.80V267.50M131.90,261.74V265.57M132.40,259.69V262.26M132.90,257.92V258.54M133.40,256.05V256.96M133.90,257.78V258.16M134.40,259.76V259.81M134.90,260.35V261.85M135.40,262.54V267.50M135.90,261.10V265.18M136.40,261.00V263.69M136.90,258.53V258.94M137.40,258.22V258.59M137.90,255.93V256.78M138.40,258.41V259.78M138.90,259.25V260.20M139.40,261.81V265.64M139.90,261.40V267.34M140.40,260.60V263.88M140.90,259.34V260.73M141.40,257.74V259.13M141.90,257.08V257.15M142.40,257.30V258.07M142.90,257.85V258.87M143.40,260.71V262.43M143.90,261.07V264.87M144.40,260.83V266.41M144.90,260.77V264.47M145.40,259.15V259.95M145.90,257.97V259.42M146.40,256.69V257.42M146.90,257.93V258.61M147.40,258.34V260.38M147.90,259.64V261.17M148.40,261.67V266.75M148.90,261.28V264.71M149.40,260.24V263.52M149.90,258.32V259.76M150.40,257.87V258.12M150.90,257.52V258.53M151.40,258.99V259.50M151.90,258.98V260.17M152.40,260.76V264.92M152.90,261.60V266.73M153.40,261.99V264.39M153.90,259.45V259.93M154.40,258.08V258.75M154.90,257.63V257.65M155.40,257.19V258.02M155.90,258.68V259.11M156.40,261.25V263.89M156.90,261.82V265.53M157.40,261.24V265.09M157.90,260.90V263.11M158.40,259.80V259.99M158.90,256.90V257.01M159.40,255.92V256.12M159.90,257.81V258.88M160.40,259.56V261.45M160.90,260.35V262.52M161.40,262.36V267.76M161.90,260.99V264.41M162.40,261.24V262.16M162.90,259.24V260.85M163.40,256.88V257.27M163.90,256.49V257.50M164.40,258.98V259.13M164.90,260.94V261.87M165.40,261.50V265.42M165.90,261.73V267.72M166.40,266.16V269.94M166.90,257.96V261.74M167.40,257.33V261.11M167.90,256.96V260.74M168.40,256.88V260.66M168.90,257.01V260.79M169.40,257.40V261.18M169.90,258.08V261.86M170.40,259.07V262.85M170.90,260.39V264.17M171.40,262.06V265.84M171.90,264.09V267.87M172.40,266.48V270.26M172.90,269.26V273.04M173.40,271.55V275.33M173.90,260.09V263.87M174.40,257.53V261.31M174.90,257.07V260.85M175.40,256.88V260.66M175.90,256.93V260.71M176.40,257.22V261.00M176.90,257.79V261.57M177.40,258.67V262.45M177.90,259.86V263.64M178.40,261.40V265.18M178.90,263.29V267.07M179.40,265.55V269.33M179.90,268.18V271.96M180.40,271.20V274.98M180.90,263.44V267.22M181.40,257.77V261.55M181.90,257.21V260.99M182.40,256.92V260.70M182.90,256.89V260.67M183.40,257.09V260.87M183.90,257.55V261.33M184.40,258.30V262.08M184.90,259.38V263.16M185.40,260.79V264.57M185.90,262.55V266.33M186.40,264.67V268.45M186.90,267.16V270.94M187.40,270.03V273.81M187.90,267.56V271.34M188.40,258.04V261.82M188.90,257.38V261.16M189.40,256.99V260.77M189.90,256.87V260.65M190.40,256.98V260.76M190.90,257.34V261.12M191.40,257.99V261.77M191.90,258.94V262.72M192.40,260.23V264.01M192.90,261.85V265.63M193.40,263.84V267.62M193.90,266.19V269.97M194.40,268.92V272.70M194.90,274.75V278.53M195.40,261.07V264.85M195.90,257.60V261.38M196.40,257.11V260.89M196.90,256.89V260.67M197.40,256.92V260.70M197.90,257.18V260.96M198.40,257.71V261.49M198.90,258.55V262.33M199.40,259.71V263.49M199.90,261.21V264.99M200.40,263.06V266.84M200.90,265.27V269.05M201.40,267.86V271.64M201.90,270.83V274.61M202.40,264.60V268.38M202.90,257.85V261.63M203.40,257.26V261.04M203.90,256.94V260.72M204.40,256.88V260.66M204.90,257.05V260.83M205.40,257.48V261.26M205.90,258.20V261.98M206.40,259.24V263.02M206.90,260.61V264.39M207.40,262.33V266.11M207.90,264.41V268.19M208.40,266.85V270.63M208.90,269.68V273.46M209.40,269.14V272.92M209.90,258.94V262.72M210.40,257.45V261.23M210.90,257.02V260.80M211.40,256.87V260.65M211.90,256.96V260.74M212.40,257.29V261.07M212.90,257.90V261.68M213.40,258.82V262.60M213.90,260.06V263.84M214.40,261.65V265.43M214.90,263.59V267.37M215.40,265.90V269.68M215.90,268.59V272.37M216.40,271.66V275.44M216.90,262.10V265.88" stroke="#ff4a0a" stroke-width="0.55" opacity="0.4"/><path d="M118.40,252.03V263.09M118.90,253.06V261.04M119.40,252.55V259.33M119.90,254.61V257.53M120.40,254.96V256.85M120.90,254.65V258.29M121.40,254.40V259.77M121.90,251.88V260.39M122.40,253.20V262.47M122.90,252.67V261.33M123.40,252.09V260.13M123.90,253.89V259.28M124.40,253.18V257.28M124.90,254.67V256.80M125.40,253.99V258.17M125.90,253.12V259.63M126.40,253.23V261.06M126.90,251.70V262.68M127.40,253.51V261.97M127.90,252.25V260.08M128.40,253.24V258.08M128.90,253.27V258.32M129.40,255.31V257.81M129.90,252.84V258.87M130.40,252.95V260.79M130.90,252.84V260.82M131.40,251.68V261.80M131.90,252.95V261.74M132.40,252.99V259.69M132.90,253.66V258.54M133.40,255.01V256.96M133.90,253.98V258.16M134.40,253.93V259.76M134.90,252.81V260.35M135.40,252.26V262.54M135.90,253.47V261.10M136.40,253.12V261.00M136.90,253.85V258.53M137.40,254.62V258.59M137.90,254.80V255.93M138.40,255.45V258.41M138.90,253.95V259.25M139.40,252.66V261.81M139.90,252.93V261.40M140.40,252.23V260.60M140.90,252.90V259.34M141.40,253.34V257.74M141.90,255.76V257.08M142.40,254.67V258.07M142.90,254.18V257.85M143.40,254.72V260.71M143.90,252.34V261.07M144.40,253.58V260.83M144.90,254.34V260.77M145.40,253.10V259.15M145.90,255.19V257.97M146.40,256.41V256.69M146.90,253.99V257.93M147.40,253.60V258.34M147.90,253.48V259.64M148.40,252.82V261.67M148.90,254.30V261.28M149.40,254.25V260.24M149.90,255.18V258.32M150.40,254.54V258.12M150.90,255.11V257.52M151.40,255.01V258.99M151.90,254.73V258.98M152.40,253.04V260.76M152.90,254.24V261.60M153.40,253.51V261.99M153.90,255.36V259.45M154.40,255.20V258.08M154.90,254.56V257.63M155.40,254.62V258.02M155.90,255.66V258.68M156.40,253.63V261.25M156.90,253.36V261.82M157.40,254.64V261.24M157.90,255.13V260.90M158.40,253.68V259.80M158.90,255.02V256.90M159.40,256.09V256.12M159.90,255.49V257.81M160.40,254.16V259.56M160.90,254.51V260.35M161.40,254.10V262.36M161.90,253.44V260.99M162.40,254.95V261.24M162.90,255.79V259.24M163.40,256.25V257.27M163.90,255.97V257.50M164.40,254.48V259.13M164.90,255.06V260.94M165.40,255.36V261.50M165.90,253.51V261.73M166.40,263.52V266.16M166.90,255.31V257.96M167.40,254.68V257.33M167.90,254.32V256.96M168.40,254.23V256.88M168.90,254.37V257.01M169.40,254.75V257.40M169.90,255.43V258.08M170.40,256.43V259.07M170.90,257.75V260.39M171.40,259.42V262.06M171.90,261.44V264.09M172.40,263.84V266.48M172.90,266.61V269.26M173.40,268.90V271.55M173.90,257.45V260.09M174.40,254.88V257.53M174.90,254.42V257.07M175.40,254.23V256.88M175.90,254.29V256.93M176.40,254.58V257.22M176.90,255.15V257.79M177.40,256.02V258.67M177.90,257.22V259.86M178.40,258.76V261.40M178.90,260.65V263.29M179.40,262.90V265.55M179.90,265.54V268.18M180.40,268.55V271.20M180.90,260.80V263.44M181.40,255.12V257.77M181.90,254.56V257.21M182.40,254.27V256.92M182.90,254.24V256.89M183.40,254.44V257.09M183.90,254.90V257.55M184.40,255.66V258.30M184.90,256.73V259.38M185.40,258.14V260.79M185.90,259.90V262.55M186.40,262.02V264.67M186.90,264.51V267.16M187.40,267.38V270.03M187.90,264.91V267.56M188.40,255.39V258.04M188.90,254.74V257.38M189.40,254.35V256.99M189.90,254.23V256.87M190.40,254.34V256.98M190.90,254.70V257.34M191.40,255.34V257.99M191.90,256.30V258.94M192.40,257.58V260.23M192.90,259.21V261.85M193.40,261.19V263.84M193.90,263.54V266.19M194.40,266.27V268.92M194.90,272.10V274.75M195.40,258.43V261.07M195.90,254.95V257.60M196.40,254.46V257.11M196.90,254.24V256.89M197.40,254.27V256.92M197.90,254.53V257.18M198.40,255.07V257.71M198.90,255.90V258.55M199.40,257.06V259.71M199.90,258.56V261.21M200.40,260.41V263.06M200.90,262.63V265.27M201.40,265.21V267.86M201.90,268.18V270.83M202.40,261.96V264.60M202.90,255.21V257.85M203.40,254.61V257.26M203.90,254.29V256.94M204.40,254.24V256.88M204.90,254.40V257.05M205.40,254.83V257.48M205.90,255.56V258.20M206.40,256.59V259.24M206.90,257.96V260.61M207.40,259.68V262.33M207.90,261.76V264.41M208.40,264.21V266.85M208.90,267.04V269.68M209.40,266.49V269.14M209.90,256.29V258.94M210.40,254.80V257.45M210.90,254.38V257.02M211.40,254.23V256.87M211.90,254.31V256.96M212.40,254.64V257.29M212.90,255.25V257.90M213.40,256.17V258.82M213.90,257.41V260.06M214.40,259.00V261.65M214.90,260.95V263.59M215.40,263.25V265.90M215.90,265.94V268.59M216.40,269.01V271.66M216.90,259.45V262.10" stroke="#ff4a0a" stroke-width="0.75"/><path d="M216.68,268.97L216.92,268.97L217.15,268.97L217.38,269.56L217.61,270.32L217.84,271.17L218.07,272.08L218.31,273.04L218.54,274.03L218.77,275.06L219.00,276.12L219.23,277.20L219.46,278.31L219.70,279.44L219.93,280.59L220.16,281.77L220.39,282.96L220.62,284.16L220.86,285.39L221.09,286.62L221.32,287.88L221.55,289.15L221.78,290.43L222.01,291.72L222.25,293.03L222.48,294.34L222.71,295.67L222.94,297.01L223.17,298.37L223.41,299.73L223.64,301.10" stroke="#ff5a20" stroke-width="0.8" opacity="0.8"/></g><path d="M118.4,244.4H234.3M118.4,320.0H234.3" stroke="#3a3a3a" stroke-width="1" fill="none"/><path d="M118.4,243.9V320.5" stroke="#1c8ad6" stroke-width="1.1" fill="none"/><path d="M234.3,243.9V320.5" stroke="#ff5520" stroke-width="1.1" fill="none"/><path d="M118.4,320.0v-1.5M118.4,244.4v1.5M141.6,320.0v-1.5M141.6,244.4v1.5M164.8,320.0v-1.5M164.8,244.4v1.5M187.9,320.0v-1.5M187.9,244.4v1.5M211.1,320.0v-1.5M211.1,244.4v1.5M234.3,320.0v-1.5M234.3,244.4v1.5" stroke="#3a3a3a" stroke-width="0.8" fill="none"/><path d="M118.4,244.4h1.5M118.4,259.5h1.5M118.4,274.6h1.5M118.4,289.8h1.5M118.4,304.9h1.5M118.4,320.0h1.5" stroke="#1c8ad6" stroke-width="0.8" fill="none"/><path d="M234.3,244.4h-1.5M234.3,263.3h-1.5M234.3,282.2h-1.5M234.3,301.1h-1.5M234.3,320.0h-1.5" stroke="#ff5520" stroke-width="0.8" fill="none"/><text x="118.4" y="327.9" font-size="6.8" fill="#222" stroke="#222" stroke-width="0.25" text-anchor="middle" font-weight="bold" >0</text><text x="141.6" y="327.9" font-size="6.8" fill="#222" stroke="#222" stroke-width="0.25" text-anchor="middle" font-weight="bold" >0.5</text><text x="164.8" y="327.9" font-size="6.8" fill="#222" stroke="#222" stroke-width="0.25" text-anchor="middle" font-weight="bold" >1</text><text x="187.9" y="327.9" font-size="6.8" fill="#222" stroke="#222" stroke-width="0.25" text-anchor="middle" font-weight="bold" >1.5</text><text x="211.1" y="327.9" font-size="6.8" fill="#222" stroke="#222" stroke-width="0.25" text-anchor="middle" font-weight="bold" >2</text><text x="234.3" y="327.9" font-size="6.8" fill="#222" stroke="#222" stroke-width="0.25" text-anchor="middle" font-weight="bold" >2.5</text><text x="115.9" y="246.9" font-size="7.1" fill="#1c8ad6" stroke="#1c8ad6" stroke-width="0.3" text-anchor="end" font-weight="bold" >200</text><text x="115.9" y="262.0" font-size="7.1" fill="#1c8ad6" stroke="#1c8ad6" stroke-width="0.3" text-anchor="end" font-weight="bold" >100</text><text x="115.9" y="277.1" font-size="7.1" fill="#1c8ad6" stroke="#1c8ad6" stroke-width="0.3" text-anchor="end" font-weight="bold" >0</text><text x="115.9" y="292.3" font-size="7.1" fill="#1c8ad6" stroke="#1c8ad6" stroke-width="0.3" text-anchor="end" font-weight="bold" >&#8722;100</text><text x="115.9" y="307.4" font-size="7.1" fill="#1c8ad6" stroke="#1c8ad6" stroke-width="0.3" text-anchor="end" font-weight="bold" >&#8722;200</text><text x="115.9" y="322.5" font-size="7.1" fill="#1c8ad6" stroke="#1c8ad6" stroke-width="0.3" text-anchor="end" font-weight="bold" >&#8722;300</text><text x="236.8" y="246.9" font-size="7.1" fill="#ff5520" stroke="#ff5520" stroke-width="0.1" text-anchor="start" font-weight="bold" >3.5</text><text x="236.8" y="265.8" font-size="7.1" fill="#ff5520" stroke="#ff5520" stroke-width="0.1" text-anchor="start" font-weight="bold" >3</text><text x="236.8" y="284.7" font-size="7.1" fill="#ff5520" stroke="#ff5520" stroke-width="0.1" text-anchor="start" font-weight="bold" >2.5</text><text x="236.8" y="303.6" font-size="7.1" fill="#ff5520" stroke="#ff5520" stroke-width="0.1" text-anchor="start" font-weight="bold" >2</text><text x="236.8" y="322.5" font-size="7.1" fill="#ff5520" stroke="#ff5520" stroke-width="0.1" text-anchor="start" font-weight="bold" >1.5</text><text x="176.4" y="340.0" font-size="10.7" fill="#111" stroke="#111" stroke-width="0.25" text-anchor="middle" font-weight="bold" >Time/s</text><text x="234.8" y="339.0" font-size="7.6" fill="#222" text-anchor="end" font-weight="normal">&#215;10<tspan dy="-3.2" font-size="5.4">4</tspan></text><text transform="translate(99.9,281.7) rotate(-90)" font-size="11" fill="#1c8ad6" stroke="#1c8ad6" stroke-width="0.3" text-anchor="middle" font-weight="bold">Current/A</text><text transform="translate(256.3,283.2) rotate(-90)" font-size="10.7" fill="#ff5520" stroke="#ff5520" stroke-width="0.3" text-anchor="middle" font-weight="bold">Voltage<tspan dy="5" dx="0.5" font-size="7.6">min</tspan><tspan dy="-5">/V</tspan></text><text x="78.6" y="244.8" font-size="10.5" fill="#111" stroke="#111" stroke-width="0.25" text-anchor="start" font-weight="bold" >(g)</text><linearGradient id="g12" gradientUnits="userSpaceOnUse" x1="0" y1="287.3" x2="0" y2="308.2"><stop offset="0" stop-color="#2f98e0" stop-opacity="0.95"/><stop offset="1" stop-color="#b0dcf6" stop-opacity="0.7"/></linearGradient><linearGradient id="g13" gradientUnits="userSpaceOnUse" x1="0" y1="268.2" x2="0" y2="259.5"><stop offset="0" stop-color="#6ab8ea" stop-opacity="0.8"/><stop offset="1" stop-color="#c5e5f8" stop-opacity="0.6"/></linearGradient><clipPath id="c8"><rect x="330.8" y="244.1" width="117.7" height="77.1"/></clipPath><g clip-path="url(#c8)" fill="none"><path d="M330.43,287.28L332.03,287.28L331.48,307.67L330.98,307.67ZM334.46,287.28L336.06,287.28L335.51,307.79L335.01,307.79ZM338.61,287.28L340.21,287.28L339.66,308.43L339.16,308.43ZM342.68,287.28L344.28,287.28L343.73,308.50L343.23,308.50ZM346.49,287.28L348.09,287.28L347.54,308.61L347.04,308.61ZM350.62,287.28L352.22,287.28L351.67,309.10L351.17,309.10ZM354.65,287.28L356.25,287.28L355.70,308.17L355.20,308.17ZM358.55,287.28L360.15,287.28L359.60,307.47L359.10,307.47ZM362.75,287.28L364.35,287.28L363.80,307.99L363.30,307.99ZM366.64,287.28L368.24,287.28L367.69,309.08L367.19,309.08ZM370.82,287.28L372.42,287.28L371.87,308.89L371.37,308.89ZM374.84,287.28L376.44,287.28L375.89,308.20L375.39,308.20ZM378.93,287.28L380.53,287.28L379.98,308.29L379.48,308.29ZM382.89,287.28L384.49,287.28L383.94,307.91L383.44,307.91ZM386.96,287.28L388.56,287.28L388.01,307.70L387.51,307.70ZM390.96,287.28L392.56,287.28L392.01,308.34L391.51,308.34ZM395.01,287.28L396.61,287.28L396.06,307.40L395.56,307.40ZM398.81,287.28L400.41,287.28L399.86,308.27L399.36,308.27ZM402.91,287.28L404.51,287.28L403.96,307.85L403.46,307.85ZM406.86,287.28L408.46,287.28L407.91,307.97L407.41,307.97ZM410.93,287.28L412.53,287.28L411.98,308.12L411.48,308.12ZM415.12,287.28L416.72,287.28L416.17,309.03L415.67,309.03ZM419.08,287.28L420.68,287.28L420.13,308.35L419.63,308.35ZM423.14,287.28L424.74,287.28L424.19,307.37L423.69,307.37ZM427.05,287.28L428.65,287.28L428.10,309.03L427.60,309.03ZM431.23,287.28L432.83,287.28L432.28,308.39L431.78,308.39Z" fill="url(#g12)"/><path d="M330.79,268.16L331.79,268.16L331.49,259.82L331.09,259.82ZM334.87,268.16L335.87,268.16L335.57,258.81L335.17,258.81ZM338.85,268.16L339.85,268.16L339.55,258.85L339.15,258.85ZM342.95,268.16L343.95,268.16L343.65,259.94L343.25,259.94ZM347.03,268.16L348.03,268.16L347.73,260.29L347.33,260.29ZM350.93,268.16L351.93,268.16L351.63,258.95L351.23,258.95ZM354.81,268.16L355.81,268.16L355.51,259.69L355.11,259.69ZM359.01,268.16L360.01,268.16L359.71,260.25L359.31,260.25ZM363.12,268.16L364.12,268.16L363.82,258.95L363.42,258.95ZM367.10,268.16L368.10,268.16L367.80,260.43L367.40,260.43ZM370.94,268.16L371.94,268.16L371.64,259.46L371.24,259.46ZM375.03,268.16L376.03,268.16L375.73,258.78L375.33,258.78ZM379.18,268.16L380.18,268.16L379.88,259.93L379.48,259.93ZM383.11,268.16L384.11,268.16L383.81,259.88L383.41,259.88ZM387.20,268.16L388.20,268.16L387.90,259.77L387.50,259.77ZM391.18,268.16L392.18,268.16L391.88,259.40L391.48,259.40ZM395.26,268.16L396.26,268.16L395.96,260.43L395.56,260.43ZM399.17,268.16L400.17,268.16L399.87,258.87L399.47,258.87ZM403.39,268.16L404.39,268.16L404.09,258.92L403.69,258.92ZM407.14,268.16L408.14,268.16L407.84,260.36L407.44,260.36ZM411.28,268.16L412.28,268.16L411.98,259.85L411.58,259.85ZM415.34,268.16L416.34,268.16L416.04,258.76L415.64,258.76ZM419.30,268.16L420.30,268.16L420.00,259.87L419.60,259.87ZM423.47,268.16L424.47,268.16L424.17,258.68L423.77,258.68ZM427.29,268.16L428.29,268.16L427.99,260.22L427.59,260.22ZM431.56,268.16L432.56,268.16L432.26,258.62L431.86,258.62Z" fill="url(#g13)"/><path d="M330.80,268.16V288.82M331.30,268.16V288.82M331.80,268.16V288.82M335.30,268.16V288.82M335.80,268.16V288.82M339.30,268.16V288.82M339.80,268.16V288.82M343.30,268.16V288.82M343.80,268.16V288.82M347.30,268.16V288.82M347.80,268.16V288.82M348.30,268.16V288.82M351.30,268.16V288.82M351.80,268.16V288.82M352.30,268.16V288.82M355.30,268.16V288.82M355.80,268.16V288.82M356.30,268.16V288.82M359.30,268.16V288.82M359.80,268.16V288.82M360.30,268.16V288.82M363.30,268.16V288.82M363.80,268.16V288.82M364.30,268.16V288.82M367.30,268.16V288.82M367.80,268.16V288.82M368.30,268.16V288.82M371.30,268.16V288.82M371.80,268.16V288.82M372.30,268.16V288.82M375.30,268.16V288.82M375.80,268.16V288.82M376.30,268.16V288.82M379.30,268.16V288.82M379.80,268.16V288.82M380.30,268.16V288.82M383.30,268.16V288.82M383.80,268.16V288.82M384.30,268.16V288.82M387.30,268.16V288.82M387.80,268.16V288.82M388.30,268.16V288.82M391.30,268.16V288.82M391.80,268.16V288.82M392.30,268.16V288.82M395.30,268.16V288.82M395.80,268.16V288.82M396.30,268.16V288.82M399.30,268.16V288.82M399.80,268.16V288.82M400.30,268.16V288.82M403.30,268.16V288.82M403.80,268.16V288.82M404.30,268.16V288.82M407.30,268.16V288.82M407.80,268.16V288.82M408.30,268.16V288.82M411.80,268.16V288.82M412.30,268.16V288.82M415.80,268.16V288.82M416.30,268.16V288.82M419.80,268.16V288.82M420.30,268.16V288.82M423.80,268.16V288.82M424.30,268.16V288.82M427.80,268.16V288.82M428.30,268.16V288.82M428.80,268.16V288.82M431.80,268.16V288.82M432.30,268.16V288.82M432.80,268.16V288.82" stroke="#4cb2ee" stroke-width="0.75"/><path d="M332.30,266.91V271.30M332.30,286.04V289.10M332.80,267.97V270.54M332.80,286.04V288.77M333.30,266.90V270.60M333.30,286.04V288.40M333.80,268.27V271.54M333.80,286.04V287.94M334.30,267.90V270.59M334.30,286.04V288.20M334.80,266.87V272.14M334.80,286.04V286.42M336.30,268.28V272.12M336.30,286.04V289.56M336.80,267.77V270.37M336.80,286.04V289.16M337.30,266.97V270.85M337.30,286.04V287.21M337.80,267.72V271.67M337.80,286.04V287.30M338.30,266.76V271.06M338.30,286.04V287.62M338.80,267.85V271.98M338.80,286.04V287.01M340.30,267.64V270.73M340.30,286.04V289.97M340.80,268.00V270.67M340.80,286.04V289.20M341.30,266.71V271.55M341.30,286.04V287.27M341.80,268.14V270.37M341.80,286.04V288.34M342.30,267.70V270.40M342.30,286.04V287.14M342.80,267.73V271.25M342.80,286.04V287.60M344.30,267.84V271.79M344.30,286.04V290.53M344.80,266.68V270.87M344.80,286.04V288.41M345.30,267.32V271.68M345.30,286.04V288.07M345.80,267.11V271.98M345.80,286.04V288.17M346.30,267.06V270.34M346.30,286.04V287.00M346.80,266.81V270.64M346.80,286.04V287.50M348.80,267.85V271.02M348.80,286.04V288.48M349.30,268.41V270.33M349.30,286.04V287.45M349.80,267.29V271.28M349.80,286.04V286.65M350.30,268.35V270.54M350.30,286.04V287.04M350.80,268.04V271.46M350.80,286.04V287.08M352.80,267.02V270.40M352.80,286.04V288.62M353.30,268.14V270.68M353.30,286.04V287.09M353.80,266.73V271.25M353.80,286.04V287.68M354.30,267.85V272.05M354.30,286.04V287.68M354.80,266.98V271.94M354.80,286.04V286.68M356.80,266.96V270.43M356.80,286.04V288.02M357.30,267.03V270.75M357.30,286.04V287.03M357.80,267.88V270.46M357.80,286.04V286.86M358.30,267.46V271.70M358.30,286.04V286.60M358.80,268.24V270.92M358.80,286.04V287.64M360.80,267.60V270.74M360.80,286.04V289.48M361.30,268.33V271.86M361.30,286.04V287.65M361.80,266.85V270.94M361.80,286.04V288.38M362.30,267.14V270.71M362.30,286.04V286.96M362.80,267.94V271.62M362.80,286.04V287.60M364.80,267.57V270.98M364.80,286.04V287.99M365.30,267.99V270.57M365.30,286.04V287.99M365.80,266.63V271.36M365.80,286.04V286.90M366.30,267.29V271.94M366.30,286.04V287.03M366.80,267.64V271.63M366.80,286.04V286.53M368.80,268.21V270.38M368.80,286.04V288.17M369.30,266.89V272.12M369.30,286.04V287.41M369.80,267.70V271.30M369.80,286.04V287.12M370.30,267.77V271.75M370.30,286.04V286.61M370.80,268.26V271.49M370.80,286.04V287.12M372.80,267.81V271.40M372.80,286.04V288.10M373.30,268.00V271.38M373.30,286.04V288.16M373.80,268.36V271.78M373.80,286.04V287.04M374.30,267.65V270.72M374.30,286.04V288.19M374.80,267.76V270.89M374.80,286.04V287.65M376.80,268.05V270.95M376.80,286.04V289.83M377.30,267.64V271.65M377.30,286.04V288.68M377.80,267.82V270.84M377.80,286.04V287.30M378.30,266.66V271.81M378.30,286.04V287.09M378.80,266.90V271.74M378.80,286.04V286.60M380.80,268.03V271.61M380.80,286.04V288.61M381.30,266.95V271.10M381.30,286.04V287.22M381.80,267.45V272.11M381.80,286.04V287.95M382.30,267.07V271.15M382.30,286.04V286.85M382.80,267.98V272.16M382.80,286.04V287.03M384.80,268.08V270.93M384.80,286.04V288.66M385.30,268.29V271.53M385.30,286.04V288.02M385.80,267.07V271.95M385.80,286.04V288.08M386.30,266.73V270.53M386.30,286.04V287.00M386.80,266.69V270.41M386.80,286.04V287.61M388.80,268.42V270.50M388.80,286.04V290.04M389.30,268.25V271.77M389.30,286.04V288.79M389.80,267.90V271.34M389.80,286.04V287.23M390.30,267.42V270.70M390.30,286.04V288.05M390.80,266.75V271.98M390.80,286.04V286.91M392.80,267.81V270.62M392.80,286.04V289.77M393.30,268.12V270.35M393.30,286.04V288.65M393.80,268.14V271.19M393.80,286.04V287.44M394.30,267.05V271.76M394.30,286.04V287.68M394.80,266.68V271.53M394.80,286.04V287.20M396.80,267.03V270.59M396.80,286.04V290.01M397.30,267.13V270.71M397.30,286.04V288.44M397.80,267.75V270.44M397.80,286.04V287.11M398.30,267.56V272.12M398.30,286.04V287.06M398.80,266.69V270.41M398.80,286.04V286.87M400.80,267.65V270.45M400.80,286.04V289.75M401.30,268.39V271.66M401.30,286.04V287.87M401.80,267.23V270.50M401.80,286.04V287.87M402.30,268.36V271.39M402.30,286.04V286.56M402.80,267.18V272.09M402.80,286.04V287.95M404.80,266.84V271.92M404.80,286.04V289.88M405.30,266.82V271.11M405.30,286.04V287.45M405.80,267.88V271.56M405.80,286.04V288.59M406.30,267.17V270.54M406.30,286.04V287.78M406.80,267.36V271.14M406.80,286.04V287.58M408.80,268.24V270.35M408.80,286.04V289.05M409.30,267.51V270.72M409.30,286.04V288.13M409.80,267.06V271.25M409.80,286.04V287.89M410.30,267.79V271.13M410.30,286.04V287.66M410.80,267.13V272.13M410.80,286.04V287.12M411.30,266.85V272.14M411.30,286.04V287.34M412.80,266.92V270.51M412.80,286.04V289.16M413.30,268.03V271.45M413.30,286.04V287.78M413.80,267.14V270.34M413.80,286.04V288.59M414.30,267.23V270.67M414.30,286.04V286.63M414.80,267.68V271.08M414.80,286.04V286.87M415.30,267.40V271.53M415.30,286.04V286.70M416.80,266.72V271.55M416.80,286.04V289.40M417.30,267.28V271.01M417.30,286.04V289.18M417.80,267.32V271.60M417.80,286.04V288.26M418.30,268.17V270.72M418.30,286.04V286.69M418.80,268.07V271.92M418.80,286.04V286.82M419.30,267.03V271.43M419.30,286.04V286.50M420.80,267.20V271.19M420.80,286.04V290.35M421.30,267.61V270.87M421.30,286.04V289.13M421.80,268.46V271.16M421.80,286.04V288.63M422.30,267.45V270.64M422.30,286.04V287.84M422.80,267.00V270.70M422.80,286.04V287.02M423.30,267.99V271.86M423.30,286.04V287.12M424.80,267.07V270.35M424.80,286.04V288.85M425.30,267.26V271.95M425.30,286.04V288.96M425.80,266.65V270.67M425.80,286.04V288.26M426.30,268.38V270.34M426.30,286.04V288.05M426.80,268.16V271.71M426.80,286.04V287.29M427.30,268.14V271.96M427.30,286.04V287.32M429.30,267.60V270.51M429.30,286.04V289.52M429.80,267.02V271.05M429.80,286.04V287.24M430.30,266.99V270.89M430.30,286.04V287.19M430.80,267.72V271.86M430.80,286.04V287.22M431.30,268.30V270.68M431.30,286.04V286.60M433.30,267.01V271.17M433.30,286.04V289.13M433.80,267.71V271.57M433.80,286.04V287.53" stroke="#2e9de6" stroke-width="0.75"/><path d="M332.30,270.79V286.52M332.80,271.28V285.51M333.30,271.85V285.73M333.80,270.84V286.68M334.30,271.43V286.47M334.80,272.16V286.27M336.30,271.09V285.65M336.80,270.52V285.14M337.30,271.15V285.68M337.80,270.85V286.61M338.30,271.12V285.46M338.80,270.44V285.66M340.30,270.76V286.11M340.80,270.51V285.70M341.30,271.34V285.12M341.80,271.33V286.83M342.30,270.72V285.40M342.80,271.23V285.77M344.30,271.99V286.95M344.80,271.08V285.42M345.30,271.16V286.85M345.80,271.06V285.49M346.30,270.54V286.88M346.80,271.10V286.51M348.80,270.45V285.96M349.30,271.14V286.12M349.80,270.86V285.98M350.30,272.11V285.51M350.80,271.19V285.66M352.80,271.71V285.21M353.30,270.73V285.93M353.80,270.61V286.67M354.30,271.92V286.68M354.80,271.90V286.03M356.80,272.16V286.54M357.30,270.62V285.79M357.80,270.90V285.70M358.30,270.57V286.72M358.80,270.75V285.53M360.80,271.87V285.46M361.30,272.00V285.57M361.80,271.33V286.21M362.30,271.18V285.52M362.80,271.77V285.60M364.80,270.46V286.26M365.30,271.97V286.49M365.80,271.46V286.08M366.30,270.46V285.60M366.80,270.48V286.10M368.80,270.98V285.26M369.30,271.47V285.45M369.80,270.68V286.60M370.30,271.10V286.20M370.80,271.20V286.84M372.80,271.85V286.19M373.30,271.25V286.38M373.80,271.52V286.67M374.30,271.18V285.97M374.80,270.65V285.27M376.80,271.26V286.89M377.30,271.82V286.54M377.80,271.06V285.47M378.30,271.18V285.72M378.80,271.34V286.94M380.80,271.61V285.66M381.30,271.46V285.14M381.80,270.74V286.25M382.30,272.10V286.06M382.80,270.75V285.74M384.80,271.06V285.98M385.30,270.81V286.32M385.80,271.99V286.69M386.30,270.78V286.44M386.80,271.55V286.94M388.80,271.59V285.42M389.30,271.94V286.29M389.80,270.73V285.99M390.30,271.55V286.09M390.80,272.10V285.33M392.80,270.93V286.05M393.30,272.09V285.65M393.80,271.99V285.50M394.30,270.44V286.10M394.80,271.79V285.32M396.80,271.05V285.58M397.30,270.90V286.38M397.80,271.29V285.48M398.30,270.57V286.82M398.80,270.86V286.82M400.80,270.66V285.87M401.30,270.32V286.71M401.80,271.92V285.89M402.30,271.97V285.12M402.80,271.26V286.06M404.80,271.67V286.19M405.30,271.22V286.02M405.80,271.39V286.74M406.30,270.76V285.62M406.80,271.85V285.53M408.80,271.97V286.58M409.30,270.46V285.93M409.80,271.93V285.91M410.30,271.37V286.24M410.80,271.33V286.24M411.30,271.64V285.23M412.80,271.69V286.52M413.30,270.57V285.49M413.80,271.90V286.12M414.30,270.51V286.09M414.80,270.45V286.51M415.30,271.35V286.37M416.80,271.56V285.21M417.30,272.10V286.33M417.80,271.21V285.30M418.30,271.35V286.48M418.80,271.43V286.35M419.30,271.38V285.30M420.80,271.66V286.26M421.30,271.78V285.99M421.80,271.36V285.65M422.30,271.70V286.36M422.80,270.53V285.68M423.30,270.64V285.99M424.80,272.08V286.34M425.30,270.52V286.31M425.80,270.90V285.78M426.30,271.52V285.83M426.80,270.95V285.80M427.30,271.21V286.52M429.30,270.63V286.89M429.80,271.62V286.73M430.30,271.88V286.21M430.80,271.45V286.73M431.30,270.44V286.36M433.30,271.95V285.91M433.80,271.98V285.97M434.30,273.74V286.57M434.80,272.91V287.93M435.30,273.64V286.92M435.80,274.04V287.57M436.30,273.47V286.66" stroke="#0f70c8" stroke-width="0.75"/><path d="M330.80,252.20V259.13M331.30,252.20V259.14M331.80,252.21V259.15M332.30,256.36V258.67M332.80,255.84V258.16M333.30,255.55V257.86M333.80,255.58V257.89M334.30,255.93V258.24M334.80,256.48V258.79M335.30,252.27V259.21M335.80,252.28V259.22M336.30,256.46V258.77M336.80,255.94V258.25M337.30,255.63V257.94M337.80,255.64V257.95M338.30,255.97V258.29M338.80,256.52V258.83M339.30,252.34V259.28M339.80,252.35V259.29M340.30,256.56V258.87M340.80,256.03V258.34M341.30,255.70V258.02M341.80,255.70V258.01M342.30,256.02V258.33M342.80,256.56V258.87M343.30,252.41V259.35M343.80,252.42V259.36M344.30,256.65V258.97M344.80,256.12V258.43M345.30,255.78V258.10M345.80,255.76V258.08M346.30,256.07V258.38M346.80,256.60V258.91M347.30,252.48V259.42M347.80,252.49V259.43M348.30,252.50V259.44M348.80,256.22V258.53M349.30,255.86V258.18M349.80,255.82V258.14M350.30,256.11V258.43M350.80,256.64V258.95M351.30,252.55V259.49M351.80,252.56V259.50M352.30,252.57V259.51M352.80,256.31V258.62M353.30,255.95V258.26M353.80,255.89V258.20M354.30,256.16V258.48M354.80,256.68V258.99M355.30,252.62V259.56M355.80,252.63V259.57M356.30,252.64V259.58M356.80,256.41V258.72M357.30,256.03V258.34M357.80,255.95V258.27M358.30,256.21V258.52M358.80,256.72V259.03M359.30,252.69V259.63M359.80,252.70V259.64M360.30,252.71V259.65M360.80,256.50V258.81M361.30,256.11V258.42M361.80,256.02V258.33M362.30,256.26V258.57M362.80,256.76V259.07M363.30,252.76V259.70M363.80,252.77V259.71M364.30,252.78V259.72M364.80,256.60V258.91M365.30,256.19V258.51M365.80,256.08V258.40M366.30,256.31V258.62M366.80,256.80V259.11M367.30,252.83V259.77M367.80,252.84V259.78M368.30,252.85V259.79M368.80,256.69V259.01M369.30,256.28V258.59M369.80,256.15V258.47M370.30,256.36V258.68M370.80,256.84V259.15M371.30,252.90V259.84M371.80,252.91V259.85M372.30,252.92V259.86M372.80,256.79V259.10M373.30,256.36V258.68M373.80,256.22V258.53M374.30,256.41V258.73M374.80,256.88V259.19M375.30,252.97V259.91M375.80,252.98V259.92M376.30,252.99V259.93M376.80,256.89V259.20M377.30,256.45V258.76M377.80,256.29V258.60M378.30,256.47V258.78M378.80,256.92V259.23M379.30,253.04V259.98M379.80,253.05V259.99M380.30,253.06V260.00M380.80,256.98V259.30M381.30,256.54V258.85M381.80,256.36V258.67M382.30,256.52V258.83M382.80,256.96V259.28M383.30,253.11V260.05M383.80,253.12V260.06M384.30,253.13V260.06M384.80,257.08V259.39M385.30,256.62V258.94M385.80,256.43V258.74M386.30,256.57V258.89M386.80,257.01V259.32M387.30,253.18V260.12M387.80,253.19V260.13M388.30,253.20V260.13M388.80,257.18V259.49M389.30,256.71V259.02M389.80,256.50V258.82M390.30,256.63V258.94M390.80,257.05V259.36M391.30,253.25V260.19M391.80,253.26V260.19M392.30,253.26V260.20M392.80,257.28V259.59M393.30,256.80V259.11M393.80,256.57V258.89M394.30,256.68V259.00M394.80,257.09V259.41M395.30,253.32V260.26M395.80,253.33V260.26M396.30,253.33V260.27M396.80,257.38V259.69M397.30,256.89V259.20M397.80,256.65V258.96M398.30,256.74V259.05M398.80,257.14V259.45M399.30,253.39V260.33M399.80,253.40V260.33M400.30,253.40V260.34M400.80,257.48V259.79M401.30,256.98V259.29M401.80,256.72V259.04M402.30,256.80V259.11M402.80,257.18V259.49M403.30,253.46V260.39M403.80,253.46V260.40M404.30,253.47V260.41M404.80,257.57V259.89M405.30,257.07V259.38M405.80,256.80V259.11M406.30,256.86V259.17M406.80,257.22V259.54M407.30,253.53V260.46M407.80,253.53V260.47M408.30,253.54V260.48M408.80,257.67V259.99M409.30,257.16V259.48M409.80,256.87V259.19M410.30,256.91V259.23M410.80,257.27V259.58M411.30,257.82V260.13M411.80,253.60V260.54M412.30,253.61V260.55M412.80,257.77V260.09M413.30,257.25V259.57M413.80,256.95V259.26M414.30,256.97V259.29M414.80,257.31V259.63M415.30,257.86V260.17M415.80,253.67V260.61M416.30,253.68V260.62M416.80,257.87V260.18M417.30,257.35V259.66M417.80,257.03V259.34M418.30,257.03V259.35M418.80,257.36V259.67M419.30,257.90V260.21M419.80,253.74V260.68M420.30,253.76V260.69M420.80,258.00V260.31M421.30,257.50V259.82M421.80,257.22V259.53M422.30,257.27V259.59M422.80,257.66V259.98M423.30,258.29V260.60M423.80,254.27V261.21M424.30,254.40V261.34M424.80,258.78V261.10M425.30,258.40V260.71M425.80,258.22V260.53M426.30,258.37V260.68M426.80,258.86V261.17M427.30,259.59V261.91M427.80,255.72V262.66M428.30,255.96V262.90M428.80,256.22V263.16M429.30,260.22V262.53M429.80,260.14V262.45M430.30,260.39V262.70M430.80,260.98V263.29M431.30,261.82V264.13M431.80,258.09V265.03M432.30,258.45V265.39M432.80,258.82V265.76M433.30,262.96V265.27M433.80,262.98V265.29" stroke="#ff4a0a" stroke-width="0.55" opacity="0.4"/><path d="M332.30,251.67V255.95M332.80,251.18V255.96M333.30,251.34V255.49M333.80,251.28V255.26M334.30,251.59V255.99M334.80,252.23V256.73M336.30,252.19V256.69M336.80,251.87V255.61M337.30,251.16V255.95M337.80,251.11V255.38M338.30,251.64V255.58M338.80,251.75V256.37M340.30,252.03V256.92M340.80,251.60V256.37M341.30,251.52V255.58M341.80,251.33V255.72M342.30,251.74V256.26M342.80,251.74V256.46M344.30,251.96V256.73M344.80,251.78V256.57M345.30,251.42V255.79M345.80,251.04V255.67M346.30,251.31V256.27M346.80,251.96V256.78M348.80,251.73V255.83M349.30,251.34V255.43M349.80,251.53V256.27M350.30,251.88V255.84M350.80,252.14V256.80M352.80,252.00V256.42M353.30,251.69V256.39M353.80,251.13V255.84M354.30,251.67V255.98M354.80,252.46V256.38M356.80,252.28V256.10M357.30,251.34V256.19M357.80,251.69V255.89M358.30,251.63V256.45M358.80,252.45V257.09M360.80,251.77V256.64M361.30,251.87V256.50M361.80,251.78V256.17M362.30,251.92V256.61M362.80,252.04V256.96M364.80,252.11V256.64M365.30,252.03V255.95M365.80,251.75V255.72M366.30,251.87V256.49M366.80,252.38V256.40M368.80,251.88V256.77M369.30,251.65V256.54M369.80,251.35V256.53M370.30,251.83V255.95M370.80,252.03V256.89M372.80,252.32V256.71M373.30,251.88V255.92M373.80,251.99V255.86M374.30,251.85V256.82M374.80,252.41V257.28M376.80,252.36V256.67M377.30,252.05V256.16M377.80,251.81V256.39M378.30,252.16V256.84M378.80,252.32V256.66M380.80,252.35V257.12M381.30,251.81V256.99M381.80,251.71V256.63M382.30,252.11V256.78M382.80,252.35V257.02M384.80,252.79V257.36M385.30,252.01V256.93M385.80,252.17V256.42M386.30,252.33V256.52M386.80,252.63V257.29M388.80,252.92V256.81M389.30,252.22V256.94M389.80,251.75V256.65M390.30,252.11V256.27M390.80,252.59V257.29M392.80,252.90V257.16M393.30,252.64V257.15M393.80,252.43V256.24M394.30,251.90V256.78M394.80,252.95V256.68M396.80,253.25V256.95M397.30,252.81V256.66M397.80,252.18V256.83M398.30,251.94V256.81M398.80,253.08V257.04M400.80,252.72V257.91M401.30,252.82V257.25M401.80,252.67V256.31M402.30,252.19V256.48M402.80,252.51V257.17M404.80,253.03V257.61M405.30,253.01V257.33M405.80,252.38V256.41M406.30,252.65V256.64M406.80,252.56V256.92M408.80,253.13V257.45M409.30,252.66V257.02M409.80,252.49V256.95M410.30,252.80V256.48M410.80,253.04V257.39M411.30,253.73V257.98M412.80,253.36V257.50M413.30,252.75V257.61M413.80,252.85V256.74M414.30,252.85V256.87M414.80,253.09V257.66M415.30,253.26V258.15M416.80,253.51V258.23M417.30,253.17V257.29M417.80,252.77V256.95M418.30,252.84V257.34M418.80,252.95V257.45M419.30,253.10V258.13M420.80,253.67V257.64M421.30,252.93V257.65M421.80,253.01V257.44M422.30,252.96V257.48M422.80,253.58V258.02M423.30,254.05V258.35M424.80,254.08V259.01M425.30,254.20V258.77M425.80,254.11V258.43M426.30,253.60V258.43M426.80,254.14V259.16M427.30,254.98V259.54M429.30,256.06V260.39M429.80,256.01V259.96M430.30,256.24V260.55M430.80,256.62V260.93M431.30,257.18V261.43M433.30,258.24V263.33M433.80,258.32V262.71" stroke="#ff4a0a" stroke-width="0.75"/><path d="M432.47,258.96L432.60,259.06L432.74,259.16L432.87,259.27L433.01,259.37L433.15,259.48L433.28,259.58L433.42,259.69L433.56,259.80L433.69,259.91L433.83,260.03L433.97,260.66L434.10,261.73L434.24,263.09L434.38,264.67L434.51,266.46L434.65,268.42L434.79,270.54L434.92,272.81L435.06,275.22L435.19,277.77L435.33,280.44L435.47,283.22L435.60,286.13L435.74,289.14L435.88,292.26L436.01,295.48L436.15,298.80L436.29,302.22L436.42,305.73L436.56,309.33L436.70,313.03L436.83,316.80" stroke="#ff5a20" stroke-width="0.75" opacity="0.75"/></g><path d="M330.8,244.1H448.5M330.8,321.2H448.5" stroke="#3a3a3a" stroke-width="1" fill="none"/><path d="M330.8,243.6V321.7" stroke="#1c8ad6" stroke-width="1.1" fill="none"/><path d="M448.5,243.6V321.7" stroke="#ff5520" stroke-width="1.1" fill="none"/><path d="M330.8,321.2v-1.5M330.8,244.1v1.5M364.9,321.2v-1.5M364.9,244.1v1.5M399.0,321.2v-1.5M399.0,244.1v1.5M433.1,321.2v-1.5M433.1,244.1v1.5" stroke="#3a3a3a" stroke-width="0.8" fill="none"/><path d="M330.8,244.1h1.5M330.8,259.5h1.5M330.8,274.9h1.5M330.8,290.4h1.5M330.8,305.8h1.5M330.8,321.2h1.5" stroke="#1c8ad6" stroke-width="0.8" fill="none"/><path d="M448.5,244.1h-1.5M448.5,263.4h-1.5M448.5,282.6h-1.5M448.5,301.9h-1.5M448.5,321.2h-1.5" stroke="#ff5520" stroke-width="0.8" fill="none"/><text x="330.8" y="329.1" font-size="6.8" fill="#222" stroke="#222" stroke-width="0.25" text-anchor="middle" font-weight="bold" >0</text><text x="364.9" y="329.1" font-size="6.8" fill="#222" stroke="#222" stroke-width="0.25" text-anchor="middle" font-weight="bold" >1</text><text x="399.0" y="329.1" font-size="6.8" fill="#222" stroke="#222" stroke-width="0.25" text-anchor="middle" font-weight="bold" >2</text><text x="433.1" y="329.1" font-size="6.8" fill="#222" stroke="#222" stroke-width="0.25" text-anchor="middle" font-weight="bold" >3</text><text x="328.3" y="246.6" font-size="7.1" fill="#1c8ad6" stroke="#1c8ad6" stroke-width="0.3" text-anchor="end" font-weight="bold" >100</text><text x="328.3" y="262.0" font-size="7.1" fill="#1c8ad6" stroke="#1c8ad6" stroke-width="0.3" text-anchor="end" font-weight="bold" >50</text><text x="328.3" y="277.4" font-size="7.1" fill="#1c8ad6" stroke="#1c8ad6" stroke-width="0.3" text-anchor="end" font-weight="bold" >0</text><text x="328.3" y="292.9" font-size="7.1" fill="#1c8ad6" stroke="#1c8ad6" stroke-width="0.3" text-anchor="end" font-weight="bold" >&#8722;50</text><text x="328.3" y="308.3" font-size="7.1" fill="#1c8ad6" stroke="#1c8ad6" stroke-width="0.3" text-anchor="end" font-weight="bold" >&#8722;100</text><text x="328.3" y="323.7" font-size="7.1" fill="#1c8ad6" stroke="#1c8ad6" stroke-width="0.3" text-anchor="end" font-weight="bold" >&#8722;150</text><text x="451.0" y="246.6" font-size="7.1" fill="#ff5520" stroke="#ff5520" stroke-width="0.1" text-anchor="start" font-weight="bold" >3.5</text><text x="451.0" y="265.9" font-size="7.1" fill="#ff5520" stroke="#ff5520" stroke-width="0.1" text-anchor="start" font-weight="bold" >3</text><text x="451.0" y="285.1" font-size="7.1" fill="#ff5520" stroke="#ff5520" stroke-width="0.1" text-anchor="start" font-weight="bold" >2.5</text><text x="451.0" y="304.4" font-size="7.1" fill="#ff5520" stroke="#ff5520" stroke-width="0.1" text-anchor="start" font-weight="bold" >2</text><text x="451.0" y="323.7" font-size="7.1" fill="#ff5520" stroke="#ff5520" stroke-width="0.1" text-anchor="start" font-weight="bold" >1.5</text><text x="389.6" y="341.2" font-size="10.7" fill="#111" stroke="#111" stroke-width="0.25" text-anchor="middle" font-weight="bold" >Time/s</text><text x="449.0" y="340.2" font-size="7.6" fill="#222" text-anchor="end" font-weight="normal">&#215;10<tspan dy="-3.2" font-size="5.4">4</tspan></text><text transform="translate(312.3,282.1) rotate(-90)" font-size="11" fill="#1c8ad6" stroke="#1c8ad6" stroke-width="0.3" text-anchor="middle" font-weight="bold">Current/A</text><text transform="translate(470.5,283.6) rotate(-90)" font-size="10.7" fill="#ff5520" stroke="#ff5520" stroke-width="0.3" text-anchor="middle" font-weight="bold">Voltage<tspan dy="5" dx="0.5" font-size="7.6">min</tspan><tspan dy="-5">/V</tspan></text><text x="288.2" y="246.0" font-size="10.5" fill="#111" stroke="#111" stroke-width="0.25" text-anchor="start" font-weight="bold" >(h)</text><linearGradient id="g14" gradientUnits="userSpaceOnUse" x1="0" y1="405.5" x2="0" y2="435.0"><stop offset="0" stop-color="#2f98e0" stop-opacity="0.95"/><stop offset="1" stop-color="#b0dcf6" stop-opacity="0.7"/></linearGradient><linearGradient id="g15" gradientUnits="userSpaceOnUse" x1="0" y1="401.8" x2="0" y2="431.9"><stop offset="0" stop-color="#ff4a0a" stop-opacity="0.95"/><stop offset="1" stop-color="#ffc8b0" stop-opacity="0.45"/></linearGradient><clipPath id="c9"><rect x="37.0" y="364.0" width="114.6" height="75.5"/></clipPath><g clip-path="url(#c9)" fill="none"><path d="M36.37,405.52L37.97,405.52L37.37,434.79L36.97,434.79ZM41.61,405.52L43.21,405.52L42.61,434.54L42.21,434.54ZM46.76,405.52L48.36,405.52L47.76,435.43L47.36,435.43ZM52.06,405.52L53.66,405.52L53.06,434.23L52.66,434.23ZM57.41,405.52L59.01,405.52L58.41,434.05L58.01,434.05ZM62.62,405.52L64.22,405.52L63.62,434.24L63.22,434.24ZM67.85,405.52L69.45,405.52L68.85,435.07L68.45,435.07ZM72.87,405.52L74.47,405.52L73.87,434.88L73.47,434.88ZM78.35,405.52L79.95,405.52L79.35,435.05L78.95,435.05ZM83.38,405.52L84.98,405.52L84.38,434.10L83.98,434.10ZM88.76,405.52L90.36,405.52L89.76,434.57L89.36,434.57ZM93.98,405.52L95.58,405.52L94.98,433.95L94.58,433.95ZM99.21,405.52L100.81,405.52L100.21,434.88L99.81,434.88ZM104.52,405.52L106.12,405.52L105.52,435.17L105.12,435.17ZM109.76,405.52L111.36,405.52L110.76,435.85L110.36,435.85ZM115.03,405.52L116.63,405.52L116.03,434.00L115.63,434.00ZM120.15,405.52L121.75,405.52L121.15,434.87L120.75,434.87ZM125.31,405.52L126.91,405.52L126.31,435.88L125.91,435.88ZM130.79,405.52L132.39,405.52L131.79,434.88L131.39,434.88ZM135.83,405.52L137.43,405.52L136.83,434.14L136.43,434.14ZM141.26,405.52L142.86,405.52L142.26,434.41L141.86,434.41Z" fill="url(#g14)"/><path d="M37.00,368.41V371.43M37.00,399.86V406.21M37.50,369.30V372.32M37.50,399.86V404.25M38.00,371.40V374.42M38.00,399.86V404.20M38.50,372.61V375.63M38.50,399.86V406.16M39.00,374.82V377.84M39.00,399.86V403.63M39.50,375.72V378.74M39.50,399.86V405.46M40.00,369.85V372.87M40.00,399.86V405.21M40.50,371.44V374.46M40.50,399.86V405.26M41.00,372.58V375.60M41.00,399.86V403.36M41.50,374.72V377.74M41.50,399.86V404.07M42.00,376.21V379.23M42.00,399.86V403.26M42.50,369.15V372.17M42.50,399.86V403.42M43.00,370.49V373.51M43.00,399.86V403.46M43.50,372.31V375.33M43.50,399.86V406.22M44.00,373.90V376.92M44.00,399.86V404.52M44.50,374.58V377.60M44.50,399.86V403.50M45.00,368.55V371.57M45.00,399.86V406.04M45.50,369.88V372.90M45.50,399.86V403.35M46.00,371.88V374.90M46.00,399.86V403.32M46.50,372.18V375.20M46.50,399.86V404.59M47.00,373.73V376.75M47.00,399.86V404.66M47.50,366.86V369.88M47.50,399.86V405.72M48.00,369.56V372.58M48.00,399.86V406.00M48.50,371.54V374.56M48.50,399.86V403.68M49.00,373.69V376.71M49.00,399.86V404.47M49.50,374.31V377.33M49.50,399.86V404.50M50.00,376.70V379.72M50.00,399.86V405.95M50.50,367.92V370.94M50.50,399.86V405.33M51.00,370.82V373.84M51.00,399.86V405.30M51.50,373.09V376.11M51.50,399.86V404.91M52.00,373.21V376.23M52.00,399.86V405.16M52.50,374.77V377.79M52.50,399.86V404.85M53.00,368.81V371.83M53.00,399.86V404.88M53.50,369.10V372.12M53.50,399.86V405.29M54.00,371.26V374.28M54.00,399.86V404.20M54.50,372.39V375.41M54.50,399.86V404.31M55.00,375.32V378.34M55.00,399.86V406.08M55.50,367.69V370.71M55.50,399.86V403.47M56.00,370.80V373.82M56.00,399.86V404.98M56.50,371.12V374.14M56.50,399.86V403.69M57.00,373.32V376.34M57.00,399.86V404.64M57.50,375.71V378.73M57.50,399.86V405.31M58.00,368.91V371.93M58.00,399.86V404.44M58.50,368.82V371.84M58.50,399.86V404.70M59.00,369.92V372.94M59.00,399.86V403.51M59.50,373.43V376.45M59.50,399.86V403.77M60.00,374.62V377.64M60.00,399.86V403.50M60.50,376.15V379.17M60.50,399.86V406.08M61.00,368.35V371.37M61.00,399.86V405.02M61.50,369.95V372.97M61.50,399.86V403.89M62.00,373.15V376.17M62.00,399.86V403.78M62.50,373.01V376.03M62.50,399.86V405.30M63.00,375.59V378.61M63.00,399.86V403.86M63.50,368.06V371.08M63.50,399.86V403.37M64.00,370.88V373.90M64.00,399.86V405.25M64.50,371.99V375.01M64.50,399.86V403.27M65.00,373.39V376.41M65.00,399.86V405.26M65.50,374.56V377.58M65.50,399.86V405.35M66.00,368.13V371.15M66.00,399.86V404.57M66.50,370.31V373.33M66.50,399.86V406.13M67.00,371.20V374.22M67.00,399.86V404.10M67.50,373.66V376.68M67.50,399.86V405.09M68.00,373.80V376.82M68.00,399.86V403.46M68.50,367.89V370.91M68.50,399.86V405.37M69.00,368.57V371.59M69.00,399.86V404.35M69.50,371.38V374.40M69.50,399.86V403.32M70.00,373.54V376.56M70.00,399.86V404.29M70.50,374.26V377.28M70.50,399.86V405.50M71.00,376.96V379.98M71.00,399.86V405.54M71.50,369.43V372.45M71.50,399.86V406.22M72.00,370.71V373.73M72.00,399.86V405.58M72.50,372.94V375.96M72.50,399.86V403.59M73.00,373.72V376.74M73.00,399.86V405.32M73.50,375.15V378.17M73.50,399.86V405.14M74.00,367.96V370.98M74.00,399.86V403.55M74.50,371.05V374.07M74.50,399.86V405.68M75.00,371.14V374.16M75.00,399.86V403.45M75.50,373.08V376.10M75.50,399.86V405.13M76.00,375.77V378.79M76.00,399.86V405.44M76.50,368.28V371.30M76.50,399.86V404.01M77.00,370.67V373.69M77.00,399.86V405.84M77.50,370.63V373.65M77.50,399.86V406.02M78.00,373.02V376.04M78.00,399.86V406.00M78.50,375.63V378.65M78.50,399.86V405.55M79.00,368.32V371.34M79.00,399.86V405.09M79.50,368.77V371.79M79.50,399.86V403.96M80.00,370.81V373.83M80.00,399.86V403.35M80.50,372.55V375.57M80.50,399.86V405.58M81.00,373.81V376.83M81.00,399.86V404.99M81.50,374.76V377.78M81.50,399.86V403.86M82.00,369.16V372.18M82.00,399.86V404.93M82.50,370.80V373.82M82.50,399.86V405.35M83.00,373.29V376.31M83.00,399.86V404.94M83.50,373.84V376.86M83.50,399.86V405.88M84.00,374.42V377.44M84.00,399.86V405.22M84.50,368.78V371.80M84.50,399.86V406.26M85.00,370.65V373.67M85.00,399.86V405.12M85.50,371.76V374.78M85.50,399.86V404.34M86.00,373.90V376.92M86.00,399.86V403.39M86.50,376.09V379.11M86.50,399.86V405.15M87.00,367.44V370.46M87.00,399.86V405.45M87.50,370.49V373.51M87.50,399.86V403.32M88.00,370.88V373.90M88.00,399.86V405.03M88.50,372.47V375.49M88.50,399.86V403.59M89.00,374.78V377.80M89.00,399.86V404.84M89.50,368.01V371.03M89.50,399.86V405.78M90.00,368.76V371.78M90.00,399.86V404.83M90.50,371.70V374.72M90.50,399.86V404.09M91.00,371.93V374.95M91.00,399.86V404.48M91.50,375.09V378.11M91.50,399.86V405.87M92.00,376.01V379.03M92.00,399.86V405.85M92.50,369.63V372.65M92.50,399.86V403.44M93.00,371.76V374.78M93.50,371.45V374.47M94.00,374.06V377.08M94.50,376.24V379.26M95.00,369.73V372.75M95.50,369.54V372.56M96.00,372.23V375.25M96.50,373.53V376.55M97.00,375.54V378.56M97.50,369.44V372.46M98.00,369.19V372.21M98.50,370.47V373.49M99.00,372.93V375.95M99.50,373.69V376.71M100.00,367.38V370.40M100.50,369.39V372.41M101.00,371.84V374.86M101.50,372.12V375.14M102.00,374.97V377.99M102.50,375.79V378.81M103.00,369.65V372.67M103.50,371.25V374.27M104.00,372.89V375.91M104.50,373.39V376.41M105.00,374.67V377.69M105.50,369.93V372.95M106.00,370.03V373.05M106.50,371.83V374.85M107.00,373.29V376.31M107.50,375.26V378.28M108.00,368.50V371.52M108.50,370.04V373.06M109.00,372.70V375.72M109.50,374.28V377.30M110.00,375.66V378.68M110.50,367.13V370.15M111.00,369.75V372.77M111.50,370.79V373.81M112.00,372.57V375.59M112.50,374.80V377.82M113.00,375.68V378.70M113.50,369.19V372.21M114.00,371.61V374.63M114.50,372.85V375.87M115.00,374.22V377.24M115.50,375.27V378.29M116.00,368.29V371.31M116.50,369.86V372.88M117.00,371.70V374.72M117.50,374.08V377.10M118.00,375.26V378.28M118.50,369.56V372.58M119.00,369.30V372.32M119.50,371.14V374.16M120.00,372.50V375.52M120.50,374.00V377.02M121.00,369.11V372.13M121.50,370.26V373.28M122.00,370.39V373.41M122.50,373.20V376.22M123.00,374.78V377.80M123.50,375.25V378.27M124.00,369.50V372.52M124.50,371.31V374.33M125.00,373.46V376.48M125.50,373.01V376.03M126.00,375.13V378.15M126.50,368.29V371.31M127.00,369.84V372.86M127.50,372.51V375.53M128.00,374.70V377.72M128.50,375.60V378.62M129.00,368.70V371.72M129.50,370.19V373.21M130.00,371.88V374.90M130.50,374.34V377.36M131.00,374.32V377.34M131.50,368.67V371.69M132.00,370.10V373.12M132.50,370.38V373.40M133.00,373.43V376.45M133.50,374.61V377.63M134.00,368.73V371.75M134.50,369.01V372.03M135.00,371.68V374.70M135.50,371.84V374.86M136.00,374.26V377.28M136.50,375.40V378.42M137.00,369.28V372.30M137.50,370.15V373.17M138.00,371.15V374.17M138.50,372.90V375.92M139.00,376.13V379.15M139.50,368.44V371.46M140.00,369.44V372.46M140.50,372.73V375.75M141.00,374.07V377.09M141.50,376.00V379.02M142.00,368.28V371.30M142.50,369.79V372.81M143.00,371.88V374.90M143.50,372.74V375.76M144.00,375.32V378.34M144.50,367.49V370.51M145.00,370.52V373.54M145.50,370.25V373.27" stroke="#2e9de6" stroke-width="0.75"/><path d="M37.00,371.43V400.49M37.50,372.32V400.31M38.00,374.42V399.33M38.50,375.63V400.35M39.00,377.84V399.05M39.50,378.74V400.60M40.00,372.87V400.98M40.50,374.46V399.08M41.00,375.60V400.60M41.50,377.74V399.77M42.00,379.23V400.15M42.50,372.17V400.94M43.00,373.51V399.69M43.50,375.33V399.14M44.00,376.92V400.16M44.50,377.60V400.78M45.00,371.57V400.67M45.50,372.90V399.20M46.00,374.90V399.82M46.50,375.20V400.07M47.00,376.75V400.94M47.50,369.88V400.00M48.00,372.58V400.99M48.50,374.56V399.17M49.00,376.71V399.29M49.50,377.33V400.46M50.00,379.72V399.42M50.50,370.94V400.26M51.00,373.84V399.41M51.50,376.11V399.57M52.00,376.23V399.48M52.50,377.79V399.92M53.00,371.83V400.57M53.50,372.12V399.73M54.00,374.28V400.43M54.50,375.41V400.01M55.00,378.34V398.77M55.50,370.71V399.57M56.00,373.82V400.91M56.50,374.14V400.54M57.00,376.34V399.59M57.50,378.73V400.43M58.00,371.93V400.32M58.50,371.84V400.11M59.00,372.94V398.91M59.50,376.45V400.92M60.00,377.64V400.39M60.50,379.17V400.20M61.00,371.37V400.99M61.50,372.97V399.21M62.00,376.17V399.09M62.50,376.03V400.72M63.00,378.61V399.25M63.50,371.08V398.90M64.00,373.90V400.26M64.50,375.01V400.70M65.00,376.41V399.26M65.50,377.58V398.98M66.00,371.15V400.07M66.50,373.33V400.72M67.00,374.22V400.53M67.50,376.68V399.72M68.00,376.82V399.56M68.50,370.91V400.86M69.00,371.59V399.69M69.50,374.40V400.99M70.00,376.56V400.49M70.50,377.28V400.98M71.00,379.98V400.41M71.50,372.45V400.26M72.00,373.73V400.99M72.50,375.96V399.14M73.00,376.74V400.73M73.50,378.17V399.59M74.00,370.98V399.04M74.50,374.07V400.21M75.00,374.16V400.13M75.50,376.10V400.47M76.00,378.79V400.69M76.50,371.30V399.06M77.00,373.69V400.45M77.50,373.65V399.51M78.00,376.04V400.93M78.50,378.65V399.24M79.00,371.34V398.85M79.50,371.79V398.76M80.00,373.83V398.82M80.50,375.57V400.00M81.00,376.83V399.89M81.50,377.78V398.73M82.00,372.18V398.86M82.50,373.82V399.79M83.00,376.31V400.61M83.50,376.86V400.12M84.00,377.44V400.36M84.50,371.80V399.19M85.00,373.67V400.09M85.50,374.78V398.81M86.00,376.92V400.91M86.50,379.11V399.31M87.00,370.46V400.16M87.50,373.51V399.89M88.00,373.90V400.82M88.50,375.49V400.73M89.00,377.80V398.98M89.50,371.03V400.88M90.00,371.78V400.65M90.50,374.72V398.91M91.00,374.95V398.83M91.50,378.11V400.45M92.00,379.03V399.93M92.50,372.65V399.11M93.00,374.78V401.36M93.50,374.47V403.72M94.00,377.08V407.90M94.50,379.26V413.93M95.00,372.75V410.21M95.50,372.56V406.00M96.00,375.25V400.44M96.50,376.55V400.88M97.00,378.56V400.00M97.50,372.46V401.71M98.00,372.21V402.13M98.50,373.49V401.24M99.00,375.95V404.04M99.50,376.71V410.49M100.00,370.40V413.47M100.50,372.41V407.34M101.00,374.86V402.71M101.50,375.14V400.99M102.00,377.99V400.80M102.50,378.81V399.52M103.00,372.67V401.08M103.50,374.27V400.74M104.00,375.91V403.45M104.50,376.41V406.86M105.00,377.69V412.16M105.50,372.95V409.69M106.00,373.05V406.08M106.50,374.85V403.01M107.00,376.31V400.78M107.50,378.28V400.94M108.00,371.52V402.50M108.50,373.06V401.07M109.00,375.72V400.98M109.50,377.30V404.68M110.00,378.68V408.73M110.50,370.15V413.33M111.00,372.77V406.58M111.50,373.81V404.56M112.00,375.59V399.97M112.50,377.82V402.05M113.00,378.70V399.77M113.50,372.21V399.68M114.00,374.63V399.59M114.50,375.87V402.30M115.00,377.24V406.37M115.50,378.29V415.01M116.00,371.31V411.16M116.50,372.88V406.29M117.00,374.72V401.69M117.50,377.10V399.93M118.00,378.28V401.35M118.50,372.58V399.50M119.00,372.32V401.65M119.50,374.16V402.34M120.00,375.52V405.40M120.50,377.02V409.58M121.00,372.13V414.64M121.50,373.28V408.20M122.00,373.41V401.57M122.50,376.22V402.37M123.00,377.80V401.67M123.50,378.27V402.30M124.00,372.52V400.67M124.50,374.33V402.55M125.00,376.48V404.16M125.50,376.03V408.09M126.00,378.15V414.96M126.50,371.31V409.03M127.00,372.86V404.41M127.50,375.53V400.62M128.00,377.72V402.32M128.50,378.62V401.33M129.00,371.72V401.12M129.50,373.21V402.08M130.00,374.90V403.02M130.50,377.36V404.32M131.00,377.34V410.53M131.50,371.69V412.61M132.00,373.12V406.54M132.50,373.40V403.50M133.00,376.45V400.55M133.50,377.63V400.82M134.00,371.75V402.17M134.50,372.03V401.48M135.00,374.70V402.15M135.50,374.86V402.44M136.00,377.28V408.56M136.50,378.42V415.40M137.00,372.30V410.15M137.50,373.17V404.65M138.00,374.17V400.63M138.50,375.92V400.65M139.00,379.15V400.85M139.50,371.46V399.86M140.00,372.46V401.87M140.50,375.75V401.78M141.00,377.09V405.49M141.50,379.02V411.79M142.00,371.30V412.43M142.50,372.81V408.43M143.00,374.90V403.76M143.50,375.76V400.89M144.00,378.34V400.80M144.50,370.51V400.65M145.00,373.54V399.61M145.50,373.27V401.17" stroke="#0f70c8" stroke-width="0.75"/><path d="M37.00,405.35V409.88M37.50,403.36V407.46M38.00,403.38V407.05M38.50,402.58V405.82M39.00,401.62V404.42M39.50,400.75V403.12M40.00,401.56V403.50M40.50,402.01V403.52M41.00,400.15V401.23M41.50,399.46V400.10M42.00,399.03V399.24M42.50,403.65V407.95M43.00,402.33V406.21M43.50,401.77V405.21M44.00,402.12V405.13M44.50,401.80V404.38M45.00,401.12V403.27M45.50,401.57V403.29M46.00,400.80V402.08M46.50,401.86V402.71M47.00,401.66V402.08M47.50,403.73V408.25M48.00,404.76V408.84M48.50,404.27V407.92M49.00,404.38V407.60M49.50,403.44V406.23M50.00,402.39V404.75M50.50,402.86V404.79M51.00,402.44V403.93M51.50,402.32V403.38M52.00,400.43V401.06M52.50,400.07V400.27M53.00,402.62V406.92M53.50,403.07V406.93M54.00,403.43V406.86M54.50,403.64V406.64M55.00,402.45V405.02M55.50,403.53V405.66M56.00,401.58V403.28M56.50,399.91V401.18M57.00,400.09V400.93M57.50,400.58V400.99M58.00,405.18V409.68M58.50,403.82V407.89M59.00,402.67V406.31M59.50,402.52V405.73M60.00,404.00V406.78M60.50,400.98V403.32M61.00,401.15V403.07M61.50,402.94V404.43M62.00,401.92V402.97M62.50,399.30V399.91M63.00,398.92V399.11M63.50,403.05V407.34M64.00,404.78V408.63M64.50,402.48V405.90M65.00,401.99V404.98M65.50,401.65V404.21M66.00,403.23V405.35M66.50,400.95V402.64M67.00,400.93V402.19M67.50,401.99V402.82M68.00,401.28V401.68M68.50,404.04V408.53M69.00,402.76V406.82M69.50,404.39V408.02M70.00,404.35V407.55M70.50,403.43V406.20M71.00,402.44V404.78M71.50,401.10V403.01M72.00,401.59V403.06M72.50,401.10V402.14M73.00,400.22V400.83M73.50,401.85V402.02M74.00,402.99V407.26M74.50,402.48V406.32M75.00,402.86V406.26M75.50,401.82V404.80M76.00,401.95V404.49M76.50,401.89V404.01M77.00,402.09V403.77M77.50,401.00V402.25M78.00,400.61V401.43M78.50,400.47V400.85M79.00,403.85V408.33M79.50,402.96V407.01M80.00,404.11V407.73M80.50,403.74V406.92M81.00,401.86V404.61M81.50,401.66V403.98M82.00,403.25V405.14M82.50,401.50V402.96M83.00,401.09V402.12M83.50,400.55V401.15M84.00,399.64V399.80M84.50,404.68V408.94M85.00,403.61V407.44M85.50,402.08V405.47M86.00,402.46V405.42M86.50,403.00V405.53M87.00,402.83V404.93M87.50,402.50V404.17M88.00,400.63V401.86M88.50,399.96V400.76M89.00,401.60V401.98M89.50,403.74V408.21M90.00,404.79V408.83M90.50,402.91V406.52M91.00,401.76V404.93M91.50,402.27V405.02M92.00,402.05V404.36M92.50,400.34V402.22" stroke="#ff4a0a" stroke-width="0.75" opacity="0.55"/><path d="M93.00,396.43V399.47M93.50,396.31V398.91M94.00,396.19V399.10M94.50,396.07V399.51M95.00,395.95V400.56M95.50,395.83V400.88M96.00,395.71V400.89M96.50,395.59V399.53M97.00,395.47V400.44M97.50,395.35V397.71M98.00,395.24V399.10M98.50,395.12V400.02M99.00,395.01V400.27M99.50,394.90V399.85M100.00,394.79V400.06M100.50,394.68V399.62M101.00,394.57V399.10M101.50,394.47V398.00M102.00,394.37V398.34M102.50,394.27V397.79M103.00,394.17V397.92M103.50,394.07V397.46M104.00,393.98V398.59M104.50,393.89V396.65M105.00,393.80V397.18M105.50,393.72V397.67M106.00,393.64V396.87M106.50,393.56V398.75M107.00,393.48V395.99M107.50,393.41V395.86M108.00,393.34V396.74M108.50,393.27V398.29M109.00,393.21V396.98M109.50,393.15V398.30M110.00,393.09V396.24M110.50,393.04V398.06M111.00,392.99V395.66M111.50,392.94V395.35M112.00,392.90V397.64M112.50,392.86V396.17M113.00,392.83V395.49M113.50,392.80V395.96M114.00,392.77V396.57M114.50,392.75V397.20M115.00,392.73V396.55M115.50,392.71V397.19M116.00,392.70V395.36M116.50,392.69V396.52M117.00,392.69V397.59M117.50,392.69V395.83M118.00,392.69V396.92M118.50,392.70V397.51M119.00,392.71V396.17M119.50,392.73V395.73M120.00,392.75V397.80M120.50,392.77V395.40M121.00,392.80V396.58M121.50,392.83V395.29M122.00,392.87V397.84M122.50,392.91V395.89M123.00,392.95V395.68M123.50,393.00V397.11M124.00,393.05V395.63M124.50,393.10V396.41M125.00,393.16V397.01M125.50,393.22V396.81M126.00,393.28V396.07M126.50,393.35V396.14M127.00,393.42V397.68M127.50,393.49V395.77M128.00,393.57V395.98M128.50,393.65V397.03M129.00,393.83V397.52M129.50,394.07V396.94M130.00,394.31V396.92M130.50,394.55V398.56M131.00,394.80V398.51M131.50,395.05V398.68M132.00,395.30V399.48M132.50,395.55V399.23M133.00,395.81V400.22M133.50,396.07V400.06M134.00,396.33V401.06M134.50,396.59V401.13M135.00,396.86V401.38M135.50,397.12V400.42M136.00,397.39V401.54M136.50,397.66V401.81M137.00,397.93V402.82M137.50,398.20V400.84M138.00,398.47V400.81M138.50,398.74V402.74M139.00,399.01V401.67M139.50,399.29V403.74M140.00,399.56V403.86M140.50,399.84V404.51M141.00,400.11V403.48M141.50,400.39V405.33M142.00,400.56V404.58M142.50,400.71V404.95M143.00,400.87V405.01M143.50,401.02V404.09M144.00,401.18V405.96M144.50,401.33V405.04M145.00,401.48V406.64M145.50,401.64V406.69" stroke="#ff4a0a" stroke-width="0.55" opacity="0.4"/><path d="M37.00,379.61V405.35M37.50,379.75V403.36M38.00,380.19V403.38M38.50,381.54V402.58M39.00,381.45V401.62M39.50,382.50V400.75M40.00,384.17V401.56M40.50,383.69V402.01M41.00,385.20V400.15M41.50,385.09V399.46M42.00,386.90V399.03M42.50,380.75V403.65M43.00,379.99V402.33M43.50,381.98V401.77M44.00,383.17V402.12M44.50,384.33V401.80M45.00,383.02V401.12M45.50,383.97V401.57M46.00,385.21V400.80M46.50,385.72V401.86M47.00,387.13V401.66M47.50,380.74V403.73M48.00,380.84V404.76M48.50,381.25V404.27M49.00,383.21V404.38M49.50,382.60V403.44M50.00,385.10V402.39M50.50,385.32V402.86M51.00,385.38V402.44M51.50,385.89V402.32M52.00,388.47V400.43M52.50,387.99V400.07M53.00,381.54V402.62M53.50,383.07V403.07M54.00,382.10V403.43M54.50,383.19V403.64M55.00,385.24V402.45M55.50,385.21V403.53M56.00,387.45V401.58M56.50,387.36V399.91M57.00,388.49V400.09M57.50,387.88V400.58M58.00,381.28V405.18M58.50,382.94V403.82M59.00,383.02V402.67M59.50,383.95V402.52M60.00,385.06V404.00M60.50,384.83V400.98M61.00,387.58V401.15M61.50,388.35V402.94M62.00,388.24V401.92M62.50,390.20V399.30M63.00,389.67V398.92M63.50,384.04V403.05M64.00,382.77V404.78M64.50,384.68V402.48M65.00,385.65V401.99M65.50,385.45V401.65M66.00,387.99V403.23M66.50,387.33V400.95M67.00,387.87V400.93M67.50,389.92V401.99M68.00,390.92V401.28M68.50,383.33V404.04M69.00,384.01V402.76M69.50,384.33V404.39M70.00,386.62V404.35M70.50,386.84V403.43M71.00,387.75V402.44M71.50,387.38V401.10M72.00,388.02V401.59M72.50,390.57V401.10M73.00,390.24V400.22M73.50,392.27V401.85M74.00,385.49V402.99M74.50,384.50V402.48M75.00,386.65V402.86M75.50,387.80V401.82M76.00,387.36V401.95M76.50,389.13V401.89M77.00,390.21V402.09M77.50,390.68V401.00M78.00,390.68V400.61M78.50,391.42V400.47M79.00,385.03V403.85M79.50,385.56V402.96M80.00,385.84V404.11M80.50,386.58V403.74M81.00,387.54V401.86M81.50,389.33V401.66M82.00,389.91V403.25M82.50,391.26V401.50M83.00,391.50V401.09M83.50,393.04V400.55M84.00,393.14V399.64M84.50,386.80V404.68M85.00,385.70V403.61M85.50,387.33V402.08M86.00,388.26V402.46M86.50,388.80V403.00M87.00,389.02V402.83M87.50,391.57V402.50M88.00,390.84V400.63M88.50,392.60V399.96M89.00,393.61V401.60M89.50,385.45V403.74M90.00,387.16V404.79M90.50,387.85V402.91M91.00,389.68V401.76M91.50,389.42V402.27M92.00,389.74V402.05M92.50,390.07V400.34M93.00,392.72V396.52M93.50,391.31V396.30M94.00,392.01V396.27M94.50,392.80V395.19M95.00,391.02V396.09M95.50,392.42V396.65M96.00,391.16V395.97M96.50,391.29V396.32M97.00,392.01V395.12M97.50,390.35V395.11M98.00,390.61V394.71M98.50,391.49V395.82M99.00,391.75V394.36M99.50,390.08V395.33M100.00,390.44V394.68M100.50,390.50V394.19M101.00,391.13V395.34M101.50,389.48V394.73M102.00,390.45V393.72M102.50,390.69V394.02M103.00,390.89V393.78M103.50,389.98V393.49M104.00,389.77V393.96M104.50,390.18V394.15M105.00,390.43V394.26M105.50,389.86V393.39M106.00,388.96V393.88M106.50,389.85V394.07M107.00,389.23V392.71M107.50,389.32V393.80M108.00,389.73V393.60M108.50,388.64V392.50M109.00,388.78V393.03M109.50,388.81V392.54M110.00,389.55V393.01M110.50,388.33V392.78M111.00,389.48V393.28M111.50,388.69V393.73M112.00,388.61V393.62M112.50,389.53V392.93M113.00,389.45V392.34M113.50,389.40V392.81M114.00,387.89V392.70M114.50,388.67V392.37M115.00,389.20V393.22M115.50,387.71V393.13M116.00,388.57V393.45M116.50,388.32V392.33M117.00,388.18V393.26M117.50,388.52V392.57M118.00,389.41V392.60M118.50,388.27V391.96M119.00,388.29V392.16M119.50,388.50V392.13M120.00,388.85V392.91M120.50,388.54V392.79M121.00,388.59V392.46M121.50,388.97V392.52M122.00,388.69V393.27M122.50,387.93V392.90M123.00,389.61V392.17M123.50,388.58V392.18M124.00,388.23V393.00M124.50,388.68V392.59M125.00,389.25V392.43M125.50,389.86V392.97M126.00,388.28V392.81M126.50,389.11V392.95M127.00,389.85V393.11M127.50,389.72V392.98M128.00,390.18V393.88M128.50,389.43V393.00M129.00,390.08V393.00M129.50,389.90V394.71M130.00,390.81V393.52M130.50,390.83V395.19M131.00,390.82V394.95M131.50,391.56V395.61M132.00,390.83V396.13M132.50,391.73V395.68M133.00,391.28V395.97M133.50,391.64V395.67M134.00,392.75V396.97M134.50,392.92V395.85M135.00,392.56V396.53M135.50,392.77V397.25M136.00,392.43V397.63M136.50,392.84V397.16M137.00,394.30V398.37M137.50,393.21V397.37M138.00,394.99V399.33M138.50,394.70V398.52M139.00,395.55V399.42M139.50,395.00V399.66M140.00,395.31V399.30M140.50,395.11V399.80M141.00,396.45V399.57M141.50,396.24V400.01M142.00,396.30V400.76M142.50,396.42V400.02M143.00,396.10V400.08M143.50,397.71V401.56M144.00,397.89V402.05M144.50,396.89V400.44M145.00,396.68V401.50M145.50,397.65V402.15" stroke="#ff4a0a" stroke-width="0.75"/><path d="M35.31,401.75L38.71,401.75L37.26,432.80L36.76,432.80ZM40.78,401.75L44.18,401.75L42.73,431.60L42.23,431.60ZM46.01,401.75L49.41,401.75L47.96,431.40L47.46,431.40ZM51.06,401.75L54.46,401.75L53.01,431.15L52.51,431.15ZM56.33,401.75L59.73,401.75L58.28,430.53L57.78,430.53ZM61.71,401.75L65.11,401.75L63.66,431.41L63.16,431.41ZM66.91,401.75L70.31,401.75L68.86,432.27L68.36,432.27ZM71.96,401.75L75.36,401.75L73.91,430.82L73.41,430.82ZM77.22,401.75L80.62,401.75L79.17,433.17L78.67,433.17ZM82.67,401.75L86.07,401.75L84.62,432.78L84.12,432.78ZM87.85,401.75L91.25,401.75L89.80,432.22L89.30,432.22Z" fill="url(#g15)"/></g><path d="M37.0,364.0H151.6M37.0,439.5H151.6" stroke="#3a3a3a" stroke-width="1" fill="none"/><path d="M37.0,363.5V440.0" stroke="#1c8ad6" stroke-width="1.1" fill="none"/><path d="M151.6,363.5V440.0" stroke="#ff5520" stroke-width="1.1" fill="none"/><path d="M37.0,439.5v-1.5M37.0,364.0v1.5M65.7,439.5v-1.5M65.7,364.0v1.5M94.3,439.5v-1.5M94.3,364.0v1.5M122.9,439.5v-1.5M122.9,364.0v1.5M151.6,439.5v-1.5M151.6,364.0v1.5" stroke="#3a3a3a" stroke-width="0.8" fill="none"/><path d="M37.0,364.0h1.5M37.0,382.9h1.5M37.0,401.8h1.5M37.0,420.6h1.5M37.0,439.5h1.5" stroke="#1c8ad6" stroke-width="0.8" fill="none"/><path d="M151.6,364.0h-1.5M151.6,379.1h-1.5M151.6,394.2h-1.5M151.6,409.3h-1.5M151.6,424.4h-1.5M151.6,439.5h-1.5" stroke="#ff5520" stroke-width="0.8" fill="none"/><text x="37.0" y="447.4" font-size="6.8" fill="#222" stroke="#222" stroke-width="0.25" text-anchor="middle" font-weight="bold" >0</text><text x="65.7" y="447.4" font-size="6.8" fill="#222" stroke="#222" stroke-width="0.25" text-anchor="middle" font-weight="bold" >1</text><text x="94.3" y="447.4" font-size="6.8" fill="#222" stroke="#222" stroke-width="0.25" text-anchor="middle" font-weight="bold" >2</text><text x="122.9" y="447.4" font-size="6.8" fill="#222" stroke="#222" stroke-width="0.25" text-anchor="middle" font-weight="bold" >3</text><text x="151.6" y="447.4" font-size="6.8" fill="#222" stroke="#222" stroke-width="0.25" text-anchor="middle" font-weight="bold" >4</text><text x="34.5" y="366.5" font-size="7.1" fill="#1c8ad6" stroke="#1c8ad6" stroke-width="0.3" text-anchor="end" font-weight="bold" >50</text><text x="34.5" y="385.4" font-size="7.1" fill="#1c8ad6" stroke="#1c8ad6" stroke-width="0.3" text-anchor="end" font-weight="bold" >0</text><text x="34.5" y="404.2" font-size="7.1" fill="#1c8ad6" stroke="#1c8ad6" stroke-width="0.3" text-anchor="end" font-weight="bold" >&#8722;50</text><text x="34.5" y="423.1" font-size="7.1" fill="#1c8ad6" stroke="#1c8ad6" stroke-width="0.3" text-anchor="end" font-weight="bold" >&#8722;100</text><text x="34.5" y="442.0" font-size="7.1" fill="#1c8ad6" stroke="#1c8ad6" stroke-width="0.3" text-anchor="end" font-weight="bold" >&#8722;150</text><text x="154.1" y="366.5" font-size="7.1" fill="#ff5520" stroke="#ff5520" stroke-width="0.1" text-anchor="start" font-weight="bold" >3.6</text><text x="154.1" y="381.6" font-size="7.1" fill="#ff5520" stroke="#ff5520" stroke-width="0.1" text-anchor="start" font-weight="bold" >3.4</text><text x="154.1" y="396.7" font-size="7.1" fill="#ff5520" stroke="#ff5520" stroke-width="0.1" text-anchor="start" font-weight="bold" >3.2</text><text x="154.1" y="411.8" font-size="7.1" fill="#ff5520" stroke="#ff5520" stroke-width="0.1" text-anchor="start" font-weight="bold" >3</text><text x="154.1" y="426.9" font-size="7.1" fill="#ff5520" stroke="#ff5520" stroke-width="0.1" text-anchor="start" font-weight="bold" >2.8</text><text x="154.1" y="442.0" font-size="7.1" fill="#ff5520" stroke="#ff5520" stroke-width="0.1" text-anchor="start" font-weight="bold" >2.6</text><text x="94.3" y="459.5" font-size="10.7" fill="#111" stroke="#111" stroke-width="0.25" text-anchor="middle" font-weight="bold" >Time/s</text><text x="152.1" y="458.5" font-size="7.6" fill="#222" text-anchor="end" font-weight="normal">&#215;10<tspan dy="-3.2" font-size="5.4">4</tspan></text><text transform="translate(18.5,401.2) rotate(-90)" font-size="11" fill="#1c8ad6" stroke="#1c8ad6" stroke-width="0.3" text-anchor="middle" font-weight="bold">Current/A</text><text transform="translate(173.6,402.8) rotate(-90)" font-size="10.7" fill="#ff5520" stroke="#ff5520" stroke-width="0.3" text-anchor="middle" font-weight="bold">Voltage<tspan dy="5" dx="0.5" font-size="7.6">min</tspan><tspan dy="-5">/V</tspan></text><text x="9.6" y="363.4" font-size="10.5" fill="#111" stroke="#111" stroke-width="0.25" text-anchor="start" font-weight="bold" >(i)</text><linearGradient id="g16" gradientUnits="userSpaceOnUse" x1="0" y1="409.8" x2="0" y2="434.1"><stop offset="0" stop-color="#2f98e0" stop-opacity="0.95"/><stop offset="1" stop-color="#b0dcf6" stop-opacity="0.7"/></linearGradient><linearGradient id="g17" gradientUnits="userSpaceOnUse" x1="0" y1="385.7" x2="0" y2="372.3"><stop offset="0" stop-color="#6ab8ea" stop-opacity="0.8"/><stop offset="1" stop-color="#c5e5f8" stop-opacity="0.6"/></linearGradient><clipPath id="c10"><rect x="218.7" y="364.7" width="116.2" height="76.1"/></clipPath><g clip-path="url(#c10)" fill="none"><path d="M218.37,408.23L219.67,408.23L219.22,434.69L218.82,434.69ZM221.42,408.23L222.72,408.23L222.27,434.22L221.87,434.22ZM224.50,408.23L225.80,408.23L225.35,434.62L224.95,434.62ZM227.35,408.23L228.65,408.23L228.20,433.71L227.80,433.71ZM230.35,408.23L231.65,408.23L231.20,435.00L230.80,435.00ZM233.43,408.23L234.73,408.23L234.28,433.20L233.88,433.20ZM236.31,408.23L237.61,408.23L237.16,433.57L236.76,433.57ZM239.15,408.23L240.45,408.23L240.00,434.80L239.60,434.80ZM242.41,408.23L243.71,408.23L243.26,434.19L242.86,434.19ZM245.34,408.23L246.64,408.23L246.19,434.11L245.79,434.11ZM248.11,408.23L249.41,408.23L248.96,434.71L248.56,434.71ZM251.12,408.23L252.42,408.23L251.97,434.14L251.57,434.14ZM254.34,408.23L255.64,408.23L255.19,433.57L254.79,433.57ZM257.30,408.23L258.60,408.23L258.15,434.58L257.75,434.58ZM260.32,408.23L261.62,408.23L261.17,433.79L260.77,433.79ZM263.08,408.23L264.38,408.23L263.93,434.92L263.53,434.92ZM266.17,408.23L267.47,408.23L267.02,434.57L266.62,434.57ZM269.26,408.23L270.56,408.23L270.11,434.49L269.71,434.49ZM272.25,408.23L273.55,408.23L273.10,434.15L272.70,434.15ZM275.13,408.23L276.43,408.23L275.98,434.55L275.58,434.55ZM278.09,408.23L279.39,408.23L278.94,434.07L278.54,434.07ZM280.93,408.23L282.23,408.23L281.78,433.80L281.38,433.80ZM284.02,408.23L285.32,408.23L284.87,434.76L284.47,434.76ZM287.05,408.23L288.35,408.23L287.90,433.79L287.50,433.79ZM289.96,408.23L291.26,408.23L290.81,433.24L290.41,433.24ZM293.12,408.23L294.42,408.23L293.97,433.33L293.57,433.33ZM296.01,408.23L297.31,408.23L296.86,433.81L296.46,433.81ZM298.84,408.23L300.14,408.23L299.69,433.93L299.29,433.93ZM301.96,408.23L303.26,408.23L302.81,434.19L302.41,434.19ZM304.97,408.23L306.27,408.23L305.82,434.54L305.42,434.54ZM307.90,408.23L309.20,408.23L308.75,433.52L308.35,433.52ZM311.01,408.23L312.31,408.23L311.86,434.36L311.46,434.36ZM313.73,408.23L315.03,408.23L314.58,433.72L314.18,433.72Z" fill="url(#g16)"/><path d="M218.75,385.70L219.65,385.70L219.40,373.11L219.00,373.11ZM221.46,385.70L222.36,385.70L222.11,372.98L221.71,372.98ZM224.62,385.70L225.52,385.70L225.27,372.81L224.87,372.81ZM227.58,385.70L228.48,385.70L228.23,373.20L227.83,373.20ZM230.50,385.70L231.40,385.70L231.15,372.45L230.75,372.45ZM233.48,385.70L234.38,385.70L234.13,372.61L233.73,372.61ZM236.51,385.70L237.41,385.70L237.16,371.74L236.76,371.74ZM239.41,385.70L240.31,385.70L240.06,371.68L239.66,371.68ZM242.61,385.70L243.51,385.70L243.26,372.33L242.86,372.33ZM245.34,385.70L246.24,385.70L245.99,372.48L245.59,372.48ZM248.56,385.70L249.46,385.70L249.21,372.28L248.81,372.28ZM251.58,385.70L252.48,385.70L252.23,372.87L251.83,372.87ZM254.36,385.70L255.26,385.70L255.01,372.74L254.61,372.74ZM257.34,385.70L258.24,385.70L257.99,373.19L257.59,373.19ZM260.49,385.70L261.39,385.70L261.14,373.04L260.74,373.04ZM263.36,385.70L264.26,385.70L264.01,371.75L263.61,371.75ZM266.41,385.70L267.31,385.70L267.06,373.00L266.66,373.00ZM269.20,385.70L270.10,385.70L269.85,372.98L269.45,372.98ZM272.45,385.70L273.35,385.70L273.10,371.85L272.70,371.85ZM275.20,385.70L276.10,385.70L275.85,372.85L275.45,372.85ZM278.36,385.70L279.26,385.70L279.01,372.14L278.61,372.14ZM281.40,385.70L282.30,385.70L282.05,372.65L281.65,372.65ZM284.32,385.70L285.22,385.70L284.97,372.34L284.57,372.34ZM287.37,385.70L288.27,385.70L288.02,371.69L287.62,371.69ZM290.30,385.70L291.20,385.70L290.95,372.14L290.55,372.14ZM293.06,385.70L293.96,385.70L293.71,373.03L293.31,373.03ZM296.31,385.70L297.21,385.70L296.96,371.52L296.56,371.52ZM299.08,385.70L299.98,385.70L299.73,371.86L299.33,371.86ZM302.03,385.70L302.93,385.70L302.68,371.87L302.28,371.87ZM305.24,385.70L306.14,385.70L305.89,372.74L305.49,372.74ZM308.09,385.70L308.99,385.70L308.74,371.86L308.34,371.86ZM311.18,385.70L312.08,385.70L311.83,372.43L311.43,372.43ZM314.00,385.70L314.90,385.70L314.65,372.68L314.25,372.68ZM317.15,385.70L318.05,385.70L317.80,371.97L317.40,371.97ZM320.20,385.70L321.10,385.70L320.85,372.62L320.45,372.62ZM322.98,385.70L323.88,385.70L323.63,371.91L323.23,371.91ZM326.12,385.70L327.02,385.70L326.77,371.83L326.37,371.83Z" fill="url(#g17)"/><path d="M218.70,385.70V408.23M219.20,385.70V408.23M219.70,385.70V408.23M221.70,385.70V408.23M222.20,385.70V408.23M222.70,385.70V408.23M224.70,385.70V408.23M225.20,385.70V408.23M225.70,385.70V408.23M227.70,385.70V408.23M228.20,385.70V408.23M228.70,385.70V408.23M230.70,385.70V408.23M231.20,385.70V408.23M231.70,385.70V408.23M233.70,385.70V408.23M234.20,385.70V408.23M234.70,385.70V408.23M236.70,385.70V408.23M237.20,385.70V408.23M237.70,385.70V408.23M239.70,385.70V408.23M240.20,385.70V408.23M240.70,385.70V408.23M242.70,385.70V408.23M243.20,385.70V408.23M243.70,385.70V408.23M245.70,385.70V408.23M246.20,385.70V408.23M248.70,385.70V408.23M249.20,385.70V408.23M251.70,385.70V408.23M252.20,385.70V408.23M254.70,385.70V408.23M255.20,385.70V408.23M257.70,385.70V408.23M258.20,385.70V408.23M260.70,385.70V408.23M261.20,385.70V408.23M263.70,385.70V408.23M264.20,385.70V408.23M266.70,385.70V408.23M267.20,385.70V408.23M269.70,385.70V408.23M270.20,385.70V408.23M272.70,385.70V408.23M273.20,385.70V408.23M275.70,385.70V408.23M276.20,385.70V408.23M278.70,385.70V408.23M279.20,385.70V408.23M281.70,385.70V408.23M282.20,385.70V408.23M284.70,385.70V408.23M285.20,385.70V408.23M287.70,385.70V408.23M288.20,385.70V408.23M290.70,385.70V408.23M291.20,385.70V408.23M293.70,385.70V408.23M294.20,385.70V408.23M296.70,385.70V408.23M297.20,385.70V408.23M299.70,385.70V408.23M300.20,385.70V408.23M302.70,385.70V408.23M303.20,385.70V408.23M305.70,385.70V408.23M306.20,385.70V408.23M308.70,385.70V408.23M309.20,385.70V408.23M311.20,385.70V408.23M311.70,385.70V408.23M312.20,385.70V408.23M314.20,385.70V408.23M314.70,385.70V408.23M315.20,385.70V408.23M317.20,385.70V403.66M317.70,385.70V403.66M318.20,385.70V403.66M320.20,385.70V403.66M320.70,385.70V403.66M321.20,385.70V403.66M323.20,385.70V403.66M323.70,385.70V403.66M324.20,385.70V403.66M326.20,385.70V403.66M326.70,385.70V403.66M327.20,385.70V403.66" stroke="#4cb2ee" stroke-width="0.75"/><path d="M220.20,385.99V389.05M220.70,385.88V389.05M221.20,385.72V389.05M223.20,386.15V389.05M223.70,385.97V389.05M224.20,385.69V389.05M226.20,385.88V389.05M226.70,386.06V389.05M227.20,385.88V389.05M229.20,385.99V389.05M229.70,385.78V389.05M230.20,385.48V389.05M232.20,385.73V389.05M232.70,386.01V389.05M233.20,385.29V389.05M235.20,385.46V389.05M235.70,385.83V389.05M236.20,385.71V389.05M238.20,385.34V389.05M238.70,385.96V389.05M239.20,385.64V389.05M241.20,385.58V389.05M241.70,385.63V389.05M242.20,385.58V389.05M244.20,385.72V389.05M244.70,385.62V389.05M245.20,385.83V389.05M246.70,386.15V389.05M247.20,385.71V389.05M247.70,386.09V389.05M248.20,385.37V389.05M249.70,385.43V389.05M250.20,385.25V389.05M250.70,385.79V389.05M251.20,385.39V389.05M252.70,385.64V389.05M253.20,385.97V389.05M253.70,386.13V389.05M254.20,385.31V389.05M255.70,385.54V389.05M256.20,385.41V389.05M256.70,385.51V389.05M257.20,385.44V389.05M258.70,385.86V389.05M259.20,385.73V389.05M259.70,385.35V389.05M260.20,385.67V389.05M261.70,385.92V389.05M262.20,385.56V389.05M262.70,385.50V389.05M263.20,385.44V389.05M264.70,385.91V389.05M265.20,385.62V389.05M265.70,386.06V389.05M266.20,385.33V389.05M267.70,386.10V389.05M268.20,385.73V389.05M268.70,386.08V389.05M269.20,386.12V389.05M270.70,385.41V389.05M271.20,385.32V389.05M271.70,386.03V389.05M272.20,385.97V389.05M273.70,386.10V389.05M274.20,385.71V389.05M274.70,385.97V389.05M275.20,385.97V389.05M276.70,385.70V389.05M277.20,385.54V389.05M277.70,385.71V389.05M278.20,385.52V389.05M279.70,385.82V389.05M280.20,385.42V389.05M280.70,385.34V389.05M281.20,386.15V389.05M282.70,386.04V389.05M283.20,385.86V389.05M283.70,385.89V389.05M284.20,385.56V389.05M285.70,385.26V389.05M286.20,385.48V389.05M286.70,386.12V389.05M287.20,385.32V389.05M288.70,386.03V389.05M289.20,385.66V389.05M289.70,385.50V389.05M290.20,385.97V389.05M291.70,386.12V389.05M292.20,385.54V389.05M292.70,386.15V389.05M293.20,385.57V389.05M294.70,385.71V389.05M295.20,385.80V389.05M295.70,385.74V389.05M296.20,385.45V389.05M297.70,385.56V389.05M298.20,385.35V389.05M298.70,386.04V389.05M299.20,386.08V389.05M300.70,385.72V389.05M301.20,385.45V389.05M301.70,385.78V389.05M302.20,385.43V389.05M303.70,385.97V389.05M304.20,385.30V389.05M304.70,386.16V389.05M305.20,386.06V389.05M306.70,386.06V389.05M307.20,385.82V389.05M307.70,385.66V389.05M308.20,385.83V389.05M309.70,385.76V389.05M310.20,385.78V389.05M310.70,385.42V389.05M312.70,385.60V389.05M313.20,385.49V389.05M313.70,385.29V389.05M315.70,385.38V389.05M316.20,386.02V389.05M316.70,386.00V389.05M318.70,385.28V389.05M319.20,386.05V389.05M319.70,385.83V389.05M321.70,385.51V389.05M322.20,385.40V389.05M322.70,385.66V389.05M324.70,385.29V389.05M325.20,385.72V389.05M325.70,385.66V389.05" stroke="#2e9de6" stroke-width="0.75"/><path d="M220.20,388.72V408.25M220.70,389.10V408.02M221.20,389.30V408.30M223.20,389.06V408.08M223.70,388.63V408.19M224.20,388.73V408.55M226.20,389.35V408.22M226.70,388.96V408.47M227.20,389.01V408.60M229.20,388.95V407.86M229.70,389.45V407.95M230.20,389.00V407.89M232.20,389.17V408.12M232.70,388.74V408.53M233.20,389.17V407.79M235.20,389.48V408.50M235.70,389.40V408.68M236.20,388.83V408.37M238.20,388.67V408.53M238.70,389.22V408.53M239.20,388.81V408.39M241.20,389.04V407.91M241.70,388.85V408.31M242.20,389.49V408.00M244.20,389.07V408.39M244.70,389.27V408.22M245.20,388.69V408.47M246.70,389.00V408.44M247.20,389.03V408.58M247.70,388.94V407.85M248.20,388.86V408.41M249.70,389.28V407.92M250.20,388.78V407.86M250.70,388.90V408.01M251.20,389.27V408.49M252.70,389.04V408.06M253.20,388.62V408.28M253.70,388.76V408.45M254.20,389.27V407.89M255.70,389.01V407.82M256.20,389.41V408.44M256.70,389.33V408.07M257.20,388.75V408.62M258.70,389.39V408.38M259.20,389.29V408.56M259.70,389.39V408.28M260.20,389.22V407.96M261.70,388.62V408.33M262.20,389.22V408.30M262.70,388.60V408.52M263.20,388.96V408.59M264.70,389.07V408.63M265.20,389.02V408.27M265.70,389.34V408.43M266.20,389.18V408.57M267.70,389.23V407.78M268.20,389.28V408.67M268.70,389.21V408.57M269.20,388.71V407.96M270.70,389.23V408.09M271.20,389.31V407.81M271.70,388.92V408.60M272.20,389.07V408.47M273.70,388.94V408.05M274.20,388.97V408.22M274.70,389.04V408.43M275.20,388.85V407.89M276.70,389.09V408.16M277.20,388.79V408.21M277.70,389.19V408.40M278.20,389.17V408.02M279.70,388.63V408.11M280.20,389.38V408.39M280.70,388.84V408.26M281.20,389.17V408.53M282.70,389.07V408.52M283.20,388.88V408.46M283.70,388.71V408.00M284.20,388.63V408.55M285.70,389.12V408.43M286.20,388.62V408.61M286.70,389.29V408.52M287.20,389.35V408.51M288.70,389.36V407.80M289.20,388.79V408.60M289.70,389.42V408.65M290.20,389.25V408.50M291.70,388.85V408.54M292.20,388.85V407.99M292.70,388.87V408.10M293.20,389.03V408.36M294.70,388.81V408.21M295.20,389.20V408.31M295.70,388.70V408.00M296.20,388.83V408.21M297.70,388.95V407.81M298.20,389.14V408.16M298.70,388.82V408.17M299.20,389.34V408.14M300.70,389.28V408.08M301.20,389.43V407.86M301.70,389.44V408.20M302.20,389.04V408.62M303.70,389.20V407.83M304.20,388.86V408.30M304.70,388.91V408.30M305.20,388.77V408.57M306.70,389.48V408.21M307.20,389.07V408.60M307.70,389.44V408.52M308.20,389.02V408.58M309.70,389.27V408.13M310.20,389.43V408.17M310.70,388.82V408.22M312.70,389.33V408.04M313.20,389.19V408.53M313.70,388.64V408.60M315.70,389.10V407.83M316.20,388.80V408.09M316.70,388.88V403.57M318.70,388.76V403.89M319.20,389.08V403.74M319.70,388.69V403.96M321.70,388.69V403.30M322.20,389.22V403.60M322.70,389.12V403.81M324.70,388.63V403.79M325.20,388.79V403.94M325.70,388.87V403.55" stroke="#0f70c8" stroke-width="0.75"/><path d="M218.70,374.85V381.95M219.20,374.87V381.98M219.70,374.90V382.00M221.70,375.01V382.11M222.20,375.04V382.14M222.70,375.06V382.16M224.70,375.17V382.27M225.20,375.20V382.30M225.70,375.22V382.33M227.70,375.33V382.43M228.20,375.36V382.46M228.70,375.39V382.49M230.70,375.49V382.60M231.20,375.52V382.62M231.70,375.55V382.65M233.70,375.65V382.76M234.20,375.68V382.78M234.70,375.71V382.81M236.70,375.82V382.92M237.20,375.84V382.95M237.70,375.87V382.97M239.70,375.98V383.08M240.20,376.00V383.11M240.70,376.03V383.13M242.70,376.14V383.24M243.20,376.17V383.27M243.70,376.19V383.30M245.70,376.30V383.40M246.20,376.33V383.43M248.70,376.46V383.56M249.20,376.49V383.59M251.70,376.62V383.73M252.20,376.65V383.75M254.70,376.79V383.89M255.20,376.81V383.91M257.70,376.95V384.05M258.20,376.97V384.08M260.70,377.11V384.21M261.20,377.14V384.24M263.70,377.27V384.37M264.20,377.30V384.40M266.70,377.43V384.53M267.20,377.46V384.56M269.70,377.59V384.70M270.20,377.62V384.72M272.70,377.75V384.86M273.20,377.78V384.88M275.70,377.92V385.02M276.20,377.94V385.05M278.70,378.08V385.18M279.20,378.10V385.21M281.70,378.24V385.34M282.20,378.27V385.37M284.70,378.40V385.50M285.20,378.43V385.53M287.70,378.56V385.66M288.20,378.59V385.69M290.70,378.72V385.83M291.20,378.75V385.85M293.70,378.89V385.99M294.20,378.91V386.01M296.70,379.05V386.15M297.20,379.07V386.18M299.70,379.21V386.31M300.20,379.24V386.34M302.70,379.37V386.47M303.20,379.40V386.50M305.70,379.54V386.64M306.20,379.58V386.68M308.70,379.89V386.99M309.20,379.97V387.07M311.20,380.38V387.48M311.70,380.50V387.60M312.20,380.63V387.73M314.20,381.22V388.32M314.70,381.38V388.48M315.20,381.55V388.65M317.20,382.31V389.42M317.70,382.52V389.63M318.20,382.74V389.84M320.20,385.60V392.70M320.70,387.69V394.79M321.20,390.02V397.13M323.20,401.07V408.17M323.70,404.16V411.26M324.20,407.36V414.46M326.20,421.09V428.19M326.70,424.74V431.84M327.20,428.46V435.56" stroke="#ff4a0a" stroke-width="0.55" opacity="0.4"/><path d="M220.20,373.41V377.40M220.70,373.04V376.36M221.20,373.43V376.89M223.20,373.78V376.90M223.70,373.39V377.34M224.20,373.71V377.75M226.20,373.75V377.09M226.70,373.10V377.03M227.20,373.55V377.22M229.20,373.62V377.95M229.70,373.44V377.44M230.20,374.08V377.39M232.20,373.79V377.74M232.70,373.22V377.57M233.20,373.58V378.31M235.20,373.84V378.25M235.70,373.76V377.96M236.20,373.88V377.56M238.20,374.21V377.97M238.70,373.78V378.01M239.20,374.84V377.89M241.20,374.17V378.44M241.70,374.26V378.23M242.20,374.39V378.37M244.20,374.94V378.06M244.70,374.53V378.28M245.20,374.56V378.22M246.70,375.43V378.93M247.20,374.86V378.28M247.70,374.00V377.88M248.20,375.43V378.41M249.70,375.72V379.30M250.20,374.71V378.13M250.70,374.55V378.37M251.20,374.98V378.64M252.70,376.31V379.45M253.20,375.36V378.76M253.70,374.43V378.23M254.20,375.42V379.31M255.70,376.44V380.14M256.20,374.60V379.13M256.70,374.87V378.89M257.20,375.37V379.29M258.70,376.00V379.63M259.20,375.67V379.51M259.70,374.82V379.25M260.20,375.64V379.07M261.70,376.39V379.54M262.20,375.16V378.77M262.70,374.89V379.04M263.20,375.78V379.48M264.70,376.42V380.02M265.20,375.72V378.90M265.70,374.99V378.86M266.20,375.66V379.58M267.70,376.44V380.51M268.20,375.99V379.26M268.70,375.99V379.77M269.20,375.99V379.84M270.70,377.03V380.80M271.20,376.24V379.33M271.70,375.59V379.40M272.20,376.40V379.97M273.70,376.42V380.11M274.20,375.90V379.48M274.70,375.91V380.24M275.20,376.65V380.53M276.70,376.44V380.44M277.20,376.32V380.27M277.70,375.61V380.12M278.20,377.27V380.30M279.70,376.65V380.38M280.20,376.38V380.11M280.70,376.02V379.67M281.20,377.29V381.23M282.70,377.17V380.73M283.20,376.03V380.66M283.70,376.27V380.51M284.20,377.77V381.08M285.70,377.12V381.38M286.20,376.27V380.01M286.70,377.07V380.40M287.20,377.73V381.03M288.70,377.03V381.27M289.20,376.84V380.17M289.70,376.56V380.62M290.20,377.51V381.16M291.70,377.72V381.31M292.20,377.29V380.94M292.70,376.60V380.47M293.20,377.76V381.28M294.70,377.55V381.88M295.20,377.17V381.06M295.70,377.57V380.64M296.20,378.44V382.02M297.70,378.12V381.69M298.20,376.87V380.77M298.70,377.29V380.67M299.20,378.07V381.90M300.70,377.72V381.39M301.20,377.16V381.58M301.70,377.18V381.18M302.20,378.10V382.69M303.70,378.28V382.16M304.20,376.98V381.18M304.70,378.22V381.62M305.20,378.67V382.70M306.70,378.26V381.79M307.20,378.12V380.96M307.70,377.74V381.36M308.20,378.83V382.36M309.70,378.70V382.35M310.20,378.24V381.45M310.70,378.69V382.14M312.70,379.56V383.54M313.20,378.50V383.17M313.70,379.04V383.07M315.70,379.90V384.46M316.20,379.87V384.12M316.70,379.99V384.20M318.70,381.45V385.02M319.20,381.39V385.40M319.70,382.19V385.68M321.70,391.21V394.81M322.20,393.09V397.49M322.70,396.00V399.82M324.70,408.96V412.80M325.20,411.59V415.56M325.70,416.00V420.14" stroke="#ff4a0a" stroke-width="0.75"/><path d="M318.94,384.09L319.04,384.13L319.14,384.18L319.25,384.23L319.35,384.28L319.46,384.33L319.56,384.53L319.67,384.80L319.77,385.11L319.88,385.45L319.98,385.81L320.09,386.19L320.19,386.58L320.30,386.99L320.40,387.42L320.51,387.86L320.61,388.31L320.72,388.77L320.82,389.24L320.92,389.72L321.03,390.22L321.13,390.72L321.24,391.23L321.34,391.75L321.45,392.27L321.55,392.81L321.66,393.35L321.76,393.90L321.87,394.45L321.97,395.02L322.08,395.59L322.18,396.16L322.29,396.75L322.39,397.33L322.49,397.93L322.60,398.53L322.70,399.14L322.81,399.75L322.91,400.37L323.02,400.99L323.12,401.62L323.23,402.25L323.33,402.89L323.44,403.53L323.54,404.18L323.65,404.84L323.75,405.49L323.86,406.16L323.96,406.83L324.07,407.50L324.17,408.17L324.27,408.86L324.38,409.54L324.48,410.23L324.59,410.92L324.69,411.62L324.80,412.33L324.90,413.03L325.01,413.74L325.11,414.46L325.22,415.17L325.32,415.90L325.43,416.62L325.53,417.35L325.64,418.09L325.74,418.82L325.84,419.56L325.95,420.31L326.05,421.06L326.16,421.81L326.26,422.56L326.37,423.32L326.47,424.09L326.58,424.85L326.68,425.62L326.79,426.39L326.89,427.17L327.00,427.95L327.10,428.73L327.21,429.52L327.31,430.30L327.42,431.10L327.52,431.89" stroke="#ff4a0a" stroke-width="1.4" opacity="0.9"/></g><path d="M218.7,364.7H334.9M218.7,440.8H334.9" stroke="#3a3a3a" stroke-width="1" fill="none"/><path d="M218.7,364.2V441.3" stroke="#1c8ad6" stroke-width="1.1" fill="none"/><path d="M334.9,364.2V441.3" stroke="#ff5520" stroke-width="1.1" fill="none"/><path d="M218.7,440.8v-1.5M218.7,364.7v1.5M244.9,440.8v-1.5M244.9,364.7v1.5M271.0,440.8v-1.5M271.0,364.7v1.5M297.2,440.8v-1.5M297.2,364.7v1.5M323.4,440.8v-1.5M323.4,364.7v1.5" stroke="#3a3a3a" stroke-width="0.8" fill="none"/><path d="M218.7,364.7h1.5M218.7,379.9h1.5M218.7,395.1h1.5M218.7,410.4h1.5M218.7,425.6h1.5M218.7,440.8h1.5" stroke="#1c8ad6" stroke-width="0.8" fill="none"/><path d="M334.9,364.7h-1.5M334.9,390.1h-1.5M334.9,415.4h-1.5M334.9,440.8h-1.5" stroke="#ff5520" stroke-width="0.8" fill="none"/><text x="218.7" y="448.7" font-size="6.8" fill="#222" stroke="#222" stroke-width="0.25" text-anchor="middle" font-weight="bold" >0</text><text x="244.9" y="448.7" font-size="6.8" fill="#222" stroke="#222" stroke-width="0.25" text-anchor="middle" font-weight="bold" >1</text><text x="271.0" y="448.7" font-size="6.8" fill="#222" stroke="#222" stroke-width="0.25" text-anchor="middle" font-weight="bold" >2</text><text x="297.2" y="448.7" font-size="6.8" fill="#222" stroke="#222" stroke-width="0.25" text-anchor="middle" font-weight="bold" >3</text><text x="323.4" y="448.7" font-size="6.8" fill="#222" stroke="#222" stroke-width="0.25" text-anchor="middle" font-weight="bold" >4</text><text x="216.2" y="367.2" font-size="7.1" fill="#1c8ad6" stroke="#1c8ad6" stroke-width="0.3" text-anchor="end" font-weight="bold" >100</text><text x="216.2" y="382.4" font-size="7.1" fill="#1c8ad6" stroke="#1c8ad6" stroke-width="0.3" text-anchor="end" font-weight="bold" >50</text><text x="216.2" y="397.6" font-size="7.1" fill="#1c8ad6" stroke="#1c8ad6" stroke-width="0.3" text-anchor="end" font-weight="bold" >0</text><text x="216.2" y="412.9" font-size="7.1" fill="#1c8ad6" stroke="#1c8ad6" stroke-width="0.3" text-anchor="end" font-weight="bold" >&#8722;50</text><text x="216.2" y="428.1" font-size="7.1" fill="#1c8ad6" stroke="#1c8ad6" stroke-width="0.3" text-anchor="end" font-weight="bold" >&#8722;100</text><text x="216.2" y="443.3" font-size="7.1" fill="#1c8ad6" stroke="#1c8ad6" stroke-width="0.3" text-anchor="end" font-weight="bold" >&#8722;150</text><text x="337.4" y="367.2" font-size="7.1" fill="#ff5520" stroke="#ff5520" stroke-width="0.1" text-anchor="start" font-weight="bold" >3.5</text><text x="337.4" y="392.6" font-size="7.1" fill="#ff5520" stroke="#ff5520" stroke-width="0.1" text-anchor="start" font-weight="bold" >3</text><text x="337.4" y="417.9" font-size="7.1" fill="#ff5520" stroke="#ff5520" stroke-width="0.1" text-anchor="start" font-weight="bold" >2.5</text><text x="337.4" y="443.3" font-size="7.1" fill="#ff5520" stroke="#ff5520" stroke-width="0.1" text-anchor="start" font-weight="bold" >2</text><text x="276.8" y="460.8" font-size="10.7" fill="#111" stroke="#111" stroke-width="0.25" text-anchor="middle" font-weight="bold" >Time/s</text><text x="335.4" y="459.8" font-size="7.6" fill="#222" text-anchor="end" font-weight="normal">&#215;10<tspan dy="-3.2" font-size="5.4">4</tspan></text><text transform="translate(200.2,402.2) rotate(-90)" font-size="11" fill="#1c8ad6" stroke="#1c8ad6" stroke-width="0.3" text-anchor="middle" font-weight="bold">Current/A</text><text transform="translate(356.9,403.8) rotate(-90)" font-size="10.7" fill="#ff5520" stroke="#ff5520" stroke-width="0.3" text-anchor="middle" font-weight="bold">Voltage<tspan dy="5" dx="0.5" font-size="7.6">min</tspan><tspan dy="-5">/V</tspan></text><text x="190.9" y="362.4" font-size="10.5" fill="#111" stroke="#111" stroke-width="0.25" text-anchor="start" font-weight="bold" >(j)</text><clipPath id="c11"><rect x="403.0" y="363.6" width="113.8" height="74.4"/></clipPath><g clip-path="url(#c11)" fill="none"><path d="M403.00,374.51L403.50,374.53L404.00,374.54L404.50,374.56L405.00,374.57L405.50,374.59L406.00,374.60L406.50,374.62L407.00,374.63L407.50,374.65L408.00,374.66L408.50,374.68L409.00,374.69L409.50,374.71L410.00,374.72L410.50,374.74L411.00,374.75L411.50,374.77L412.00,374.78L412.50,374.80L413.00,374.81L413.50,374.83L414.00,374.84L414.50,374.86L415.00,374.87L415.50,374.89L416.00,374.90L416.50,374.92L417.00,374.93L417.50,374.95L418.00,374.96L418.50,374.98L419.00,374.99L419.50,375.01L420.00,375.02L420.50,375.04L421.00,375.05L421.50,375.06L422.00,375.08L422.50,375.09L423.00,375.11L423.50,375.12L424.00,375.14L424.50,375.15L425.00,375.17L425.50,375.18L426.00,375.20L426.50,375.21L427.00,375.23L427.50,375.24L428.00,375.26L428.50,375.27L429.00,375.29L429.50,375.30L430.00,375.32L430.50,375.33L431.00,375.35L431.50,375.36L432.00,375.38L432.50,375.39L433.00,375.41L433.50,375.42L434.00,375.44L434.50,375.45L435.00,375.47L435.50,375.48L436.00,375.50L436.50,375.51L437.00,375.53L437.50,375.54L438.00,375.56L438.50,375.57L439.00,375.59L439.50,375.60L440.00,375.62L440.50,375.63L441.00,375.65L441.50,375.66L442.00,375.68L442.50,375.69L443.00,375.71L443.50,375.72L444.00,375.74L444.50,375.75L445.00,375.77L445.50,375.78L446.00,375.80L446.50,375.81L447.00,375.83L447.50,375.84L448.00,375.86L448.50,375.87L449.00,375.89L449.50,375.90L450.00,375.92L450.50,375.93L451.00,375.95L451.50,375.96L452.00,375.98L452.50,375.99L453.00,376.01L453.50,376.02L454.00,376.04L454.50,376.05L455.00,376.07L455.50,376.08L456.00,376.10L456.50,376.11L457.00,376.13L457.50,376.14L458.00,376.16L458.50,376.17L459.00,376.19L459.50,376.20L460.00,376.22L460.50,376.23L461.00,376.25L461.50,376.27L462.00,376.29L462.50,376.31L463.00,376.33L463.50,376.36L464.00,376.38L464.50,376.41L465.00,376.44L465.50,376.47L466.00,376.50L466.50,376.53L467.00,376.56L467.50,376.60L468.00,376.64L468.50,376.67L469.00,376.71L469.50,376.75L470.00,376.80L470.50,376.84L471.00,376.88L471.50,376.93L472.00,376.98L472.50,377.03L473.00,377.08L473.50,377.13L474.00,377.18L474.50,377.24L475.00,377.29L475.50,377.35L476.00,377.41L476.50,377.47L477.00,377.53L477.50,377.59L478.00,377.66L478.50,377.72L479.00,377.79L479.50,377.86L480.00,377.93L480.50,378.00L481.00,378.07L481.50,378.14L482.00,378.22L482.50,378.30L483.00,378.37L483.50,378.45L484.00,378.53L484.50,378.62L485.00,378.70L485.50,378.78L486.00,378.87L486.50,378.96L487.00,379.05L487.50,379.14L488.00,379.23L488.50,379.32L489.00,379.42L489.50,379.51L490.00,379.61L490.50,379.71L491.00,379.81L491.50,379.91L492.00,380.01L492.50,380.12L493.00,380.22L493.50,380.33L494.00,380.44L494.50,380.55L495.00,380.66L495.50,380.77L496.00,380.89L496.50,381.00L497.00,381.12L497.50,381.23L498.00,380.65L498.50,381.74L499.00,383.26L499.50,385.07L500.00,387.12L500.50,389.36L501.00,391.79L501.50,394.36L502.00,397.09L502.50,399.95L503.00,402.93L503.50,406.03L504.00,409.25L504.50,412.56L505.00,415.99L505.50,419.50L506.00,423.11L506.50,426.81L507.00,430.60" stroke="#ff5a20" stroke-width="0.8" opacity="0.75"/><path d="M435.37,365.83V432.12M441.53,365.83V430.95M488.95,365.83V430.48M504.12,365.83V394.51" stroke="#4aa8e6" stroke-width="0.6" opacity="0.55"/><path d="M434.77,364.66V434.47M440.93,364.66V433.30M488.35,364.66V432.83M503.52,364.66V396.86" stroke="#4aa8e6" stroke-width="0.75" opacity="0.8"/><path d="M403.00,400.84V402.86M403.50,400.63V403.39M404.00,401.00V403.31M404.50,400.18V402.74M405.00,401.15V402.74M405.50,400.70V403.92M406.00,400.46V403.40M406.50,400.31V403.99M407.00,400.05V403.33M407.50,400.10V403.04M408.00,400.19V402.47M408.50,399.83V403.25M409.00,400.29V402.72M409.50,400.31V402.46M410.00,401.01V402.74M410.50,400.22V402.98M411.00,400.34V403.08M411.50,400.12V402.96M412.00,400.62V403.15M412.50,400.52V403.12M413.00,400.99V402.99M413.50,399.90V402.75M414.00,400.70V403.71M414.50,399.89V403.52M415.00,401.00V403.08M415.50,400.51V403.46M416.00,401.01V403.34M416.50,400.44V402.83M417.00,400.82V402.77M417.50,400.09V403.00M418.00,399.79V402.96M418.50,401.28V403.11M419.00,400.33V402.93M419.50,400.83V403.24M420.00,400.89V402.81M420.50,400.92V402.75M421.00,400.80V403.15M421.50,400.63V402.21M422.00,400.77V403.67M422.50,400.21V403.04M423.00,401.26V403.95M423.50,400.72V403.66M424.00,400.05V402.92M424.50,400.00V402.85M425.00,400.31V403.22M425.50,400.63V403.24M426.00,399.91V402.58M426.50,401.37V403.26M427.00,400.55V402.58M427.50,400.27V403.17M428.00,400.62V403.16M428.50,400.44V402.32M429.00,400.79V402.71M429.50,400.28V403.35M430.00,399.75V402.79M430.50,400.22V403.25M431.00,399.93V402.46M431.50,399.74V402.37M432.00,401.06V403.20M432.50,401.07V403.24M433.00,399.65V402.97M433.50,400.51V403.60M434.00,400.40V402.77M434.50,400.49V402.99M435.00,400.16V403.03M435.50,400.53V403.12M436.00,400.53V402.65M436.50,400.11V403.04M437.00,400.08V402.71M437.50,400.49V403.04M438.00,401.10V403.02M438.50,400.99V402.56M439.00,399.65V402.73M439.50,400.05V402.68M440.00,400.14V403.60M440.50,400.57V402.57M441.00,400.67V403.08M441.50,399.95V403.15M442.00,399.94V402.44M442.50,400.87V403.00M443.00,400.16V402.95M443.50,400.80V403.02M444.00,400.14V402.90M444.50,400.74V403.00M445.00,400.06V402.78M445.50,400.41V402.40M446.00,399.90V402.88M446.50,400.37V403.02M447.00,400.70V403.37M447.50,399.69V403.36M448.00,400.13V402.82M448.50,400.21V402.92M449.00,400.92V403.18M449.50,400.51V402.85M450.00,400.91V402.96M450.50,400.77V403.61M451.00,400.93V403.27M451.50,400.84V402.98M452.00,400.48V402.63M452.50,400.78V403.02M453.00,400.39V402.82M453.50,399.67V403.38M454.00,399.95V403.12M454.50,400.80V402.70M455.00,400.33V403.11M455.50,399.87V403.29M456.00,401.18V403.52M456.50,400.75V403.64M457.00,400.44V403.17M457.50,400.77V403.02M458.00,400.92V403.38M458.50,400.88V402.77M459.00,401.34V403.21M459.50,400.61V402.57M460.00,401.05V403.68M460.50,400.13V402.75M461.00,400.23V402.75M461.50,400.50V402.90M462.00,400.81V402.77M462.50,400.03V402.95M463.00,400.73V403.28M463.50,400.37V403.47M464.00,400.98V403.34M464.50,400.90V402.72M465.00,400.34V403.47M465.50,400.70V403.29M466.00,400.18V403.43M466.50,400.37V402.49M467.00,400.58V403.47M467.50,400.31V403.25M468.00,400.95V402.90M468.50,400.29V403.63M469.00,400.24V402.73M469.50,400.63V403.20M470.00,399.92V403.55M470.50,400.51V402.94M471.00,400.48V403.33M471.50,400.56V403.83M472.00,400.63V402.77M472.50,400.38V402.31M473.00,400.54V402.96M473.50,399.91V402.63M474.00,400.63V403.26M474.50,400.08V403.60M475.00,400.13V403.53M475.50,400.18V402.77M476.00,400.94V402.52M476.50,400.46V403.60M477.00,401.13V403.84M477.50,400.79V403.27M478.00,400.50V403.69M478.50,401.20V403.75M479.00,401.14V403.45M479.50,400.26V403.51M480.00,400.74V403.03M480.50,400.00V403.25M481.00,399.87V402.93M481.50,400.28V403.08M482.00,400.30V402.40M482.50,400.64V402.67M483.00,401.03V403.82M483.50,400.98V402.84M484.00,400.39V402.64M484.50,400.71V403.60M485.00,400.75V402.71M485.50,400.70V403.03M486.00,399.89V403.31M486.50,400.05V403.28M487.00,400.49V402.57M487.50,400.34V402.27M488.00,400.19V402.69M488.50,400.53V403.21M489.00,401.23V403.78M489.50,400.07V403.52M490.00,400.29V402.57M490.50,400.64V403.52M491.00,399.97V402.59M491.50,400.44V403.78M492.00,400.02V402.79M492.50,399.91V402.72M493.00,400.57V402.83M493.50,400.63V403.77M494.00,400.90V402.71M494.50,400.00V403.10M495.00,400.38V402.77M495.50,400.01V402.52M496.00,400.87V402.86M496.50,401.15V403.11M497.00,400.54V403.17M497.50,399.99V402.46M498.00,399.97V403.09M498.50,400.70V402.67M499.00,400.67V403.34M499.50,400.10V403.34M500.00,399.89V403.35M500.50,399.59V402.56M501.00,399.91V402.91M501.50,400.69V402.55M502.00,400.75V402.94M502.50,401.16V403.38M503.05,395.22V397.57M503.55,395.22V397.57M504.05,395.22V397.57M504.55,395.22V397.57M505.05,395.22V397.57M505.55,395.22V397.57M506.05,395.22V397.57M506.55,395.22V397.57M507.05,395.22V397.57" stroke="#0f70c8" stroke-width="0.75"/></g><path d="M403.0,363.6H516.8M403.0,438.0H516.8" stroke="#3a3a3a" stroke-width="1" fill="none"/><path d="M403.0,363.1V438.5" stroke="#1c8ad6" stroke-width="1.1" fill="none"/><path d="M516.8,363.1V438.5" stroke="#ff5520" stroke-width="1.1" fill="none"/><path d="M403.0,438.0v-1.5M403.0,363.6v1.5M422.0,438.0v-1.5M422.0,363.6v1.5M440.9,438.0v-1.5M440.9,363.6v1.5M459.9,438.0v-1.5M459.9,363.6v1.5M478.9,438.0v-1.5M478.9,363.6v1.5M497.8,438.0v-1.5M497.8,363.6v1.5M516.8,438.0v-1.5M516.8,363.6v1.5" stroke="#3a3a3a" stroke-width="0.8" fill="none"/><path d="M403.0,367.5h1.5M403.0,391.0h1.5M403.0,414.5h1.5M403.0,438.0h1.5" stroke="#1c8ad6" stroke-width="0.8" fill="none"/><path d="M516.8,363.6h-1.5M516.8,388.4h-1.5M516.8,413.2h-1.5M516.8,438.0h-1.5" stroke="#ff5520" stroke-width="0.8" fill="none"/><text x="403.0" y="445.9" font-size="6.8" fill="#222" stroke="#222" stroke-width="0.25" text-anchor="middle" font-weight="bold" >0</text><text x="422.0" y="445.9" font-size="6.8" fill="#222" stroke="#222" stroke-width="0.25" text-anchor="middle" font-weight="bold" >0.2</text><text x="440.9" y="445.9" font-size="6.8" fill="#222" stroke="#222" stroke-width="0.25" text-anchor="middle" font-weight="bold" >0.4</text><text x="459.9" y="445.9" font-size="6.8" fill="#222" stroke="#222" stroke-width="0.25" text-anchor="middle" font-weight="bold" >0.6</text><text x="478.9" y="445.9" font-size="6.8" fill="#222" stroke="#222" stroke-width="0.25" text-anchor="middle" font-weight="bold" >0.8</text><text x="497.8" y="445.9" font-size="6.8" fill="#222" stroke="#222" stroke-width="0.25" text-anchor="middle" font-weight="bold" >1</text><text x="516.8" y="445.9" font-size="6.8" fill="#222" stroke="#222" stroke-width="0.25" text-anchor="middle" font-weight="bold" >1.2</text><text x="400.5" y="370.0" font-size="7.1" fill="#1c8ad6" stroke="#1c8ad6" stroke-width="0.3" text-anchor="end" font-weight="bold" >100</text><text x="400.5" y="393.5" font-size="7.1" fill="#1c8ad6" stroke="#1c8ad6" stroke-width="0.3" text-anchor="end" font-weight="bold" >0</text><text x="400.5" y="417.0" font-size="7.1" fill="#1c8ad6" stroke="#1c8ad6" stroke-width="0.3" text-anchor="end" font-weight="bold" >&#8722;100</text><text x="400.5" y="440.5" font-size="7.1" fill="#1c8ad6" stroke="#1c8ad6" stroke-width="0.3" text-anchor="end" font-weight="bold" >&#8722;200</text><text x="519.3" y="366.1" font-size="7.1" fill="#ff5520" stroke="#ff5520" stroke-width="0.1" text-anchor="start" font-weight="bold" >3.5</text><text x="519.3" y="390.9" font-size="7.1" fill="#ff5520" stroke="#ff5520" stroke-width="0.1" text-anchor="start" font-weight="bold" >3</text><text x="519.3" y="415.7" font-size="7.1" fill="#ff5520" stroke="#ff5520" stroke-width="0.1" text-anchor="start" font-weight="bold" >2.5</text><text x="519.3" y="440.5" font-size="7.1" fill="#ff5520" stroke="#ff5520" stroke-width="0.1" text-anchor="start" font-weight="bold" >2</text><text x="459.9" y="458.0" font-size="10.7" fill="#111" stroke="#111" stroke-width="0.25" text-anchor="middle" font-weight="bold" >Time/s</text><text x="517.3" y="457.0" font-size="7.6" fill="#222" text-anchor="end" font-weight="normal">&#215;10<tspan dy="-3.2" font-size="5.4">4</tspan></text><text transform="translate(384.5,400.3) rotate(-90)" font-size="11" fill="#1c8ad6" stroke="#1c8ad6" stroke-width="0.3" text-anchor="middle" font-weight="bold">Current/A</text><text transform="translate(538.8,401.8) rotate(-90)" font-size="10.7" fill="#ff5520" stroke="#ff5520" stroke-width="0.3" text-anchor="middle" font-weight="bold">Voltage<tspan dy="5" dx="0.5" font-size="7.6">min</tspan><tspan dy="-5">/V</tspan></text><text x="373.6" y="364.2" font-size="10.5" fill="#111" stroke="#111" stroke-width="0.25" text-anchor="start" font-weight="bold" >(k)</text></svg>
<svg width="550" height="472" style="position:absolute;left:0;top:0"><rect x="4.3" y="3.8" width="541.9" height="463.7" fill="none" stroke="#111" stroke-width="1.7"/><line x1="4" y1="233.5" x2="546" y2="233.5" stroke="#111" stroke-width="1.7"/><line x1="4" y1="345.5" x2="546" y2="345.5" stroke="#111" stroke-width="1.7"/><line x1="189.5" y1="4" x2="189.5" y2="233.5" stroke="#111" stroke-width="1.7"/><line x1="367.2" y1="4" x2="367.2" y2="233.5" stroke="#111" stroke-width="1.7"/><line x1="281" y1="233.5" x2="281" y2="345.5" stroke="#111" stroke-width="1.7"/><line x1="185" y1="345.5" x2="185" y2="467" stroke="#111" stroke-width="1.7"/><line x1="367.5" y1="345.5" x2="367.5" y2="467" stroke="#111" stroke-width="1.7"/></svg>
</body></html>
